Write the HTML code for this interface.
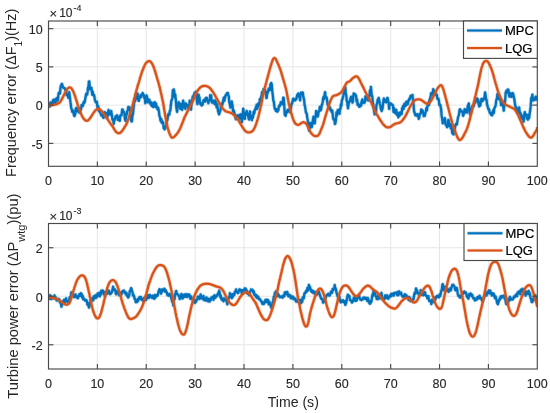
<!DOCTYPE html>
<html><head><meta charset="utf-8"><title>Frequency and turbine power error</title>
<style>html,body{margin:0;padding:0;background:#fff;width:550px;height:413px;overflow:hidden}svg{display:block}</style>
</head><body>
<svg width="550" height="413" viewBox="0 0 550 413" font-family="'Liberation Sans', Arial, Helvetica, sans-serif">
<defs><clipPath id="c1"><rect x="48.5" y="21.0" width="488.79999999999995" height="145.3"/></clipPath>
<clipPath id="c2"><rect x="48.5" y="223.5" width="488.79999999999995" height="145.5"/></clipPath></defs>
<rect width="550" height="413" fill="#fff"/>
<line x1="97.38" y1="21.0" x2="97.38" y2="166.3" stroke="#e6e6e6" stroke-width="1"/>
<line x1="146.26" y1="21.0" x2="146.26" y2="166.3" stroke="#e6e6e6" stroke-width="1"/>
<line x1="195.14" y1="21.0" x2="195.14" y2="166.3" stroke="#e6e6e6" stroke-width="1"/>
<line x1="244.02" y1="21.0" x2="244.02" y2="166.3" stroke="#e6e6e6" stroke-width="1"/>
<line x1="292.90" y1="21.0" x2="292.90" y2="166.3" stroke="#e6e6e6" stroke-width="1"/>
<line x1="341.78" y1="21.0" x2="341.78" y2="166.3" stroke="#e6e6e6" stroke-width="1"/>
<line x1="390.66" y1="21.0" x2="390.66" y2="166.3" stroke="#e6e6e6" stroke-width="1"/>
<line x1="439.54" y1="21.0" x2="439.54" y2="166.3" stroke="#e6e6e6" stroke-width="1"/>
<line x1="488.42" y1="21.0" x2="488.42" y2="166.3" stroke="#e6e6e6" stroke-width="1"/>
<line x1="48.5" y1="28.65" x2="537.3" y2="28.65" stroke="#e6e6e6" stroke-width="1"/>
<line x1="48.5" y1="66.88" x2="537.3" y2="66.88" stroke="#e6e6e6" stroke-width="1"/>
<line x1="48.5" y1="105.12" x2="537.3" y2="105.12" stroke="#e6e6e6" stroke-width="1"/>
<line x1="48.5" y1="143.36" x2="537.3" y2="143.36" stroke="#e6e6e6" stroke-width="1"/>
<line x1="97.38" y1="223.5" x2="97.38" y2="369.0" stroke="#e6e6e6" stroke-width="1"/>
<line x1="146.26" y1="223.5" x2="146.26" y2="369.0" stroke="#e6e6e6" stroke-width="1"/>
<line x1="195.14" y1="223.5" x2="195.14" y2="369.0" stroke="#e6e6e6" stroke-width="1"/>
<line x1="244.02" y1="223.5" x2="244.02" y2="369.0" stroke="#e6e6e6" stroke-width="1"/>
<line x1="292.90" y1="223.5" x2="292.90" y2="369.0" stroke="#e6e6e6" stroke-width="1"/>
<line x1="341.78" y1="223.5" x2="341.78" y2="369.0" stroke="#e6e6e6" stroke-width="1"/>
<line x1="390.66" y1="223.5" x2="390.66" y2="369.0" stroke="#e6e6e6" stroke-width="1"/>
<line x1="439.54" y1="223.5" x2="439.54" y2="369.0" stroke="#e6e6e6" stroke-width="1"/>
<line x1="488.42" y1="223.5" x2="488.42" y2="369.0" stroke="#e6e6e6" stroke-width="1"/>
<line x1="48.5" y1="247.75" x2="537.3" y2="247.75" stroke="#e6e6e6" stroke-width="1"/>
<line x1="48.5" y1="296.25" x2="537.3" y2="296.25" stroke="#e6e6e6" stroke-width="1"/>
<line x1="48.5" y1="344.75" x2="537.3" y2="344.75" stroke="#e6e6e6" stroke-width="1"/>
<g clip-path="url(#c1)"><polyline points="48.5,106.2 49.0,103.6 49.6,106.7 50.2,105.6 50.7,102.3 51.2,103.3 51.7,102.7 52.1,103.4 52.6,103.8 53.1,100.2 53.6,99.8 54.2,104.0 54.7,102.0 55.2,103.7 55.7,98.9 56.2,100.5 56.6,101.1 57.1,97.8 57.6,100.5 58.0,99.3 58.5,93.8 59.0,92.8 59.5,93.5 60.0,93.5 60.4,88.5 60.9,85.6 61.3,86.3 61.8,83.8 62.2,84.4 62.7,86.5 63.3,87.9 63.8,87.6 64.3,88.0 64.8,88.4 65.3,90.1 65.7,90.2 66.2,89.9 66.6,95.2 67.0,94.6 67.5,95.9 67.9,94.4 68.3,97.9 68.8,96.6 69.2,92.1 69.8,96.4 70.4,101.6 70.8,104.5 71.3,108.6 71.7,108.9 72.2,111.8 72.7,111.8 73.1,110.7 73.6,113.0 74.0,115.4 74.5,116.0 74.9,115.1 75.3,113.6 75.8,108.8 76.2,108.0 76.7,111.2 77.2,109.5 77.6,108.6 78.1,110.9 78.6,112.1 79.0,112.5 79.5,111.4 80.0,112.2 80.5,110.0 81.1,108.9 81.6,105.0 82.1,105.0 82.7,106.1 83.2,104.4 83.7,101.9 84.3,102.8 84.8,101.7 85.3,98.4 85.8,96.0 86.3,93.6 86.7,93.6 87.2,94.5 87.6,91.7 88.0,87.6 88.5,86.4 88.9,81.5 89.3,81.4 89.8,87.5 90.2,89.4 90.8,88.8 91.4,87.8 91.8,90.9 92.3,94.8 92.7,91.5 93.1,95.1 93.6,94.9 94.0,94.8 94.4,96.8 94.9,99.9 95.3,101.2 95.9,102.4 96.5,102.6 96.9,101.8 97.4,107.1 97.8,106.6 98.2,106.3 98.7,109.6 99.1,111.2 99.6,111.2 100.0,111.7 100.5,113.4 101.0,114.4 101.4,115.5 101.9,115.7 102.3,114.5 102.9,116.8 103.5,117.8 103.9,117.0 104.4,115.4 104.8,112.2 105.2,113.4 105.7,114.8 106.1,113.1 106.7,117.5 107.3,117.9 107.7,113.3 108.2,111.5 108.6,110.0 109.0,114.5 109.5,112.5 109.9,112.4 110.3,114.6 110.8,112.8 111.2,111.0 111.8,114.6 112.4,119.6 112.8,118.8 113.3,120.5 113.7,123.8 114.1,121.4 114.6,119.6 115.0,119.4 115.5,116.4 116.0,117.7 116.4,117.2 116.9,115.4 117.3,115.4 117.8,119.9 118.2,118.4 118.7,117.1 119.3,119.5 119.8,120.9 120.2,116.0 120.7,115.1 121.1,115.0 121.6,115.2 122.2,109.5 122.7,109.6 123.2,111.1 123.8,112.1 124.3,112.1 124.9,118.9 125.5,120.8 125.9,117.5 126.4,114.1 126.8,114.4 127.3,111.2 127.8,110.2 128.3,107.0 128.9,109.4 129.4,107.3 130.0,109.4 130.5,116.9 131.1,120.4 131.6,121.5 132.0,121.0 132.5,114.7 132.9,114.6 133.3,110.6 133.8,105.9 134.2,102.1 134.7,98.6 135.2,101.0 135.7,94.4 136.2,98.1 136.6,98.5 137.1,96.0 137.6,93.6 138.0,98.7 138.5,100.8 138.9,100.9 139.3,98.8 139.8,97.2 140.2,96.0 140.7,95.0 141.1,97.2 141.6,95.7 142.1,94.2 142.7,93.0 143.3,95.2 143.8,95.0 144.3,97.8 144.8,98.6 145.3,103.2 145.9,101.6 146.5,95.3 147.0,96.9 147.4,98.3 147.9,102.4 148.4,102.1 148.9,100.0 149.4,99.6 149.8,102.3 150.3,103.4 150.8,104.6 151.3,102.4 151.8,106.0 152.3,105.8 152.8,104.5 153.2,107.0 153.7,102.9 154.2,105.3 154.7,102.2 155.1,102.9 155.6,107.0 156.1,103.6 156.6,107.2 157.1,107.2 157.5,109.3 158.0,107.6 158.5,109.4 158.9,111.2 159.4,116.1 159.9,116.7 160.4,120.1 160.9,121.4 161.3,119.0 161.8,122.8 162.3,121.4 162.8,122.0 163.2,123.1 163.7,128.2 164.2,128.5 164.7,129.3 165.2,127.5 165.8,126.6 166.3,125.1 166.9,120.7 167.4,120.1 167.9,116.7 168.3,114.3 168.8,113.7 169.3,114.8 169.8,111.0 170.3,110.7 170.9,104.9 171.4,100.5 172.0,99.8 172.4,97.2 172.9,90.1 173.3,90.7 173.8,89.4 174.2,91.3 174.7,97.1 175.2,94.4 175.8,99.7 176.4,107.9 177.1,111.9 177.6,107.3 178.2,104.6 178.7,102.1 179.2,105.8 179.8,103.6 180.3,108.9 180.7,103.8 181.1,104.5 181.6,108.7 182.1,109.9 182.6,104.6 183.1,100.7 183.5,101.7 184.0,107.5 184.4,107.3 184.9,105.5 185.4,108.8 185.9,103.5 186.4,105.8 186.9,105.6 187.3,105.6 187.8,104.9 188.3,108.2 188.8,107.4 189.2,106.3 189.7,100.7 190.1,102.7 190.6,106.3 191.0,109.7 191.4,104.5 191.9,102.2 192.3,99.1 192.8,96.4 193.2,97.2 193.7,95.3 194.2,94.4 194.7,92.6 195.1,92.7 195.6,95.4 196.1,91.6 196.7,98.4 197.3,104.0 197.7,103.1 198.2,97.7 198.6,94.7 199.0,96.3 199.5,97.7 199.9,102.0 200.3,104.1 200.8,103.0 201.2,105.0 201.7,105.5 202.1,105.0 202.6,104.4 203.1,102.0 203.6,100.3 204.1,101.0 204.5,99.7 205.0,101.7 205.5,98.5 205.9,97.9 206.4,100.2 206.9,97.8 207.4,101.2 207.9,100.5 208.3,103.2 208.8,100.3 209.3,100.5 209.8,100.4 210.2,95.1 210.7,98.0 211.1,95.5 211.6,100.1 212.0,102.7 212.5,102.7 213.1,100.9 213.6,100.7 214.1,102.3 214.7,104.0 215.2,100.3 215.7,104.7 216.1,102.1 216.6,107.4 217.1,104.1 217.6,107.0 218.1,111.5 218.5,112.4 219.0,114.4 219.5,113.1 219.9,111.6 220.4,110.4 220.9,106.7 221.4,106.5 221.9,103.5 222.3,104.8 222.8,103.0 223.3,99.7 223.8,97.6 224.2,101.1 224.7,99.2 225.3,96.4 225.8,94.9 226.4,95.0 226.9,93.2 227.4,93.1 227.9,93.0 228.3,95.1 228.8,96.4 229.2,102.2 229.8,103.9 230.4,107.6 230.8,103.6 231.3,103.8 231.7,101.4 232.1,103.5 232.6,106.3 233.0,111.4 233.4,110.0 233.9,110.9 234.3,112.9 234.9,115.0 235.5,117.9 235.9,119.2 236.4,117.6 236.8,116.9 237.2,115.3 237.7,116.2 238.1,116.0 238.7,115.3 239.3,118.6 239.7,117.2 240.2,114.6 240.6,114.3 241.0,116.8 241.5,120.3 241.9,122.1 242.3,115.8 242.8,114.7 243.2,108.7 243.8,112.6 244.4,118.7 244.8,118.9 245.3,113.4 245.7,114.9 246.1,114.7 246.6,110.9 247.0,112.0 247.4,114.5 247.9,113.7 248.3,117.1 248.7,118.8 249.1,119.6 249.6,116.1 250.0,111.5 250.4,114.8 250.9,115.8 251.4,116.8 251.8,120.2 252.2,118.0 252.7,117.8 253.1,116.7 253.6,111.9 254.0,113.9 254.4,112.9 254.9,109.8 255.3,109.8 255.8,107.1 256.2,109.1 256.7,104.6 257.1,108.9 257.6,107.4 258.1,105.8 258.5,103.3 258.9,105.4 259.4,104.5 259.9,99.0 260.3,101.1 260.8,99.7 261.2,96.9 261.7,95.3 262.1,92.1 262.6,93.7 263.1,93.1 263.5,89.1 264.0,90.4 264.5,89.9 265.0,90.0 265.4,92.3 265.9,92.7 266.4,98.2 266.8,97.3 267.3,91.7 267.8,92.9 268.2,90.7 268.6,88.6 269.1,88.9 269.6,88.1 270.0,90.1 270.4,84.4 270.9,83.5 271.3,83.0 271.8,84.6 272.3,91.5 272.8,95.4 273.3,100.6 273.8,101.4 274.3,105.9 274.9,109.0 275.5,109.4 275.9,110.9 276.4,109.1 276.9,111.3 277.3,111.7 277.8,110.7 278.3,110.4 278.8,107.0 279.3,105.5 279.8,106.1 280.3,104.4 280.8,102.2 281.2,102.5 281.7,103.3 282.1,103.8 282.6,104.3 283.2,97.6 283.7,97.8 284.2,104.7 284.8,114.9 285.2,114.3 285.7,115.8 286.1,111.9 286.6,112.8 287.1,112.2 287.6,109.8 288.1,109.8 288.6,109.7 289.1,111.3 289.6,109.2 290.1,112.2 290.6,109.6 291.1,106.1 291.6,104.0 292.1,103.3 292.6,101.4 293.0,99.1 293.5,98.6 293.9,98.9 294.4,99.8 294.8,100.5 295.3,99.9 295.8,99.6 296.3,99.1 296.8,96.8 297.3,94.7 297.8,96.6 298.3,93.4 298.8,94.8 299.2,94.2 299.7,97.5 300.1,100.3 300.6,95.0 301.0,92.6 301.5,93.1 301.9,93.5 302.4,93.5 302.8,92.5 303.2,96.3 303.7,98.3 304.1,100.0 304.6,105.0 305.0,106.3 305.5,109.7 305.9,112.3 306.4,113.3 306.8,113.8 307.2,117.7 307.7,119.9 308.1,122.6 308.6,127.1 309.1,130.6 309.5,128.2 310.0,124.7 310.4,122.8 310.8,123.7 311.3,125.8 311.7,127.2 312.1,125.4 312.6,122.3 313.1,119.0 313.5,116.6 313.9,120.6 314.4,123.3 314.8,123.3 315.2,117.3 315.7,116.8 316.1,111.0 316.6,112.7 317.0,112.3 317.5,116.6 317.9,116.2 318.4,113.0 318.9,111.1 319.3,111.1 319.8,107.0 320.3,108.8 320.8,110.3 321.3,108.2 321.8,104.8 322.2,104.3 322.7,102.0 323.2,98.0 323.7,96.7 324.1,99.0 324.6,94.5 325.1,92.2 325.6,97.4 326.2,97.1 326.7,97.6 327.1,100.9 327.6,104.6 328.0,104.2 328.5,107.1 329.0,107.9 329.5,108.8 330.0,107.3 330.6,110.3 331.1,109.6 331.7,112.0 332.3,110.6 332.9,116.3 333.4,119.3 334.0,119.0 334.4,119.3 334.9,124.0 335.3,123.5 335.9,120.4 336.5,112.4 336.9,115.6 337.4,112.9 337.8,110.0 338.4,111.1 338.9,113.2 339.5,113.8 340.0,108.6 340.5,108.7 341.0,104.2 341.4,105.6 341.9,100.1 342.3,99.7 342.8,97.7 343.3,96.0 343.8,93.2 344.3,92.8 344.9,89.1 345.4,87.4 345.8,93.8 346.3,95.4 346.7,100.8 347.1,100.7 347.6,105.8 348.0,108.3 348.5,104.5 349.1,101.8 349.6,101.6 350.1,100.8 350.7,97.5 351.2,96.7 351.8,97.9 352.4,102.6 352.8,102.0 353.3,96.4 353.7,93.3 354.2,95.5 354.7,94.8 355.2,94.3 355.6,95.0 356.1,96.1 356.5,101.3 357.1,99.6 357.6,104.8 358.2,103.8 358.7,105.9 359.1,106.8 359.6,106.7 360.1,106.1 360.6,104.5 361.1,105.7 361.5,101.9 362.0,100.6 362.4,99.5 362.9,103.0 363.3,101.8 363.8,102.1 364.4,102.7 364.9,102.1 365.4,96.5 365.9,99.8 366.4,99.5 366.9,96.8 367.4,97.3 367.8,98.5 368.3,100.5 368.7,96.1 369.2,96.9 369.6,94.5 370.0,90.1 370.5,92.8 370.9,86.8 371.3,90.5 371.8,96.2 372.2,96.0 372.8,102.1 373.4,105.3 373.8,108.7 374.3,112.4 374.7,114.4 375.1,109.0 375.6,108.3 376.0,111.5 376.5,104.8 377.1,103.5 377.6,100.1 378.1,99.1 378.7,97.9 379.2,100.2 379.8,103.3 380.4,105.6 380.8,108.7 381.3,110.1 381.7,111.0 382.1,109.5 382.6,108.5 383.0,104.0 383.4,100.7 383.9,98.5 384.3,101.8 384.8,100.6 385.2,100.0 385.7,102.0 386.2,102.4 386.7,101.2 387.3,97.9 387.8,98.4 388.2,101.3 388.7,102.7 389.1,108.8 389.6,104.9 390.2,104.6 390.7,103.4 391.2,104.0 391.8,104.3 392.3,104.9 392.9,105.2 393.5,111.8 394.0,108.0 394.4,112.5 394.9,112.6 395.4,113.1 395.9,109.6 396.4,110.4 396.8,114.8 397.3,113.6 397.8,113.6 398.3,117.3 398.8,112.8 399.3,115.9 399.8,114.8 400.2,112.5 400.7,113.3 401.2,114.3 401.7,113.9 402.1,108.2 402.6,109.5 403.1,106.0 403.6,109.0 404.1,104.6 404.5,103.7 405.0,104.9 405.5,106.1 405.9,103.3 406.4,101.7 406.9,104.5 407.4,104.1 407.9,103.9 408.3,100.6 408.8,100.7 409.3,98.7 409.8,99.3 410.3,97.0 410.7,95.8 411.2,96.8 411.6,96.5 412.0,96.0 412.5,95.0 412.9,99.3 413.5,103.6 414.1,111.8 414.5,112.1 415.0,114.4 415.4,115.4 416.0,114.2 416.5,115.7 417.1,114.9 417.6,114.2 418.2,115.6 418.7,118.8 419.2,117.9 419.8,114.0 420.3,113.6 420.8,113.5 421.2,109.5 421.7,112.2 422.2,110.1 422.7,110.9 423.3,113.4 423.8,116.2 424.3,114.8 424.8,115.8 425.3,113.2 425.8,111.6 426.4,108.0 426.9,110.3 427.4,106.1 428.0,105.1 428.5,102.7 428.9,105.1 429.4,100.1 429.8,100.0 430.2,98.0 430.7,96.1 431.1,93.1 431.7,94.4 432.3,95.0 432.7,93.5 433.2,89.2 433.6,90.4 434.2,91.1 434.7,93.7 435.3,93.0 435.8,93.8 436.3,95.3 436.8,94.6 437.3,98.9 437.8,98.6 438.3,98.7 438.9,100.7 439.4,105.1 440.0,104.5 440.5,105.9 441.1,109.2 441.6,115.4 442.1,118.1 442.7,123.3 443.2,123.0 443.8,121.0 444.4,119.5 444.8,118.1 445.3,120.4 445.7,124.8 446.1,124.6 446.6,125.1 447.0,127.2 447.4,127.0 447.9,124.3 448.3,119.9 448.8,120.8 449.2,125.8 449.7,125.7 450.2,124.2 450.8,128.4 451.3,124.7 451.8,128.3 452.2,132.6 452.7,133.7 453.1,133.3 453.6,134.4 454.0,130.8 454.4,130.2 454.9,128.2 455.4,124.8 455.9,125.1 456.4,123.4 456.9,124.4 457.4,121.1 457.9,118.1 458.5,116.0 459.0,114.4 459.5,110.0 460.0,109.2 460.5,111.5 461.0,111.1 461.5,110.8 462.1,111.7 462.6,112.3 463.1,115.8 463.6,114.6 464.1,112.7 464.6,109.1 465.1,112.5 465.6,110.7 466.1,109.6 466.7,110.4 467.2,112.7 467.7,106.7 468.3,104.9 468.8,103.4 469.2,109.0 469.7,110.8 470.1,114.5 470.7,110.4 471.3,108.7 471.8,107.6 472.3,106.5 472.8,105.6 473.3,106.1 473.8,106.1 474.2,102.7 474.7,103.2 475.2,100.9 475.7,99.9 476.1,100.0 476.6,99.5 477.1,98.4 477.6,102.3 478.2,99.7 478.7,103.9 479.2,106.4 479.8,105.7 480.3,105.4 480.9,101.5 481.5,98.8 482.0,101.3 482.4,100.8 482.9,99.3 483.4,100.2 484.0,98.6 484.5,96.5 485.1,92.4 485.6,95.3 486.1,99.6 486.6,99.9 487.0,104.5 487.5,105.6 487.9,107.5 488.4,109.3 488.9,108.8 489.4,111.3 490.0,113.1 490.5,112.5 491.1,114.8 491.6,113.8 492.2,115.4 492.7,112.6 493.2,110.1 493.8,113.0 494.3,108.2 494.8,107.5 495.3,106.5 495.8,104.2 496.3,99.9 496.9,98.7 497.4,94.2 498.0,96.3 498.5,95.9 499.1,99.3 499.6,99.6 500.1,98.1 500.6,100.0 501.1,105.2 501.6,102.2 502.1,101.9 502.7,104.4 503.2,106.9 503.8,110.7 504.2,104.8 504.7,103.5 505.1,101.0 505.7,92.7 506.3,91.0 506.9,92.6 507.4,89.9 508.0,89.4 508.5,90.1 509.0,94.9 509.5,96.7 510.0,93.1 510.6,96.2 511.1,96.4 511.6,96.9 512.2,93.2 512.7,93.1 513.3,94.4 513.8,96.7 514.4,99.6 514.9,103.4 515.4,106.4 515.9,109.2 516.4,107.4 516.9,110.3 517.4,113.0 517.8,109.3 518.3,108.7 518.7,109.1 519.2,107.5 519.8,113.9 520.3,112.6 520.9,114.9 521.4,118.4 522.0,115.6 522.5,118.1 523.0,118.4 523.5,121.7 523.9,119.7 524.4,113.5 524.8,112.1 525.3,115.4 525.8,114.9 526.3,114.4 526.9,118.5 527.4,117.6 528.0,119.6 528.5,115.0 529.1,118.0 529.6,114.1 530.1,110.8 530.7,106.4 531.2,98.1 531.8,97.3 532.4,94.6 532.8,98.2 533.3,100.5 533.7,99.2 534.2,98.6 534.7,100.0 535.2,97.6 535.8,96.6 536.3,97.3 536.9,99.6 537.3,99.8" fill="none" stroke="#0072BD" stroke-opacity="0.3" stroke-width="3.6999999999999997" stroke-linejoin="round"/><polyline points="48.5,106.2 49.0,103.6 49.6,106.7 50.2,105.6 50.7,102.3 51.2,103.3 51.7,102.7 52.1,103.4 52.6,103.8 53.1,100.2 53.6,99.8 54.2,104.0 54.7,102.0 55.2,103.7 55.7,98.9 56.2,100.5 56.6,101.1 57.1,97.8 57.6,100.5 58.0,99.3 58.5,93.8 59.0,92.8 59.5,93.5 60.0,93.5 60.4,88.5 60.9,85.6 61.3,86.3 61.8,83.8 62.2,84.4 62.7,86.5 63.3,87.9 63.8,87.6 64.3,88.0 64.8,88.4 65.3,90.1 65.7,90.2 66.2,89.9 66.6,95.2 67.0,94.6 67.5,95.9 67.9,94.4 68.3,97.9 68.8,96.6 69.2,92.1 69.8,96.4 70.4,101.6 70.8,104.5 71.3,108.6 71.7,108.9 72.2,111.8 72.7,111.8 73.1,110.7 73.6,113.0 74.0,115.4 74.5,116.0 74.9,115.1 75.3,113.6 75.8,108.8 76.2,108.0 76.7,111.2 77.2,109.5 77.6,108.6 78.1,110.9 78.6,112.1 79.0,112.5 79.5,111.4 80.0,112.2 80.5,110.0 81.1,108.9 81.6,105.0 82.1,105.0 82.7,106.1 83.2,104.4 83.7,101.9 84.3,102.8 84.8,101.7 85.3,98.4 85.8,96.0 86.3,93.6 86.7,93.6 87.2,94.5 87.6,91.7 88.0,87.6 88.5,86.4 88.9,81.5 89.3,81.4 89.8,87.5 90.2,89.4 90.8,88.8 91.4,87.8 91.8,90.9 92.3,94.8 92.7,91.5 93.1,95.1 93.6,94.9 94.0,94.8 94.4,96.8 94.9,99.9 95.3,101.2 95.9,102.4 96.5,102.6 96.9,101.8 97.4,107.1 97.8,106.6 98.2,106.3 98.7,109.6 99.1,111.2 99.6,111.2 100.0,111.7 100.5,113.4 101.0,114.4 101.4,115.5 101.9,115.7 102.3,114.5 102.9,116.8 103.5,117.8 103.9,117.0 104.4,115.4 104.8,112.2 105.2,113.4 105.7,114.8 106.1,113.1 106.7,117.5 107.3,117.9 107.7,113.3 108.2,111.5 108.6,110.0 109.0,114.5 109.5,112.5 109.9,112.4 110.3,114.6 110.8,112.8 111.2,111.0 111.8,114.6 112.4,119.6 112.8,118.8 113.3,120.5 113.7,123.8 114.1,121.4 114.6,119.6 115.0,119.4 115.5,116.4 116.0,117.7 116.4,117.2 116.9,115.4 117.3,115.4 117.8,119.9 118.2,118.4 118.7,117.1 119.3,119.5 119.8,120.9 120.2,116.0 120.7,115.1 121.1,115.0 121.6,115.2 122.2,109.5 122.7,109.6 123.2,111.1 123.8,112.1 124.3,112.1 124.9,118.9 125.5,120.8 125.9,117.5 126.4,114.1 126.8,114.4 127.3,111.2 127.8,110.2 128.3,107.0 128.9,109.4 129.4,107.3 130.0,109.4 130.5,116.9 131.1,120.4 131.6,121.5 132.0,121.0 132.5,114.7 132.9,114.6 133.3,110.6 133.8,105.9 134.2,102.1 134.7,98.6 135.2,101.0 135.7,94.4 136.2,98.1 136.6,98.5 137.1,96.0 137.6,93.6 138.0,98.7 138.5,100.8 138.9,100.9 139.3,98.8 139.8,97.2 140.2,96.0 140.7,95.0 141.1,97.2 141.6,95.7 142.1,94.2 142.7,93.0 143.3,95.2 143.8,95.0 144.3,97.8 144.8,98.6 145.3,103.2 145.9,101.6 146.5,95.3 147.0,96.9 147.4,98.3 147.9,102.4 148.4,102.1 148.9,100.0 149.4,99.6 149.8,102.3 150.3,103.4 150.8,104.6 151.3,102.4 151.8,106.0 152.3,105.8 152.8,104.5 153.2,107.0 153.7,102.9 154.2,105.3 154.7,102.2 155.1,102.9 155.6,107.0 156.1,103.6 156.6,107.2 157.1,107.2 157.5,109.3 158.0,107.6 158.5,109.4 158.9,111.2 159.4,116.1 159.9,116.7 160.4,120.1 160.9,121.4 161.3,119.0 161.8,122.8 162.3,121.4 162.8,122.0 163.2,123.1 163.7,128.2 164.2,128.5 164.7,129.3 165.2,127.5 165.8,126.6 166.3,125.1 166.9,120.7 167.4,120.1 167.9,116.7 168.3,114.3 168.8,113.7 169.3,114.8 169.8,111.0 170.3,110.7 170.9,104.9 171.4,100.5 172.0,99.8 172.4,97.2 172.9,90.1 173.3,90.7 173.8,89.4 174.2,91.3 174.7,97.1 175.2,94.4 175.8,99.7 176.4,107.9 177.1,111.9 177.6,107.3 178.2,104.6 178.7,102.1 179.2,105.8 179.8,103.6 180.3,108.9 180.7,103.8 181.1,104.5 181.6,108.7 182.1,109.9 182.6,104.6 183.1,100.7 183.5,101.7 184.0,107.5 184.4,107.3 184.9,105.5 185.4,108.8 185.9,103.5 186.4,105.8 186.9,105.6 187.3,105.6 187.8,104.9 188.3,108.2 188.8,107.4 189.2,106.3 189.7,100.7 190.1,102.7 190.6,106.3 191.0,109.7 191.4,104.5 191.9,102.2 192.3,99.1 192.8,96.4 193.2,97.2 193.7,95.3 194.2,94.4 194.7,92.6 195.1,92.7 195.6,95.4 196.1,91.6 196.7,98.4 197.3,104.0 197.7,103.1 198.2,97.7 198.6,94.7 199.0,96.3 199.5,97.7 199.9,102.0 200.3,104.1 200.8,103.0 201.2,105.0 201.7,105.5 202.1,105.0 202.6,104.4 203.1,102.0 203.6,100.3 204.1,101.0 204.5,99.7 205.0,101.7 205.5,98.5 205.9,97.9 206.4,100.2 206.9,97.8 207.4,101.2 207.9,100.5 208.3,103.2 208.8,100.3 209.3,100.5 209.8,100.4 210.2,95.1 210.7,98.0 211.1,95.5 211.6,100.1 212.0,102.7 212.5,102.7 213.1,100.9 213.6,100.7 214.1,102.3 214.7,104.0 215.2,100.3 215.7,104.7 216.1,102.1 216.6,107.4 217.1,104.1 217.6,107.0 218.1,111.5 218.5,112.4 219.0,114.4 219.5,113.1 219.9,111.6 220.4,110.4 220.9,106.7 221.4,106.5 221.9,103.5 222.3,104.8 222.8,103.0 223.3,99.7 223.8,97.6 224.2,101.1 224.7,99.2 225.3,96.4 225.8,94.9 226.4,95.0 226.9,93.2 227.4,93.1 227.9,93.0 228.3,95.1 228.8,96.4 229.2,102.2 229.8,103.9 230.4,107.6 230.8,103.6 231.3,103.8 231.7,101.4 232.1,103.5 232.6,106.3 233.0,111.4 233.4,110.0 233.9,110.9 234.3,112.9 234.9,115.0 235.5,117.9 235.9,119.2 236.4,117.6 236.8,116.9 237.2,115.3 237.7,116.2 238.1,116.0 238.7,115.3 239.3,118.6 239.7,117.2 240.2,114.6 240.6,114.3 241.0,116.8 241.5,120.3 241.9,122.1 242.3,115.8 242.8,114.7 243.2,108.7 243.8,112.6 244.4,118.7 244.8,118.9 245.3,113.4 245.7,114.9 246.1,114.7 246.6,110.9 247.0,112.0 247.4,114.5 247.9,113.7 248.3,117.1 248.7,118.8 249.1,119.6 249.6,116.1 250.0,111.5 250.4,114.8 250.9,115.8 251.4,116.8 251.8,120.2 252.2,118.0 252.7,117.8 253.1,116.7 253.6,111.9 254.0,113.9 254.4,112.9 254.9,109.8 255.3,109.8 255.8,107.1 256.2,109.1 256.7,104.6 257.1,108.9 257.6,107.4 258.1,105.8 258.5,103.3 258.9,105.4 259.4,104.5 259.9,99.0 260.3,101.1 260.8,99.7 261.2,96.9 261.7,95.3 262.1,92.1 262.6,93.7 263.1,93.1 263.5,89.1 264.0,90.4 264.5,89.9 265.0,90.0 265.4,92.3 265.9,92.7 266.4,98.2 266.8,97.3 267.3,91.7 267.8,92.9 268.2,90.7 268.6,88.6 269.1,88.9 269.6,88.1 270.0,90.1 270.4,84.4 270.9,83.5 271.3,83.0 271.8,84.6 272.3,91.5 272.8,95.4 273.3,100.6 273.8,101.4 274.3,105.9 274.9,109.0 275.5,109.4 275.9,110.9 276.4,109.1 276.9,111.3 277.3,111.7 277.8,110.7 278.3,110.4 278.8,107.0 279.3,105.5 279.8,106.1 280.3,104.4 280.8,102.2 281.2,102.5 281.7,103.3 282.1,103.8 282.6,104.3 283.2,97.6 283.7,97.8 284.2,104.7 284.8,114.9 285.2,114.3 285.7,115.8 286.1,111.9 286.6,112.8 287.1,112.2 287.6,109.8 288.1,109.8 288.6,109.7 289.1,111.3 289.6,109.2 290.1,112.2 290.6,109.6 291.1,106.1 291.6,104.0 292.1,103.3 292.6,101.4 293.0,99.1 293.5,98.6 293.9,98.9 294.4,99.8 294.8,100.5 295.3,99.9 295.8,99.6 296.3,99.1 296.8,96.8 297.3,94.7 297.8,96.6 298.3,93.4 298.8,94.8 299.2,94.2 299.7,97.5 300.1,100.3 300.6,95.0 301.0,92.6 301.5,93.1 301.9,93.5 302.4,93.5 302.8,92.5 303.2,96.3 303.7,98.3 304.1,100.0 304.6,105.0 305.0,106.3 305.5,109.7 305.9,112.3 306.4,113.3 306.8,113.8 307.2,117.7 307.7,119.9 308.1,122.6 308.6,127.1 309.1,130.6 309.5,128.2 310.0,124.7 310.4,122.8 310.8,123.7 311.3,125.8 311.7,127.2 312.1,125.4 312.6,122.3 313.1,119.0 313.5,116.6 313.9,120.6 314.4,123.3 314.8,123.3 315.2,117.3 315.7,116.8 316.1,111.0 316.6,112.7 317.0,112.3 317.5,116.6 317.9,116.2 318.4,113.0 318.9,111.1 319.3,111.1 319.8,107.0 320.3,108.8 320.8,110.3 321.3,108.2 321.8,104.8 322.2,104.3 322.7,102.0 323.2,98.0 323.7,96.7 324.1,99.0 324.6,94.5 325.1,92.2 325.6,97.4 326.2,97.1 326.7,97.6 327.1,100.9 327.6,104.6 328.0,104.2 328.5,107.1 329.0,107.9 329.5,108.8 330.0,107.3 330.6,110.3 331.1,109.6 331.7,112.0 332.3,110.6 332.9,116.3 333.4,119.3 334.0,119.0 334.4,119.3 334.9,124.0 335.3,123.5 335.9,120.4 336.5,112.4 336.9,115.6 337.4,112.9 337.8,110.0 338.4,111.1 338.9,113.2 339.5,113.8 340.0,108.6 340.5,108.7 341.0,104.2 341.4,105.6 341.9,100.1 342.3,99.7 342.8,97.7 343.3,96.0 343.8,93.2 344.3,92.8 344.9,89.1 345.4,87.4 345.8,93.8 346.3,95.4 346.7,100.8 347.1,100.7 347.6,105.8 348.0,108.3 348.5,104.5 349.1,101.8 349.6,101.6 350.1,100.8 350.7,97.5 351.2,96.7 351.8,97.9 352.4,102.6 352.8,102.0 353.3,96.4 353.7,93.3 354.2,95.5 354.7,94.8 355.2,94.3 355.6,95.0 356.1,96.1 356.5,101.3 357.1,99.6 357.6,104.8 358.2,103.8 358.7,105.9 359.1,106.8 359.6,106.7 360.1,106.1 360.6,104.5 361.1,105.7 361.5,101.9 362.0,100.6 362.4,99.5 362.9,103.0 363.3,101.8 363.8,102.1 364.4,102.7 364.9,102.1 365.4,96.5 365.9,99.8 366.4,99.5 366.9,96.8 367.4,97.3 367.8,98.5 368.3,100.5 368.7,96.1 369.2,96.9 369.6,94.5 370.0,90.1 370.5,92.8 370.9,86.8 371.3,90.5 371.8,96.2 372.2,96.0 372.8,102.1 373.4,105.3 373.8,108.7 374.3,112.4 374.7,114.4 375.1,109.0 375.6,108.3 376.0,111.5 376.5,104.8 377.1,103.5 377.6,100.1 378.1,99.1 378.7,97.9 379.2,100.2 379.8,103.3 380.4,105.6 380.8,108.7 381.3,110.1 381.7,111.0 382.1,109.5 382.6,108.5 383.0,104.0 383.4,100.7 383.9,98.5 384.3,101.8 384.8,100.6 385.2,100.0 385.7,102.0 386.2,102.4 386.7,101.2 387.3,97.9 387.8,98.4 388.2,101.3 388.7,102.7 389.1,108.8 389.6,104.9 390.2,104.6 390.7,103.4 391.2,104.0 391.8,104.3 392.3,104.9 392.9,105.2 393.5,111.8 394.0,108.0 394.4,112.5 394.9,112.6 395.4,113.1 395.9,109.6 396.4,110.4 396.8,114.8 397.3,113.6 397.8,113.6 398.3,117.3 398.8,112.8 399.3,115.9 399.8,114.8 400.2,112.5 400.7,113.3 401.2,114.3 401.7,113.9 402.1,108.2 402.6,109.5 403.1,106.0 403.6,109.0 404.1,104.6 404.5,103.7 405.0,104.9 405.5,106.1 405.9,103.3 406.4,101.7 406.9,104.5 407.4,104.1 407.9,103.9 408.3,100.6 408.8,100.7 409.3,98.7 409.8,99.3 410.3,97.0 410.7,95.8 411.2,96.8 411.6,96.5 412.0,96.0 412.5,95.0 412.9,99.3 413.5,103.6 414.1,111.8 414.5,112.1 415.0,114.4 415.4,115.4 416.0,114.2 416.5,115.7 417.1,114.9 417.6,114.2 418.2,115.6 418.7,118.8 419.2,117.9 419.8,114.0 420.3,113.6 420.8,113.5 421.2,109.5 421.7,112.2 422.2,110.1 422.7,110.9 423.3,113.4 423.8,116.2 424.3,114.8 424.8,115.8 425.3,113.2 425.8,111.6 426.4,108.0 426.9,110.3 427.4,106.1 428.0,105.1 428.5,102.7 428.9,105.1 429.4,100.1 429.8,100.0 430.2,98.0 430.7,96.1 431.1,93.1 431.7,94.4 432.3,95.0 432.7,93.5 433.2,89.2 433.6,90.4 434.2,91.1 434.7,93.7 435.3,93.0 435.8,93.8 436.3,95.3 436.8,94.6 437.3,98.9 437.8,98.6 438.3,98.7 438.9,100.7 439.4,105.1 440.0,104.5 440.5,105.9 441.1,109.2 441.6,115.4 442.1,118.1 442.7,123.3 443.2,123.0 443.8,121.0 444.4,119.5 444.8,118.1 445.3,120.4 445.7,124.8 446.1,124.6 446.6,125.1 447.0,127.2 447.4,127.0 447.9,124.3 448.3,119.9 448.8,120.8 449.2,125.8 449.7,125.7 450.2,124.2 450.8,128.4 451.3,124.7 451.8,128.3 452.2,132.6 452.7,133.7 453.1,133.3 453.6,134.4 454.0,130.8 454.4,130.2 454.9,128.2 455.4,124.8 455.9,125.1 456.4,123.4 456.9,124.4 457.4,121.1 457.9,118.1 458.5,116.0 459.0,114.4 459.5,110.0 460.0,109.2 460.5,111.5 461.0,111.1 461.5,110.8 462.1,111.7 462.6,112.3 463.1,115.8 463.6,114.6 464.1,112.7 464.6,109.1 465.1,112.5 465.6,110.7 466.1,109.6 466.7,110.4 467.2,112.7 467.7,106.7 468.3,104.9 468.8,103.4 469.2,109.0 469.7,110.8 470.1,114.5 470.7,110.4 471.3,108.7 471.8,107.6 472.3,106.5 472.8,105.6 473.3,106.1 473.8,106.1 474.2,102.7 474.7,103.2 475.2,100.9 475.7,99.9 476.1,100.0 476.6,99.5 477.1,98.4 477.6,102.3 478.2,99.7 478.7,103.9 479.2,106.4 479.8,105.7 480.3,105.4 480.9,101.5 481.5,98.8 482.0,101.3 482.4,100.8 482.9,99.3 483.4,100.2 484.0,98.6 484.5,96.5 485.1,92.4 485.6,95.3 486.1,99.6 486.6,99.9 487.0,104.5 487.5,105.6 487.9,107.5 488.4,109.3 488.9,108.8 489.4,111.3 490.0,113.1 490.5,112.5 491.1,114.8 491.6,113.8 492.2,115.4 492.7,112.6 493.2,110.1 493.8,113.0 494.3,108.2 494.8,107.5 495.3,106.5 495.8,104.2 496.3,99.9 496.9,98.7 497.4,94.2 498.0,96.3 498.5,95.9 499.1,99.3 499.6,99.6 500.1,98.1 500.6,100.0 501.1,105.2 501.6,102.2 502.1,101.9 502.7,104.4 503.2,106.9 503.8,110.7 504.2,104.8 504.7,103.5 505.1,101.0 505.7,92.7 506.3,91.0 506.9,92.6 507.4,89.9 508.0,89.4 508.5,90.1 509.0,94.9 509.5,96.7 510.0,93.1 510.6,96.2 511.1,96.4 511.6,96.9 512.2,93.2 512.7,93.1 513.3,94.4 513.8,96.7 514.4,99.6 514.9,103.4 515.4,106.4 515.9,109.2 516.4,107.4 516.9,110.3 517.4,113.0 517.8,109.3 518.3,108.7 518.7,109.1 519.2,107.5 519.8,113.9 520.3,112.6 520.9,114.9 521.4,118.4 522.0,115.6 522.5,118.1 523.0,118.4 523.5,121.7 523.9,119.7 524.4,113.5 524.8,112.1 525.3,115.4 525.8,114.9 526.3,114.4 526.9,118.5 527.4,117.6 528.0,119.6 528.5,115.0 529.1,118.0 529.6,114.1 530.1,110.8 530.7,106.4 531.2,98.1 531.8,97.3 532.4,94.6 532.8,98.2 533.3,100.5 533.7,99.2 534.2,98.6 534.7,100.0 535.2,97.6 535.8,96.6 536.3,97.3 536.9,99.6 537.3,99.8" fill="none" stroke="#0072BD" stroke-width="2.3" stroke-linejoin="round"/><polyline points="48.5,105.5 49.1,105.4 50.0,105.4 51.0,105.3 52.0,105.2 53.0,105.0 53.9,104.9 54.6,104.7 55.3,104.5 56.0,104.3 56.6,104.1 57.2,103.9 57.7,103.6 58.2,103.3 58.7,103.1 59.1,102.8 59.5,102.5 59.9,102.2 60.3,101.7 60.7,101.1 61.1,100.4 61.6,99.7 62.0,98.9 62.4,98.1 62.8,97.3 63.2,96.5 63.6,95.6 64.0,94.7 64.5,93.8 64.9,93.0 65.3,92.2 65.7,91.4 66.2,90.7 66.6,90.0 67.1,89.3 67.5,88.8 67.9,88.3 68.3,88.0 68.7,87.7 69.1,87.5 69.5,87.4 69.8,87.4 70.2,87.5 70.6,87.7 70.9,87.9 71.3,88.2 71.6,88.6 72.0,89.1 72.3,89.6 72.6,90.2 73.0,90.8 73.3,91.5 73.6,92.3 73.9,93.1 74.3,94.1 74.7,95.2 75.1,96.4 75.5,97.7 75.9,99.1 76.4,100.4 76.8,101.7 77.2,103.0 77.6,104.3 78.0,105.6 78.5,106.9 78.9,108.1 79.3,109.3 79.7,110.5 80.2,111.6 80.6,112.7 81.0,113.8 81.5,114.8 81.9,115.7 82.3,116.5 82.7,117.3 83.2,117.9 83.6,118.5 84.0,119.0 84.4,119.5 84.8,119.9 85.3,120.2 85.7,120.5 86.1,120.7 86.6,120.8 87.0,120.8 87.4,120.7 87.8,120.5 88.3,120.2 88.7,119.8 89.1,119.4 89.5,118.9 89.9,118.4 90.4,117.8 90.8,117.1 91.2,116.4 91.7,115.8 92.1,115.1 92.5,114.4 92.9,113.8 93.3,113.1 93.8,112.4 94.2,111.8 94.6,111.3 95.0,110.8 95.5,110.4 95.9,110.0 96.4,109.6 96.8,109.3 97.2,109.1 97.6,108.9 97.9,108.8 98.2,108.8 98.5,108.8 98.8,108.8 99.1,108.9 99.4,109.0 99.7,109.2 100.0,109.5 100.3,109.7 100.6,110.1 101.0,110.4 101.4,110.8 101.8,111.2 102.2,111.7 102.6,112.1 103.1,112.7 103.5,113.2 103.9,113.8 104.4,114.4 104.8,115.0 105.2,115.7 105.7,116.4 106.1,117.0 106.5,117.6 106.9,118.3 107.3,118.9 107.8,119.5 108.2,120.2 108.6,120.8 109.0,121.5 109.5,122.1 110.0,122.8 110.4,123.5 110.8,124.1 111.2,124.6 111.5,125.0 111.8,125.3 112.0,125.6 112.3,125.9 112.5,126.2 112.8,126.6 113.1,127.1 113.4,127.7 113.7,128.3 114.1,128.9 114.4,129.5 114.7,130.0 115.0,130.5 115.3,130.9 115.6,131.3 115.9,131.7 116.2,132.0 116.6,132.3 117.0,132.6 117.4,132.8 117.9,133.0 118.3,133.2 118.8,133.2 119.2,133.2 119.6,133.1 120.0,132.9 120.5,132.6 120.9,132.2 121.3,131.8 121.7,131.4 122.1,130.9 122.6,130.3 123.0,129.7 123.4,129.0 123.9,128.3 124.3,127.6 124.7,126.9 125.1,126.3 125.6,125.6 126.0,124.9 126.4,124.1 126.8,123.2 127.2,122.2 127.6,121.1 128.0,119.9 128.5,118.7 128.9,117.5 129.3,116.2 129.7,114.9 130.2,113.5 130.6,112.1 131.1,110.6 131.5,109.2 131.9,107.9 132.3,106.7 132.6,105.5 132.9,104.3 133.2,103.2 133.5,102.0 133.8,100.8 134.1,99.6 134.4,98.3 134.8,97.0 135.1,95.8 135.4,94.5 135.7,93.3 136.0,92.1 136.3,90.9 136.6,89.7 137.0,88.6 137.3,87.4 137.6,86.3 137.9,85.2 138.2,84.2 138.6,83.1 138.9,82.1 139.2,81.0 139.5,80.0 139.8,78.9 140.1,77.8 140.4,76.7 140.8,75.6 141.1,74.6 141.4,73.6 141.7,72.7 142.0,71.8 142.3,70.9 142.7,70.1 143.0,69.3 143.3,68.5 143.6,67.7 144.0,66.9 144.3,66.1 144.6,65.4 145.0,64.7 145.3,64.1 145.6,63.6 145.9,63.2 146.3,62.8 146.6,62.4 146.9,62.2 147.2,61.9 147.5,61.7 147.8,61.5 148.1,61.3 148.5,61.2 148.8,61.1 149.1,61.1 149.4,61.2 149.7,61.3 150.1,61.4 150.4,61.6 150.7,61.9 151.0,62.2 151.3,62.6 151.6,63.0 151.9,63.5 152.3,64.0 152.6,64.6 152.9,65.3 153.2,66.0 153.5,66.8 153.9,67.6 154.2,68.5 154.5,69.5 154.8,70.4 155.1,71.4 155.4,72.4 155.8,73.5 156.1,74.6 156.4,75.7 156.7,76.8 157.0,77.9 157.3,78.9 157.6,79.9 158.0,81.0 158.3,82.1 158.6,83.2 158.9,84.4 159.2,85.6 159.6,86.9 159.9,88.1 160.2,89.5 160.5,90.8 160.8,92.2 161.2,93.7 161.5,95.1 161.8,96.6 162.1,98.1 162.4,99.4 162.7,100.6 162.9,101.8 163.1,102.9 163.3,104.0 163.5,105.1 163.7,106.3 163.9,107.6 164.1,108.9 164.3,110.3 164.6,111.7 164.8,113.0 165.0,114.3 165.2,115.5 165.4,116.8 165.7,117.9 165.9,119.1 166.1,120.2 166.3,121.3 166.5,122.3 166.7,123.3 166.9,124.3 167.1,125.2 167.3,126.1 167.5,127.1 167.8,128.1 168.1,129.2 168.4,130.2 168.7,131.2 169.1,132.2 169.4,133.1 169.7,133.9 170.1,134.7 170.4,135.4 170.7,136.0 171.0,136.6 171.3,137.0 171.5,137.3 171.8,137.5 172.0,137.7 172.1,137.7 172.4,137.7 172.6,137.7 172.9,137.6 173.2,137.5 173.5,137.3 173.8,137.0 174.2,136.8 174.5,136.5 174.8,136.2 175.1,135.9 175.4,135.5 175.8,135.2 176.1,134.8 176.4,134.4 176.7,134.0 177.0,133.6 177.3,133.2 177.7,132.8 178.0,132.3 178.3,131.8 178.6,131.3 179.0,130.7 179.3,130.1 179.6,129.5 180.0,128.8 180.3,128.1 180.6,127.4 180.9,126.6 181.2,125.8 181.5,125.0 181.9,124.2 182.2,123.3 182.6,122.4 183.0,121.4 183.4,120.3 183.8,119.3 184.2,118.3 184.6,117.3 185.0,116.4 185.5,115.5 185.9,114.6 186.3,113.8 186.8,112.9 187.2,112.1 187.6,111.3 188.0,110.5 188.4,109.6 188.9,108.8 189.3,108.0 189.7,107.2 190.1,106.4 190.6,105.5 191.0,104.7 191.4,103.9 191.9,103.0 192.3,102.1 192.7,101.2 193.1,100.2 193.6,99.2 194.0,98.2 194.4,97.2 194.8,96.3 195.2,95.4 195.6,94.5 196.0,93.7 196.5,92.8 196.9,92.0 197.3,91.3 197.7,90.6 198.2,90.0 198.6,89.3 199.0,88.8 199.5,88.3 199.9,87.8 200.3,87.4 200.7,87.1 201.2,86.8 201.6,86.6 202.0,86.4 202.4,86.2 202.8,86.1 203.3,86.0 203.7,85.9 204.1,85.9 204.6,85.9 205.0,85.9 205.4,85.9 205.8,86.0 206.2,86.1 206.7,86.2 207.1,86.3 207.5,86.5 207.9,86.7 208.4,87.0 208.8,87.2 209.2,87.5 209.7,87.9 210.1,88.3 210.5,88.8 210.9,89.3 211.3,89.8 211.8,90.4 212.2,91.0 212.6,91.6 213.0,92.2 213.5,92.9 213.9,93.6 214.3,94.3 214.8,95.0 215.2,95.7 215.6,96.4 216.0,97.2 216.4,97.9 216.9,98.7 217.3,99.5 217.7,100.2 218.1,100.9 218.6,101.7 219.0,102.4 219.4,103.2 219.9,103.9 220.3,104.6 220.7,105.3 221.1,106.0 221.6,106.6 222.0,107.2 222.4,107.8 222.8,108.4 223.2,108.9 223.6,109.4 224.0,109.9 224.5,110.3 224.9,110.7 225.3,111.0 225.7,111.3 226.2,111.5 226.6,111.6 227.0,111.7 227.5,111.9 227.9,112.0 228.3,112.1 228.7,112.2 229.2,112.3 229.6,112.4 230.0,112.5 230.4,112.7 230.8,112.9 231.3,113.1 231.7,113.3 232.1,113.6 232.6,113.9 233.0,114.2 233.4,114.6 233.8,114.9 234.2,115.3 234.7,115.8 235.1,116.2 235.5,116.7 235.9,117.2 236.4,117.7 236.8,118.2 237.3,118.8 237.7,119.3 238.1,119.9 238.5,120.4 238.8,121.0 239.2,121.6 239.5,122.1 239.8,122.7 240.2,123.3 240.6,123.9 241.0,124.6 241.3,125.3 241.8,126.0 242.2,126.6 242.6,127.3 243.1,128.0 243.5,128.7 244.0,129.4 244.5,130.0 245.0,130.6 245.5,131.1 246.0,131.5 246.5,131.8 246.9,132.0 247.4,132.2 247.9,132.3 248.3,132.4 248.7,132.4 249.2,132.4 249.6,132.4 250.0,132.3 250.4,132.2 250.8,132.0 251.2,131.8 251.6,131.6 252.0,131.4 252.3,131.2 252.7,130.8 253.0,130.5 253.3,130.1 253.6,129.7 253.9,129.2 254.2,128.6 254.4,128.1 254.7,127.5 255.0,126.9 255.2,126.3 255.5,125.6 255.8,124.9 256.0,124.2 256.3,123.4 256.6,122.6 256.8,121.8 257.1,121.0 257.4,120.1 257.6,119.2 257.9,118.3 258.2,117.3 258.4,116.3 258.7,115.3 259.0,114.2 259.2,113.1 259.5,112.0 259.8,110.8 260.1,109.6 260.3,108.4 260.6,107.1 260.9,105.8 261.2,104.5 261.5,103.1 261.8,101.7 262.1,100.2 262.3,98.7 262.6,97.3 262.9,96.0 263.1,94.8 263.4,93.8 263.6,92.8 263.8,91.9 264.1,90.8 264.4,89.5 264.8,88.0 265.2,86.4 265.6,84.7 266.1,83.0 266.5,81.2 267.0,79.5 267.5,77.8 267.9,76.0 268.4,74.2 268.9,72.5 269.3,70.9 269.7,69.5 270.0,68.3 270.4,67.2 270.6,66.2 270.9,65.3 271.2,64.5 271.4,63.7 271.6,62.9 271.9,62.2 272.1,61.6 272.3,61.0 272.5,60.5 272.7,60.0 272.9,59.5 273.1,59.1 273.3,58.8 273.6,58.5 273.8,58.2 274.0,58.1 274.2,58.0 274.5,58.0 274.7,58.1 275.0,58.3 275.2,58.5 275.5,58.8 275.8,59.1 276.0,59.5 276.2,60.0 276.5,60.5 276.8,61.2 277.2,62.0 277.6,63.0 278.1,64.1 278.7,65.3 279.2,66.7 279.8,68.1 280.3,69.5 280.8,71.0 281.3,72.6 281.8,74.3 282.3,76.1 282.8,77.8 283.3,79.5 283.8,81.2 284.3,82.8 284.8,84.5 285.2,86.2 285.7,87.8 286.1,89.5 286.5,91.2 286.8,92.8 287.1,94.5 287.4,96.2 287.7,97.8 288.0,99.3 288.3,100.8 288.6,102.1 288.8,103.5 289.1,104.8 289.4,106.1 289.7,107.4 290.0,108.7 290.4,110.0 290.7,111.3 291.1,112.6 291.5,113.8 291.8,114.9 292.1,115.9 292.4,116.9 292.7,117.8 293.0,118.7 293.3,119.5 293.6,120.2 293.9,120.9 294.2,121.6 294.5,122.2 294.8,122.7 295.1,123.2 295.5,123.6 295.9,124.0 296.3,124.3 296.7,124.5 297.1,124.7 297.6,124.9 298.0,124.9 298.4,124.8 298.9,124.7 299.3,124.4 299.7,124.1 300.2,123.9 300.6,123.6 301.0,123.3 301.5,123.0 301.9,122.7 302.4,122.5 302.8,122.3 303.3,122.2 303.8,122.2 304.2,122.4 304.7,122.6 305.2,122.9 305.6,123.2 306.0,123.6 306.4,124.0 306.7,124.5 307.0,125.0 307.3,125.6 307.6,126.2 308.0,126.9 308.4,127.7 308.8,128.6 309.3,129.6 309.7,130.5 310.2,131.4 310.6,132.2 311.0,132.9 311.5,133.5 311.9,134.0 312.4,134.5 312.8,134.9 313.3,135.3 313.8,135.6 314.2,135.8 314.7,136.0 315.1,136.1 315.6,136.2 316.0,136.2 316.4,136.1 316.9,136.0 317.3,135.9 317.8,135.7 318.2,135.3 318.6,134.9 319.0,134.4 319.4,133.7 319.7,133.0 320.1,132.2 320.4,131.3 320.8,130.4 321.2,129.4 321.6,128.4 322.1,127.3 322.5,126.2 322.9,125.1 323.3,123.9 323.7,122.7 324.0,121.5 324.4,120.2 324.7,118.9 325.0,117.7 325.4,116.4 325.8,115.2 326.2,113.9 326.5,112.7 326.9,111.5 327.3,110.3 327.7,109.1 328.1,107.9 328.4,106.7 328.8,105.5 329.2,104.4 329.5,103.3 329.9,102.3 330.3,101.3 330.6,100.4 331.0,99.5 331.4,98.7 331.8,98.0 332.1,97.4 332.4,96.9 332.7,96.6 333.0,96.3 333.3,96.1 333.7,95.9 334.0,95.7 334.4,95.5 334.8,95.4 335.2,95.4 335.6,95.3 336.1,95.2 336.5,95.1 336.9,94.9 337.4,94.7 337.8,94.5 338.2,94.3 338.7,94.1 339.1,93.8 339.5,93.5 340.0,93.3 340.4,93.0 340.8,92.7 341.2,92.3 341.6,91.9 342.0,91.4 342.3,91.0 342.6,90.4 342.9,89.9 343.2,89.3 343.5,88.7 343.8,88.1 344.1,87.4 344.4,86.8 344.8,86.1 345.1,85.5 345.4,84.9 345.7,84.4 346.0,83.9 346.3,83.4 346.6,83.0 346.9,82.6 347.3,82.3 347.7,82.0 348.1,81.8 348.6,81.7 349.0,81.6 349.5,81.4 349.9,81.1 350.3,80.7 350.7,80.3 351.1,79.8 351.6,79.4 352.0,78.9 352.4,78.5 352.8,78.1 353.3,77.8 353.7,77.5 354.2,77.2 354.6,76.9 355.0,76.7 355.4,76.5 355.7,76.4 356.0,76.3 356.3,76.3 356.6,76.3 356.9,76.4 357.2,76.6 357.5,76.9 357.8,77.2 358.2,77.6 358.5,78.0 358.8,78.5 359.1,79.0 359.4,79.6 359.8,80.3 360.1,81.0 360.4,81.6 360.7,82.3 361.0,82.9 361.3,83.6 361.6,84.2 362.0,84.9 362.3,85.6 362.6,86.2 362.9,86.8 363.2,87.5 363.6,88.1 363.9,88.7 364.2,89.4 364.5,90.0 364.8,90.6 365.1,91.3 365.4,91.9 365.8,92.5 366.1,93.2 366.4,93.8 366.7,94.4 367.0,95.1 367.3,95.7 367.7,96.4 368.0,97.0 368.3,97.6 368.6,98.2 369.0,98.7 369.3,99.2 369.6,99.7 370.0,100.2 370.3,100.8 370.6,101.4 370.9,102.0 371.3,102.6 371.6,103.3 371.9,103.9 372.2,104.6 372.5,105.3 372.8,106.1 373.1,106.8 373.5,107.6 373.8,108.4 374.1,109.1 374.4,109.8 374.7,110.4 375.1,111.1 375.4,111.7 375.7,112.3 376.0,112.9 376.3,113.5 376.6,114.0 376.9,114.5 377.3,115.1 377.6,115.6 377.9,116.1 378.2,116.6 378.5,117.2 378.8,117.7 379.2,118.3 379.5,118.8 379.8,119.3 380.1,119.8 380.4,120.3 380.7,120.8 381.1,121.3 381.4,121.7 381.7,122.2 382.0,122.7 382.4,123.1 382.7,123.6 383.0,124.0 383.4,124.4 383.7,124.8 384.0,125.2 384.4,125.5 384.8,125.9 385.1,126.2 385.5,126.5 385.8,126.7 386.1,126.9 386.5,127.1 386.8,127.2 387.1,127.3 387.4,127.4 387.8,127.4 388.2,127.4 388.6,127.4 389.0,127.3 389.4,127.2 389.9,127.1 390.3,126.9 390.7,126.7 391.2,126.4 391.6,126.1 392.0,125.7 392.5,125.4 392.9,125.1 393.3,124.8 393.7,124.6 394.1,124.3 394.6,124.1 395.0,123.9 395.4,123.7 395.8,123.6 396.3,123.5 396.7,123.4 397.1,123.3 397.6,123.2 398.0,123.1 398.4,123.0 398.8,122.9 399.2,122.7 399.7,122.6 400.1,122.4 400.5,122.1 400.9,121.8 401.4,121.4 401.8,121.0 402.2,120.5 402.7,120.0 403.1,119.5 403.5,119.0 403.9,118.4 404.4,117.8 404.8,117.1 405.2,116.4 405.6,115.7 406.0,114.9 406.5,114.1 406.9,113.2 407.3,112.3 407.8,111.5 408.2,110.6 408.6,109.7 409.0,108.9 409.4,108.0 409.9,107.1 410.3,106.3 410.7,105.5 411.1,104.8 411.6,104.1 412.0,103.4 412.4,102.8 412.9,102.2 413.3,101.7 413.7,101.3 414.1,100.9 414.6,100.5 415.0,100.3 415.4,100.0 415.8,99.8 416.2,99.6 416.6,99.5 417.0,99.5 417.5,99.4 417.9,99.4 418.3,99.4 418.7,99.4 419.2,99.4 419.6,99.5 420.0,99.5 420.5,99.6 420.9,99.8 421.3,100.0 421.7,100.3 422.1,100.6 422.6,100.9 423.0,101.2 423.4,101.5 423.8,101.8 424.3,102.2 424.7,102.5 425.2,102.8 425.6,103.1 426.0,103.3 426.4,103.4 426.8,103.6 427.2,103.6 427.6,103.6 427.9,103.6 428.3,103.5 428.7,103.3 429.0,103.1 429.4,102.8 429.7,102.5 430.1,102.1 430.4,101.7 430.7,101.3 431.0,100.8 431.4,100.2 431.7,99.7 432.0,99.1 432.3,98.5 432.6,97.9 433.0,97.3 433.3,96.6 433.6,96.0 434.0,95.3 434.3,94.7 434.6,94.1 434.9,93.4 435.3,92.8 435.6,92.1 435.9,91.5 436.2,90.9 436.5,90.3 436.8,89.7 437.1,89.1 437.5,88.5 437.8,88.0 438.1,87.5 438.4,87.1 438.8,86.7 439.1,86.3 439.4,86.1 439.7,85.8 440.0,85.6 440.3,85.4 440.5,85.3 440.7,85.2 440.9,85.1 441.1,85.2 441.4,85.4 441.7,85.7 442.0,86.1 442.3,86.7 442.6,87.3 442.9,88.0 443.2,88.8 443.5,89.7 443.8,90.8 444.1,92.0 444.5,93.2 444.8,94.4 445.1,95.6 445.4,96.8 445.7,98.0 446.1,99.2 446.4,100.4 446.7,101.6 447.0,102.8 447.3,104.0 447.6,105.3 447.9,106.5 448.3,107.8 448.6,109.0 448.9,110.3 449.2,111.6 449.5,112.8 449.8,114.1 450.2,115.3 450.5,116.6 450.8,117.8 451.1,119.0 451.4,120.2 451.8,121.3 452.1,122.5 452.4,123.6 452.8,124.8 453.2,126.0 453.6,127.2 454.0,128.4 454.5,129.6 454.9,130.7 455.3,131.8 455.7,132.9 456.1,133.9 456.5,135.0 456.9,136.0 457.2,136.8 457.6,137.6 457.9,138.2 458.3,138.8 458.6,139.2 458.9,139.6 459.3,139.9 459.6,140.0 460.0,140.0 460.3,139.9 460.7,139.7 461.1,139.3 461.4,139.0 461.8,138.6 462.1,138.2 462.5,137.6 462.8,137.1 463.2,136.5 463.5,135.9 463.8,135.3 464.1,134.7 464.4,134.2 464.7,133.6 465.0,133.0 465.3,132.4 465.6,131.8 465.9,131.2 466.2,130.6 466.5,129.9 466.7,129.3 467.0,128.6 467.3,127.8 467.6,127.0 467.9,126.1 468.1,125.2 468.4,124.3 468.7,123.3 469.0,122.3 469.3,121.2 469.6,120.1 469.9,118.9 470.2,117.7 470.5,116.5 470.8,115.3 471.1,114.2 471.4,113.0 471.7,111.9 472.0,110.7 472.3,109.6 472.6,108.3 472.9,107.0 473.2,105.6 473.5,104.1 473.9,102.7 474.2,101.2 474.5,99.8 474.8,98.4 475.1,97.1 475.5,95.7 475.8,94.4 476.1,93.1 476.4,91.8 476.7,90.5 477.0,89.3 477.3,88.0 477.6,86.8 477.9,85.5 478.2,84.2 478.5,82.8 478.7,81.5 479.0,80.0 479.3,78.6 479.5,77.2 479.8,75.9 480.1,74.6 480.3,73.3 480.6,72.0 480.9,70.7 481.1,69.6 481.4,68.5 481.7,67.5 482.0,66.6 482.3,65.8 482.5,65.0 482.8,64.3 483.1,63.7 483.4,63.2 483.6,62.7 483.9,62.3 484.1,61.9 484.3,61.7 484.6,61.4 484.9,61.2 485.1,61.1 485.4,61.0 485.7,60.9 485.9,60.9 486.2,60.9 486.4,60.9 486.7,61.0 486.9,61.1 487.1,61.3 487.4,61.5 487.6,61.7 487.8,61.9 488.0,62.1 488.3,62.3 488.5,62.6 488.8,63.1 489.1,63.7 489.5,64.6 490.0,65.6 490.5,66.8 491.1,68.1 491.6,69.5 492.1,70.9 492.6,72.4 493.1,74.1 493.6,75.9 494.0,77.6 494.5,79.3 494.9,80.8 495.3,82.1 495.6,83.3 496.0,84.5 496.3,85.5 496.6,86.6 496.9,87.6 497.2,88.6 497.5,89.6 497.8,90.6 498.1,91.6 498.5,92.5 498.8,93.4 499.1,94.3 499.5,95.2 499.9,96.1 500.3,96.9 500.6,97.7 501.0,98.5 501.4,99.2 501.7,99.9 502.1,100.6 502.5,101.2 502.8,101.8 503.2,102.3 503.6,102.8 503.9,103.1 504.3,103.5 504.6,103.8 505.0,104.1 505.4,104.4 505.8,104.7 506.3,105.0 506.8,105.3 507.3,105.5 507.8,105.8 508.3,106.0 508.7,106.2 509.2,106.4 509.6,106.6 510.0,106.8 510.4,107.0 510.8,107.2 511.2,107.4 511.7,107.6 512.1,107.8 512.5,108.0 512.9,108.3 513.3,108.5 513.7,108.7 514.0,109.0 514.3,109.2 514.7,109.5 515.0,109.8 515.3,110.2 515.6,110.6 515.9,111.1 516.3,111.6 516.6,112.2 516.9,112.7 517.2,113.3 517.5,113.9 517.8,114.5 518.2,115.2 518.5,115.8 518.8,116.5 519.1,117.2 519.4,117.9 519.7,118.6 520.0,119.4 520.4,120.1 520.7,120.9 521.0,121.6 521.3,122.3 521.6,123.1 522.0,123.9 522.3,124.6 522.6,125.4 522.9,126.1 523.2,126.8 523.5,127.5 523.8,128.2 524.2,128.8 524.5,129.5 524.8,130.1 525.1,130.7 525.4,131.3 525.7,131.8 526.1,132.4 526.4,132.9 526.7,133.4 527.0,133.9 527.4,134.5 527.7,135.0 528.1,135.5 528.5,135.9 528.8,136.3 529.1,136.7 529.5,137.0 529.8,137.3 530.1,137.5 530.5,137.6 530.8,137.7 531.1,137.7 531.5,137.5 531.8,137.3 532.1,137.0 532.5,136.7 532.8,136.3 533.2,135.8 533.5,135.2 533.9,134.6 534.3,133.9 534.6,133.2 535.0,132.6 535.4,132.0 535.7,131.4 536.1,130.9 536.4,130.3 536.7,129.8 536.9,129.3 537.1,128.8 537.2,128.4 537.2,128.0 537.3,127.6 537.3,127.3 537.3,127.1" fill="none" stroke="#D95319" stroke-opacity="0.3" stroke-width="3.6999999999999997" stroke-linejoin="round"/><polyline points="48.5,105.5 49.1,105.4 50.0,105.4 51.0,105.3 52.0,105.2 53.0,105.0 53.9,104.9 54.6,104.7 55.3,104.5 56.0,104.3 56.6,104.1 57.2,103.9 57.7,103.6 58.2,103.3 58.7,103.1 59.1,102.8 59.5,102.5 59.9,102.2 60.3,101.7 60.7,101.1 61.1,100.4 61.6,99.7 62.0,98.9 62.4,98.1 62.8,97.3 63.2,96.5 63.6,95.6 64.0,94.7 64.5,93.8 64.9,93.0 65.3,92.2 65.7,91.4 66.2,90.7 66.6,90.0 67.1,89.3 67.5,88.8 67.9,88.3 68.3,88.0 68.7,87.7 69.1,87.5 69.5,87.4 69.8,87.4 70.2,87.5 70.6,87.7 70.9,87.9 71.3,88.2 71.6,88.6 72.0,89.1 72.3,89.6 72.6,90.2 73.0,90.8 73.3,91.5 73.6,92.3 73.9,93.1 74.3,94.1 74.7,95.2 75.1,96.4 75.5,97.7 75.9,99.1 76.4,100.4 76.8,101.7 77.2,103.0 77.6,104.3 78.0,105.6 78.5,106.9 78.9,108.1 79.3,109.3 79.7,110.5 80.2,111.6 80.6,112.7 81.0,113.8 81.5,114.8 81.9,115.7 82.3,116.5 82.7,117.3 83.2,117.9 83.6,118.5 84.0,119.0 84.4,119.5 84.8,119.9 85.3,120.2 85.7,120.5 86.1,120.7 86.6,120.8 87.0,120.8 87.4,120.7 87.8,120.5 88.3,120.2 88.7,119.8 89.1,119.4 89.5,118.9 89.9,118.4 90.4,117.8 90.8,117.1 91.2,116.4 91.7,115.8 92.1,115.1 92.5,114.4 92.9,113.8 93.3,113.1 93.8,112.4 94.2,111.8 94.6,111.3 95.0,110.8 95.5,110.4 95.9,110.0 96.4,109.6 96.8,109.3 97.2,109.1 97.6,108.9 97.9,108.8 98.2,108.8 98.5,108.8 98.8,108.8 99.1,108.9 99.4,109.0 99.7,109.2 100.0,109.5 100.3,109.7 100.6,110.1 101.0,110.4 101.4,110.8 101.8,111.2 102.2,111.7 102.6,112.1 103.1,112.7 103.5,113.2 103.9,113.8 104.4,114.4 104.8,115.0 105.2,115.7 105.7,116.4 106.1,117.0 106.5,117.6 106.9,118.3 107.3,118.9 107.8,119.5 108.2,120.2 108.6,120.8 109.0,121.5 109.5,122.1 110.0,122.8 110.4,123.5 110.8,124.1 111.2,124.6 111.5,125.0 111.8,125.3 112.0,125.6 112.3,125.9 112.5,126.2 112.8,126.6 113.1,127.1 113.4,127.7 113.7,128.3 114.1,128.9 114.4,129.5 114.7,130.0 115.0,130.5 115.3,130.9 115.6,131.3 115.9,131.7 116.2,132.0 116.6,132.3 117.0,132.6 117.4,132.8 117.9,133.0 118.3,133.2 118.8,133.2 119.2,133.2 119.6,133.1 120.0,132.9 120.5,132.6 120.9,132.2 121.3,131.8 121.7,131.4 122.1,130.9 122.6,130.3 123.0,129.7 123.4,129.0 123.9,128.3 124.3,127.6 124.7,126.9 125.1,126.3 125.6,125.6 126.0,124.9 126.4,124.1 126.8,123.2 127.2,122.2 127.6,121.1 128.0,119.9 128.5,118.7 128.9,117.5 129.3,116.2 129.7,114.9 130.2,113.5 130.6,112.1 131.1,110.6 131.5,109.2 131.9,107.9 132.3,106.7 132.6,105.5 132.9,104.3 133.2,103.2 133.5,102.0 133.8,100.8 134.1,99.6 134.4,98.3 134.8,97.0 135.1,95.8 135.4,94.5 135.7,93.3 136.0,92.1 136.3,90.9 136.6,89.7 137.0,88.6 137.3,87.4 137.6,86.3 137.9,85.2 138.2,84.2 138.6,83.1 138.9,82.1 139.2,81.0 139.5,80.0 139.8,78.9 140.1,77.8 140.4,76.7 140.8,75.6 141.1,74.6 141.4,73.6 141.7,72.7 142.0,71.8 142.3,70.9 142.7,70.1 143.0,69.3 143.3,68.5 143.6,67.7 144.0,66.9 144.3,66.1 144.6,65.4 145.0,64.7 145.3,64.1 145.6,63.6 145.9,63.2 146.3,62.8 146.6,62.4 146.9,62.2 147.2,61.9 147.5,61.7 147.8,61.5 148.1,61.3 148.5,61.2 148.8,61.1 149.1,61.1 149.4,61.2 149.7,61.3 150.1,61.4 150.4,61.6 150.7,61.9 151.0,62.2 151.3,62.6 151.6,63.0 151.9,63.5 152.3,64.0 152.6,64.6 152.9,65.3 153.2,66.0 153.5,66.8 153.9,67.6 154.2,68.5 154.5,69.5 154.8,70.4 155.1,71.4 155.4,72.4 155.8,73.5 156.1,74.6 156.4,75.7 156.7,76.8 157.0,77.9 157.3,78.9 157.6,79.9 158.0,81.0 158.3,82.1 158.6,83.2 158.9,84.4 159.2,85.6 159.6,86.9 159.9,88.1 160.2,89.5 160.5,90.8 160.8,92.2 161.2,93.7 161.5,95.1 161.8,96.6 162.1,98.1 162.4,99.4 162.7,100.6 162.9,101.8 163.1,102.9 163.3,104.0 163.5,105.1 163.7,106.3 163.9,107.6 164.1,108.9 164.3,110.3 164.6,111.7 164.8,113.0 165.0,114.3 165.2,115.5 165.4,116.8 165.7,117.9 165.9,119.1 166.1,120.2 166.3,121.3 166.5,122.3 166.7,123.3 166.9,124.3 167.1,125.2 167.3,126.1 167.5,127.1 167.8,128.1 168.1,129.2 168.4,130.2 168.7,131.2 169.1,132.2 169.4,133.1 169.7,133.9 170.1,134.7 170.4,135.4 170.7,136.0 171.0,136.6 171.3,137.0 171.5,137.3 171.8,137.5 172.0,137.7 172.1,137.7 172.4,137.7 172.6,137.7 172.9,137.6 173.2,137.5 173.5,137.3 173.8,137.0 174.2,136.8 174.5,136.5 174.8,136.2 175.1,135.9 175.4,135.5 175.8,135.2 176.1,134.8 176.4,134.4 176.7,134.0 177.0,133.6 177.3,133.2 177.7,132.8 178.0,132.3 178.3,131.8 178.6,131.3 179.0,130.7 179.3,130.1 179.6,129.5 180.0,128.8 180.3,128.1 180.6,127.4 180.9,126.6 181.2,125.8 181.5,125.0 181.9,124.2 182.2,123.3 182.6,122.4 183.0,121.4 183.4,120.3 183.8,119.3 184.2,118.3 184.6,117.3 185.0,116.4 185.5,115.5 185.9,114.6 186.3,113.8 186.8,112.9 187.2,112.1 187.6,111.3 188.0,110.5 188.4,109.6 188.9,108.8 189.3,108.0 189.7,107.2 190.1,106.4 190.6,105.5 191.0,104.7 191.4,103.9 191.9,103.0 192.3,102.1 192.7,101.2 193.1,100.2 193.6,99.2 194.0,98.2 194.4,97.2 194.8,96.3 195.2,95.4 195.6,94.5 196.0,93.7 196.5,92.8 196.9,92.0 197.3,91.3 197.7,90.6 198.2,90.0 198.6,89.3 199.0,88.8 199.5,88.3 199.9,87.8 200.3,87.4 200.7,87.1 201.2,86.8 201.6,86.6 202.0,86.4 202.4,86.2 202.8,86.1 203.3,86.0 203.7,85.9 204.1,85.9 204.6,85.9 205.0,85.9 205.4,85.9 205.8,86.0 206.2,86.1 206.7,86.2 207.1,86.3 207.5,86.5 207.9,86.7 208.4,87.0 208.8,87.2 209.2,87.5 209.7,87.9 210.1,88.3 210.5,88.8 210.9,89.3 211.3,89.8 211.8,90.4 212.2,91.0 212.6,91.6 213.0,92.2 213.5,92.9 213.9,93.6 214.3,94.3 214.8,95.0 215.2,95.7 215.6,96.4 216.0,97.2 216.4,97.9 216.9,98.7 217.3,99.5 217.7,100.2 218.1,100.9 218.6,101.7 219.0,102.4 219.4,103.2 219.9,103.9 220.3,104.6 220.7,105.3 221.1,106.0 221.6,106.6 222.0,107.2 222.4,107.8 222.8,108.4 223.2,108.9 223.6,109.4 224.0,109.9 224.5,110.3 224.9,110.7 225.3,111.0 225.7,111.3 226.2,111.5 226.6,111.6 227.0,111.7 227.5,111.9 227.9,112.0 228.3,112.1 228.7,112.2 229.2,112.3 229.6,112.4 230.0,112.5 230.4,112.7 230.8,112.9 231.3,113.1 231.7,113.3 232.1,113.6 232.6,113.9 233.0,114.2 233.4,114.6 233.8,114.9 234.2,115.3 234.7,115.8 235.1,116.2 235.5,116.7 235.9,117.2 236.4,117.7 236.8,118.2 237.3,118.8 237.7,119.3 238.1,119.9 238.5,120.4 238.8,121.0 239.2,121.6 239.5,122.1 239.8,122.7 240.2,123.3 240.6,123.9 241.0,124.6 241.3,125.3 241.8,126.0 242.2,126.6 242.6,127.3 243.1,128.0 243.5,128.7 244.0,129.4 244.5,130.0 245.0,130.6 245.5,131.1 246.0,131.5 246.5,131.8 246.9,132.0 247.4,132.2 247.9,132.3 248.3,132.4 248.7,132.4 249.2,132.4 249.6,132.4 250.0,132.3 250.4,132.2 250.8,132.0 251.2,131.8 251.6,131.6 252.0,131.4 252.3,131.2 252.7,130.8 253.0,130.5 253.3,130.1 253.6,129.7 253.9,129.2 254.2,128.6 254.4,128.1 254.7,127.5 255.0,126.9 255.2,126.3 255.5,125.6 255.8,124.9 256.0,124.2 256.3,123.4 256.6,122.6 256.8,121.8 257.1,121.0 257.4,120.1 257.6,119.2 257.9,118.3 258.2,117.3 258.4,116.3 258.7,115.3 259.0,114.2 259.2,113.1 259.5,112.0 259.8,110.8 260.1,109.6 260.3,108.4 260.6,107.1 260.9,105.8 261.2,104.5 261.5,103.1 261.8,101.7 262.1,100.2 262.3,98.7 262.6,97.3 262.9,96.0 263.1,94.8 263.4,93.8 263.6,92.8 263.8,91.9 264.1,90.8 264.4,89.5 264.8,88.0 265.2,86.4 265.6,84.7 266.1,83.0 266.5,81.2 267.0,79.5 267.5,77.8 267.9,76.0 268.4,74.2 268.9,72.5 269.3,70.9 269.7,69.5 270.0,68.3 270.4,67.2 270.6,66.2 270.9,65.3 271.2,64.5 271.4,63.7 271.6,62.9 271.9,62.2 272.1,61.6 272.3,61.0 272.5,60.5 272.7,60.0 272.9,59.5 273.1,59.1 273.3,58.8 273.6,58.5 273.8,58.2 274.0,58.1 274.2,58.0 274.5,58.0 274.7,58.1 275.0,58.3 275.2,58.5 275.5,58.8 275.8,59.1 276.0,59.5 276.2,60.0 276.5,60.5 276.8,61.2 277.2,62.0 277.6,63.0 278.1,64.1 278.7,65.3 279.2,66.7 279.8,68.1 280.3,69.5 280.8,71.0 281.3,72.6 281.8,74.3 282.3,76.1 282.8,77.8 283.3,79.5 283.8,81.2 284.3,82.8 284.8,84.5 285.2,86.2 285.7,87.8 286.1,89.5 286.5,91.2 286.8,92.8 287.1,94.5 287.4,96.2 287.7,97.8 288.0,99.3 288.3,100.8 288.6,102.1 288.8,103.5 289.1,104.8 289.4,106.1 289.7,107.4 290.0,108.7 290.4,110.0 290.7,111.3 291.1,112.6 291.5,113.8 291.8,114.9 292.1,115.9 292.4,116.9 292.7,117.8 293.0,118.7 293.3,119.5 293.6,120.2 293.9,120.9 294.2,121.6 294.5,122.2 294.8,122.7 295.1,123.2 295.5,123.6 295.9,124.0 296.3,124.3 296.7,124.5 297.1,124.7 297.6,124.9 298.0,124.9 298.4,124.8 298.9,124.7 299.3,124.4 299.7,124.1 300.2,123.9 300.6,123.6 301.0,123.3 301.5,123.0 301.9,122.7 302.4,122.5 302.8,122.3 303.3,122.2 303.8,122.2 304.2,122.4 304.7,122.6 305.2,122.9 305.6,123.2 306.0,123.6 306.4,124.0 306.7,124.5 307.0,125.0 307.3,125.6 307.6,126.2 308.0,126.9 308.4,127.7 308.8,128.6 309.3,129.6 309.7,130.5 310.2,131.4 310.6,132.2 311.0,132.9 311.5,133.5 311.9,134.0 312.4,134.5 312.8,134.9 313.3,135.3 313.8,135.6 314.2,135.8 314.7,136.0 315.1,136.1 315.6,136.2 316.0,136.2 316.4,136.1 316.9,136.0 317.3,135.9 317.8,135.7 318.2,135.3 318.6,134.9 319.0,134.4 319.4,133.7 319.7,133.0 320.1,132.2 320.4,131.3 320.8,130.4 321.2,129.4 321.6,128.4 322.1,127.3 322.5,126.2 322.9,125.1 323.3,123.9 323.7,122.7 324.0,121.5 324.4,120.2 324.7,118.9 325.0,117.7 325.4,116.4 325.8,115.2 326.2,113.9 326.5,112.7 326.9,111.5 327.3,110.3 327.7,109.1 328.1,107.9 328.4,106.7 328.8,105.5 329.2,104.4 329.5,103.3 329.9,102.3 330.3,101.3 330.6,100.4 331.0,99.5 331.4,98.7 331.8,98.0 332.1,97.4 332.4,96.9 332.7,96.6 333.0,96.3 333.3,96.1 333.7,95.9 334.0,95.7 334.4,95.5 334.8,95.4 335.2,95.4 335.6,95.3 336.1,95.2 336.5,95.1 336.9,94.9 337.4,94.7 337.8,94.5 338.2,94.3 338.7,94.1 339.1,93.8 339.5,93.5 340.0,93.3 340.4,93.0 340.8,92.7 341.2,92.3 341.6,91.9 342.0,91.4 342.3,91.0 342.6,90.4 342.9,89.9 343.2,89.3 343.5,88.7 343.8,88.1 344.1,87.4 344.4,86.8 344.8,86.1 345.1,85.5 345.4,84.9 345.7,84.4 346.0,83.9 346.3,83.4 346.6,83.0 346.9,82.6 347.3,82.3 347.7,82.0 348.1,81.8 348.6,81.7 349.0,81.6 349.5,81.4 349.9,81.1 350.3,80.7 350.7,80.3 351.1,79.8 351.6,79.4 352.0,78.9 352.4,78.5 352.8,78.1 353.3,77.8 353.7,77.5 354.2,77.2 354.6,76.9 355.0,76.7 355.4,76.5 355.7,76.4 356.0,76.3 356.3,76.3 356.6,76.3 356.9,76.4 357.2,76.6 357.5,76.9 357.8,77.2 358.2,77.6 358.5,78.0 358.8,78.5 359.1,79.0 359.4,79.6 359.8,80.3 360.1,81.0 360.4,81.6 360.7,82.3 361.0,82.9 361.3,83.6 361.6,84.2 362.0,84.9 362.3,85.6 362.6,86.2 362.9,86.8 363.2,87.5 363.6,88.1 363.9,88.7 364.2,89.4 364.5,90.0 364.8,90.6 365.1,91.3 365.4,91.9 365.8,92.5 366.1,93.2 366.4,93.8 366.7,94.4 367.0,95.1 367.3,95.7 367.7,96.4 368.0,97.0 368.3,97.6 368.6,98.2 369.0,98.7 369.3,99.2 369.6,99.7 370.0,100.2 370.3,100.8 370.6,101.4 370.9,102.0 371.3,102.6 371.6,103.3 371.9,103.9 372.2,104.6 372.5,105.3 372.8,106.1 373.1,106.8 373.5,107.6 373.8,108.4 374.1,109.1 374.4,109.8 374.7,110.4 375.1,111.1 375.4,111.7 375.7,112.3 376.0,112.9 376.3,113.5 376.6,114.0 376.9,114.5 377.3,115.1 377.6,115.6 377.9,116.1 378.2,116.6 378.5,117.2 378.8,117.7 379.2,118.3 379.5,118.8 379.8,119.3 380.1,119.8 380.4,120.3 380.7,120.8 381.1,121.3 381.4,121.7 381.7,122.2 382.0,122.7 382.4,123.1 382.7,123.6 383.0,124.0 383.4,124.4 383.7,124.8 384.0,125.2 384.4,125.5 384.8,125.9 385.1,126.2 385.5,126.5 385.8,126.7 386.1,126.9 386.5,127.1 386.8,127.2 387.1,127.3 387.4,127.4 387.8,127.4 388.2,127.4 388.6,127.4 389.0,127.3 389.4,127.2 389.9,127.1 390.3,126.9 390.7,126.7 391.2,126.4 391.6,126.1 392.0,125.7 392.5,125.4 392.9,125.1 393.3,124.8 393.7,124.6 394.1,124.3 394.6,124.1 395.0,123.9 395.4,123.7 395.8,123.6 396.3,123.5 396.7,123.4 397.1,123.3 397.6,123.2 398.0,123.1 398.4,123.0 398.8,122.9 399.2,122.7 399.7,122.6 400.1,122.4 400.5,122.1 400.9,121.8 401.4,121.4 401.8,121.0 402.2,120.5 402.7,120.0 403.1,119.5 403.5,119.0 403.9,118.4 404.4,117.8 404.8,117.1 405.2,116.4 405.6,115.7 406.0,114.9 406.5,114.1 406.9,113.2 407.3,112.3 407.8,111.5 408.2,110.6 408.6,109.7 409.0,108.9 409.4,108.0 409.9,107.1 410.3,106.3 410.7,105.5 411.1,104.8 411.6,104.1 412.0,103.4 412.4,102.8 412.9,102.2 413.3,101.7 413.7,101.3 414.1,100.9 414.6,100.5 415.0,100.3 415.4,100.0 415.8,99.8 416.2,99.6 416.6,99.5 417.0,99.5 417.5,99.4 417.9,99.4 418.3,99.4 418.7,99.4 419.2,99.4 419.6,99.5 420.0,99.5 420.5,99.6 420.9,99.8 421.3,100.0 421.7,100.3 422.1,100.6 422.6,100.9 423.0,101.2 423.4,101.5 423.8,101.8 424.3,102.2 424.7,102.5 425.2,102.8 425.6,103.1 426.0,103.3 426.4,103.4 426.8,103.6 427.2,103.6 427.6,103.6 427.9,103.6 428.3,103.5 428.7,103.3 429.0,103.1 429.4,102.8 429.7,102.5 430.1,102.1 430.4,101.7 430.7,101.3 431.0,100.8 431.4,100.2 431.7,99.7 432.0,99.1 432.3,98.5 432.6,97.9 433.0,97.3 433.3,96.6 433.6,96.0 434.0,95.3 434.3,94.7 434.6,94.1 434.9,93.4 435.3,92.8 435.6,92.1 435.9,91.5 436.2,90.9 436.5,90.3 436.8,89.7 437.1,89.1 437.5,88.5 437.8,88.0 438.1,87.5 438.4,87.1 438.8,86.7 439.1,86.3 439.4,86.1 439.7,85.8 440.0,85.6 440.3,85.4 440.5,85.3 440.7,85.2 440.9,85.1 441.1,85.2 441.4,85.4 441.7,85.7 442.0,86.1 442.3,86.7 442.6,87.3 442.9,88.0 443.2,88.8 443.5,89.7 443.8,90.8 444.1,92.0 444.5,93.2 444.8,94.4 445.1,95.6 445.4,96.8 445.7,98.0 446.1,99.2 446.4,100.4 446.7,101.6 447.0,102.8 447.3,104.0 447.6,105.3 447.9,106.5 448.3,107.8 448.6,109.0 448.9,110.3 449.2,111.6 449.5,112.8 449.8,114.1 450.2,115.3 450.5,116.6 450.8,117.8 451.1,119.0 451.4,120.2 451.8,121.3 452.1,122.5 452.4,123.6 452.8,124.8 453.2,126.0 453.6,127.2 454.0,128.4 454.5,129.6 454.9,130.7 455.3,131.8 455.7,132.9 456.1,133.9 456.5,135.0 456.9,136.0 457.2,136.8 457.6,137.6 457.9,138.2 458.3,138.8 458.6,139.2 458.9,139.6 459.3,139.9 459.6,140.0 460.0,140.0 460.3,139.9 460.7,139.7 461.1,139.3 461.4,139.0 461.8,138.6 462.1,138.2 462.5,137.6 462.8,137.1 463.2,136.5 463.5,135.9 463.8,135.3 464.1,134.7 464.4,134.2 464.7,133.6 465.0,133.0 465.3,132.4 465.6,131.8 465.9,131.2 466.2,130.6 466.5,129.9 466.7,129.3 467.0,128.6 467.3,127.8 467.6,127.0 467.9,126.1 468.1,125.2 468.4,124.3 468.7,123.3 469.0,122.3 469.3,121.2 469.6,120.1 469.9,118.9 470.2,117.7 470.5,116.5 470.8,115.3 471.1,114.2 471.4,113.0 471.7,111.9 472.0,110.7 472.3,109.6 472.6,108.3 472.9,107.0 473.2,105.6 473.5,104.1 473.9,102.7 474.2,101.2 474.5,99.8 474.8,98.4 475.1,97.1 475.5,95.7 475.8,94.4 476.1,93.1 476.4,91.8 476.7,90.5 477.0,89.3 477.3,88.0 477.6,86.8 477.9,85.5 478.2,84.2 478.5,82.8 478.7,81.5 479.0,80.0 479.3,78.6 479.5,77.2 479.8,75.9 480.1,74.6 480.3,73.3 480.6,72.0 480.9,70.7 481.1,69.6 481.4,68.5 481.7,67.5 482.0,66.6 482.3,65.8 482.5,65.0 482.8,64.3 483.1,63.7 483.4,63.2 483.6,62.7 483.9,62.3 484.1,61.9 484.3,61.7 484.6,61.4 484.9,61.2 485.1,61.1 485.4,61.0 485.7,60.9 485.9,60.9 486.2,60.9 486.4,60.9 486.7,61.0 486.9,61.1 487.1,61.3 487.4,61.5 487.6,61.7 487.8,61.9 488.0,62.1 488.3,62.3 488.5,62.6 488.8,63.1 489.1,63.7 489.5,64.6 490.0,65.6 490.5,66.8 491.1,68.1 491.6,69.5 492.1,70.9 492.6,72.4 493.1,74.1 493.6,75.9 494.0,77.6 494.5,79.3 494.9,80.8 495.3,82.1 495.6,83.3 496.0,84.5 496.3,85.5 496.6,86.6 496.9,87.6 497.2,88.6 497.5,89.6 497.8,90.6 498.1,91.6 498.5,92.5 498.8,93.4 499.1,94.3 499.5,95.2 499.9,96.1 500.3,96.9 500.6,97.7 501.0,98.5 501.4,99.2 501.7,99.9 502.1,100.6 502.5,101.2 502.8,101.8 503.2,102.3 503.6,102.8 503.9,103.1 504.3,103.5 504.6,103.8 505.0,104.1 505.4,104.4 505.8,104.7 506.3,105.0 506.8,105.3 507.3,105.5 507.8,105.8 508.3,106.0 508.7,106.2 509.2,106.4 509.6,106.6 510.0,106.8 510.4,107.0 510.8,107.2 511.2,107.4 511.7,107.6 512.1,107.8 512.5,108.0 512.9,108.3 513.3,108.5 513.7,108.7 514.0,109.0 514.3,109.2 514.7,109.5 515.0,109.8 515.3,110.2 515.6,110.6 515.9,111.1 516.3,111.6 516.6,112.2 516.9,112.7 517.2,113.3 517.5,113.9 517.8,114.5 518.2,115.2 518.5,115.8 518.8,116.5 519.1,117.2 519.4,117.9 519.7,118.6 520.0,119.4 520.4,120.1 520.7,120.9 521.0,121.6 521.3,122.3 521.6,123.1 522.0,123.9 522.3,124.6 522.6,125.4 522.9,126.1 523.2,126.8 523.5,127.5 523.8,128.2 524.2,128.8 524.5,129.5 524.8,130.1 525.1,130.7 525.4,131.3 525.7,131.8 526.1,132.4 526.4,132.9 526.7,133.4 527.0,133.9 527.4,134.5 527.7,135.0 528.1,135.5 528.5,135.9 528.8,136.3 529.1,136.7 529.5,137.0 529.8,137.3 530.1,137.5 530.5,137.6 530.8,137.7 531.1,137.7 531.5,137.5 531.8,137.3 532.1,137.0 532.5,136.7 532.8,136.3 533.2,135.8 533.5,135.2 533.9,134.6 534.3,133.9 534.6,133.2 535.0,132.6 535.4,132.0 535.7,131.4 536.1,130.9 536.4,130.3 536.7,129.8 536.9,129.3 537.1,128.8 537.2,128.4 537.2,128.0 537.3,127.6 537.3,127.3 537.3,127.1" fill="none" stroke="#D95319" stroke-width="2.3" stroke-linejoin="round"/></g>
<g clip-path="url(#c2)"><polyline points="48.5,296.2 49.0,298.4 49.6,298.7 50.2,295.2 50.7,295.7 51.2,299.0 51.7,298.7 52.1,298.6 52.6,297.3 53.1,298.2 53.5,297.9 54.0,297.5 54.5,295.4 55.0,296.8 55.5,297.0 55.9,298.7 56.4,300.2 56.9,300.5 57.3,299.2 57.8,299.3 58.3,299.0 58.8,298.9 59.3,299.6 59.8,302.3 60.3,302.4 60.9,303.6 61.5,306.7 61.9,304.6 62.4,304.1 62.8,302.1 63.3,300.6 63.8,301.2 64.2,299.7 64.7,300.6 65.2,302.4 65.7,300.7 66.1,298.3 66.6,301.0 67.1,300.9 67.5,300.9 68.0,302.0 68.5,301.7 69.1,300.6 69.6,297.5 70.2,298.8 70.7,297.2 71.2,292.4 71.7,293.4 72.2,294.0 72.7,293.7 73.1,294.8 73.6,295.5 74.1,297.1 74.5,295.2 75.0,296.4 75.5,294.3 76.0,297.0 76.5,297.5 76.9,296.2 77.4,297.1 77.9,298.2 78.3,297.1 78.8,295.8 79.3,294.3 79.8,294.5 80.3,295.7 80.8,293.2 81.3,296.0 81.8,294.1 82.2,297.6 82.7,295.8 83.2,299.3 83.7,298.9 84.2,298.7 84.6,299.4 85.1,300.6 85.6,300.8 86.0,300.2 86.5,300.2 87.0,301.9 87.5,304.8 88.0,304.6 88.4,303.4 88.9,307.6 89.4,306.0 89.8,305.5 90.3,301.3 90.8,302.3 91.3,298.9 91.8,300.9 92.2,298.8 92.7,298.2 93.2,300.3 93.7,296.4 94.1,297.5 94.6,298.3 95.1,295.6 95.5,295.3 96.0,297.9 96.5,295.9 97.0,296.8 97.5,293.6 97.9,294.6 98.4,293.5 98.9,295.5 99.3,292.8 99.8,296.4 100.3,292.3 100.8,294.5 101.3,290.7 101.8,290.9 102.3,292.4 102.8,290.5 103.2,291.4 103.7,294.3 104.2,293.8 104.7,292.2 105.2,296.0 105.6,292.3 106.1,291.7 106.6,292.6 107.0,293.4 107.5,293.6 108.0,290.7 108.5,291.8 109.0,290.7 109.4,292.6 109.9,294.1 110.4,293.5 110.8,293.7 111.3,292.6 111.8,292.6 112.2,290.9 112.7,288.9 113.1,286.7 113.7,289.8 114.3,289.6 114.9,289.5 115.4,291.6 116.0,294.2 116.5,291.1 116.9,293.1 117.3,292.3 117.8,292.9 118.3,291.5 118.8,295.1 119.3,292.3 119.9,294.6 120.5,294.8 121.0,292.6 121.5,294.4 121.9,292.2 122.4,291.3 122.9,290.9 123.3,291.1 123.8,290.5 124.3,292.5 124.7,291.5 125.2,293.1 125.6,292.4 126.0,294.4 126.5,292.9 126.9,295.5 127.3,295.1 127.8,296.9 128.2,297.5 128.8,296.4 129.4,294.1 129.8,290.9 130.3,290.3 130.7,289.4 131.1,288.1 131.6,289.1 132.0,291.5 132.4,291.5 132.9,295.4 133.3,294.6 133.9,295.9 134.5,298.2 134.9,299.2 135.4,300.0 135.8,302.2 136.2,301.7 136.7,300.8 137.1,302.0 137.6,299.1 138.1,300.9 138.5,300.0 139.0,298.0 139.5,297.2 139.9,298.0 140.4,298.8 140.9,297.0 141.4,299.0 141.9,300.0 142.3,299.0 142.8,299.1 143.3,301.1 143.8,298.3 144.2,298.0 144.7,298.8 145.2,297.8 145.6,296.8 146.1,300.0 146.6,297.8 147.1,295.8 147.6,298.1 148.0,295.1 148.5,295.5 149.0,297.9 149.4,297.4 149.9,294.8 150.4,296.8 150.9,296.8 151.4,297.2 151.8,296.2 152.3,298.0 152.8,295.7 153.3,296.4 153.8,296.6 154.3,298.8 154.8,295.0 155.2,297.7 155.7,295.2 156.2,296.6 156.7,295.2 157.1,294.9 157.6,295.5 158.1,293.4 158.6,291.3 159.1,290.3 159.5,289.2 160.0,291.5 160.4,291.4 160.9,293.6 161.3,293.3 161.9,289.3 162.5,290.7 163.0,291.0 163.4,290.6 163.9,289.5 164.4,288.7 164.9,289.8 165.4,291.9 165.8,290.3 166.3,292.0 166.8,292.3 167.3,294.8 167.8,294.6 168.3,295.6 168.8,295.7 169.2,293.9 169.7,294.1 170.2,295.7 170.7,295.6 171.1,297.3 171.6,299.3 172.1,301.3 172.7,302.1 173.3,305.3 173.7,300.0 174.2,298.7 174.6,299.1 175.0,294.2 175.5,294.1 175.9,291.4 176.3,291.0 176.8,294.0 177.2,294.0 177.8,294.7 178.4,294.7 178.8,296.1 179.3,296.5 179.7,299.0 180.1,298.0 180.6,295.9 181.0,295.2 181.5,294.0 181.9,296.3 182.4,298.5 182.9,298.2 183.3,295.0 183.8,296.3 184.2,296.7 184.7,294.3 185.2,296.8 185.6,294.8 186.1,295.6 186.6,294.2 187.1,297.0 187.6,296.4 188.0,295.9 188.5,294.4 189.0,296.0 189.4,294.6 189.9,297.3 190.4,298.8 190.9,296.3 191.4,298.2 191.8,298.6 192.3,298.7 192.8,300.1 193.3,301.2 193.8,300.4 194.3,299.6 194.9,302.9 195.5,301.6 195.9,302.0 196.4,300.4 196.8,299.5 197.3,299.6 197.8,296.6 198.2,298.0 198.7,296.8 199.2,297.7 199.6,298.9 200.1,297.2 200.6,294.4 201.1,296.5 201.6,297.7 202.0,298.6 202.5,297.8 203.0,298.8 203.4,295.8 203.9,300.0 204.4,299.4 204.9,299.0 205.4,300.5 205.8,300.5 206.3,297.4 206.8,300.7 207.3,300.8 207.8,298.7 208.3,301.3 208.8,300.7 209.2,299.0 209.7,301.6 210.2,298.8 210.7,300.1 211.1,298.8 211.6,297.4 212.1,298.1 212.6,297.7 213.1,296.6 213.5,299.8 214.0,296.0 214.5,295.2 214.9,296.8 215.4,297.8 215.9,296.6 216.4,296.6 216.9,295.2 217.3,295.7 217.8,293.9 218.2,293.0 218.7,293.3 219.1,290.7 219.7,292.5 220.3,297.0 220.7,295.4 221.2,298.6 221.6,299.6 222.1,298.3 222.6,299.8 223.0,300.6 223.5,301.2 224.0,298.3 224.4,298.6 224.9,299.7 225.4,300.2 225.9,299.9 226.4,299.2 226.8,302.0 227.3,304.3 227.7,300.7 228.2,300.3 228.6,298.6 229.0,297.2 229.5,297.3 229.9,293.2 230.4,295.3 230.9,295.2 231.3,296.0 231.8,298.2 232.3,294.2 232.8,296.9 233.2,294.3 233.7,295.2 234.2,294.9 234.6,293.3 235.1,291.3 235.6,292.2 236.1,289.4 236.6,292.0 237.0,291.3 237.5,292.2 238.0,293.1 238.4,292.4 238.9,291.2 239.4,289.4 239.9,289.4 240.4,290.6 240.8,290.0 241.3,290.5 241.8,293.5 242.3,290.1 242.8,293.3 243.3,291.6 243.8,290.9 244.2,290.0 244.7,288.4 245.2,289.3 245.7,288.6 246.1,290.2 246.6,290.1 247.1,293.1 247.7,293.8 248.2,292.4 248.8,293.9 249.2,295.1 249.7,292.6 250.1,291.6 250.6,290.9 251.1,289.5 251.6,290.2 252.2,289.6 252.7,290.2 253.3,292.6 253.8,291.3 254.4,294.8 254.9,295.2 255.4,294.6 255.9,296.8 256.4,295.2 256.9,297.7 257.5,298.1 258.0,296.5 258.5,297.7 259.1,299.3 259.6,298.8 260.2,299.5 260.7,300.6 261.3,301.5 261.8,301.8 262.3,303.8 262.8,302.0 263.3,303.6 263.8,304.0 264.3,302.9 264.9,302.0 265.4,300.0 266.0,302.2 266.5,299.7 267.1,300.2 267.6,302.0 268.1,300.0 268.7,304.4 269.2,301.9 269.7,302.4 270.2,304.6 270.7,305.5 271.1,307.6 271.6,307.2 272.0,306.5 272.6,302.6 273.2,300.5 273.8,296.9 274.3,297.0 274.9,292.8 275.3,292.2 275.8,293.5 276.2,291.2 276.7,292.8 277.3,296.2 277.8,293.6 278.3,294.4 278.8,295.3 279.3,296.2 279.8,297.1 280.4,296.6 280.9,297.1 281.4,296.5 282.0,296.3 282.5,297.7 283.1,295.9 283.6,295.4 284.2,296.4 284.7,292.6 285.2,292.1 285.7,294.2 286.2,292.6 286.7,294.3 287.2,291.8 287.8,294.1 288.3,296.1 288.9,294.6 289.4,296.6 290.0,296.2 290.5,295.5 291.0,298.4 291.6,296.3 292.1,297.1 292.6,297.9 293.1,296.8 293.6,299.2 294.2,298.4 294.7,298.6 295.3,298.6 295.8,301.1 296.4,301.7 296.9,301.7 297.4,300.5 297.9,300.8 298.4,301.7 298.9,299.7 299.5,300.0 300.0,303.7 300.5,299.8 301.1,303.0 301.6,301.8 302.2,301.9 302.7,297.5 303.3,297.6 303.8,298.4 304.3,293.8 304.8,292.9 305.3,293.1 305.8,291.6 306.3,290.6 306.9,291.5 307.4,287.9 308.0,290.3 308.4,288.2 308.9,284.9 309.3,287.7 309.8,286.5 310.4,289.1 310.9,291.0 311.4,289.9 311.9,292.1 312.4,290.9 312.9,290.8 313.5,293.2 314.0,292.2 314.5,291.7 315.1,293.2 315.6,294.9 316.1,292.4 316.6,294.6 317.0,293.7 317.5,294.3 317.9,293.4 318.4,293.0 318.8,291.4 319.3,293.0 319.8,294.5 320.3,296.4 320.9,298.0 321.4,298.9 322.0,298.7 322.5,299.3 323.1,302.6 323.6,300.9 324.1,299.8 324.7,301.9 325.2,300.2 325.7,297.2 326.2,296.7 326.7,295.0 327.2,295.0 327.8,294.3 328.3,293.6 328.9,295.5 329.4,295.7 330.0,294.9 330.5,293.4 331.0,291.6 331.5,292.5 332.0,292.8 332.6,289.0 333.1,290.4 333.6,289.5 334.2,288.5 334.7,285.0 335.1,288.5 335.6,288.3 336.0,289.5 336.4,292.4 336.9,293.9 337.3,295.1 337.8,296.7 338.4,297.6 338.9,297.7 339.4,296.7 339.9,300.6 340.4,301.7 340.9,302.4 341.5,302.0 342.0,300.4 342.5,300.8 343.1,300.2 343.6,302.2 344.2,302.2 344.7,301.1 345.3,304.8 345.8,303.8 346.3,302.4 346.8,299.5 347.3,296.9 347.8,294.7 348.3,295.4 348.9,296.3 349.4,296.0 350.0,300.1 350.5,300.0 351.1,300.6 351.6,301.9 352.1,302.6 352.7,300.8 353.2,301.0 353.7,297.9 354.2,299.5 354.7,296.8 355.2,300.8 355.8,299.1 356.3,300.9 356.9,299.9 357.4,297.3 358.0,296.0 358.5,297.9 359.0,295.0 359.5,297.6 360.0,298.3 360.4,299.6 360.9,299.1 361.4,300.1 361.9,299.4 362.4,299.6 362.8,298.4 363.3,297.8 363.8,298.8 364.3,297.5 364.8,298.4 365.3,298.7 365.8,298.0 366.4,297.9 366.9,300.1 367.4,301.0 367.9,298.1 368.4,299.6 368.9,301.0 369.4,303.3 369.8,303.7 370.3,303.4 370.9,301.0 371.4,301.7 372.0,297.6 372.5,294.3 373.0,295.8 373.5,290.8 374.0,291.7 374.6,292.1 375.1,292.3 375.6,296.2 376.2,296.5 376.7,298.9 377.3,298.1 377.8,299.2 378.4,295.2 378.9,298.4 379.4,297.3 379.9,298.2 380.4,298.4 380.9,295.8 381.4,292.8 382.0,296.5 382.5,299.3 383.1,299.7 383.6,298.4 384.2,299.1 384.7,298.9 385.2,295.3 385.8,295.5 386.3,297.9 386.8,298.0 387.2,295.3 387.7,297.7 388.2,298.8 388.7,297.4 389.1,297.8 389.6,296.9 390.0,295.5 390.5,295.3 391.0,294.2 391.4,296.2 391.9,293.6 392.4,295.1 392.9,293.8 393.4,293.7 393.8,295.6 394.3,292.8 394.8,293.4 395.3,293.1 395.8,292.6 396.3,292.8 396.8,294.0 397.2,295.0 397.7,291.8 398.2,295.2 398.7,294.0 399.1,291.4 399.6,294.2 400.1,292.9 400.6,293.9 401.1,292.6 401.5,294.8 402.0,295.4 402.5,296.6 402.9,295.9 403.4,296.6 403.9,296.9 404.4,294.9 404.9,294.2 405.3,296.3 405.8,294.9 406.3,295.2 406.8,296.1 407.2,297.2 407.7,297.7 408.2,298.3 408.6,300.0 409.1,297.0 409.6,299.3 410.1,298.0 410.6,301.1 411.0,300.7 411.5,300.1 412.0,300.0 412.6,300.6 413.1,299.0 413.6,299.0 414.2,294.6 414.7,292.6 415.1,294.0 415.6,291.7 416.0,288.5 416.5,291.8 417.1,290.4 417.6,293.3 418.1,292.6 418.7,293.9 419.2,295.0 419.7,292.9 420.2,294.5 420.7,290.1 421.2,292.1 421.8,294.8 422.3,291.9 422.9,294.3 423.4,295.2 424.0,293.6 424.5,294.9 425.0,292.2 425.5,294.8 426.0,295.7 426.4,295.6 426.9,296.2 427.4,298.4 427.9,296.3 428.4,296.2 428.8,299.0 429.3,301.1 429.8,301.3 430.3,301.4 430.8,300.6 431.3,304.0 431.8,299.9 432.4,300.4 432.9,302.2 433.4,302.2 433.9,299.7 434.4,301.4 434.9,297.7 435.4,299.5 435.8,296.9 436.3,297.3 436.8,296.8 437.3,295.7 437.8,297.1 438.3,297.2 438.8,296.0 439.2,297.2 439.7,294.3 440.2,296.0 440.8,293.5 441.4,290.4 441.8,290.4 442.3,285.0 442.7,284.1 443.1,285.5 443.6,286.5 444.0,290.3 444.5,288.2 445.1,287.5 445.6,286.7 446.1,287.6 446.7,290.6 447.2,290.8 447.7,290.8 448.1,289.4 448.6,291.8 449.1,290.5 449.6,290.6 450.0,288.3 450.4,290.2 450.9,290.3 451.3,287.9 451.8,287.0 452.3,285.0 452.8,285.2 453.3,284.7 453.7,285.5 454.2,286.0 454.6,286.8 455.0,289.3 455.5,290.3 455.9,289.9 456.3,289.7 456.8,287.9 457.2,289.7 457.7,293.4 458.2,295.5 458.7,295.2 459.1,296.1 459.6,297.4 460.0,296.4 460.5,297.6 461.1,295.3 461.6,296.5 462.2,294.0 462.7,294.0 463.3,292.6 463.8,292.1 464.3,291.4 464.8,293.1 465.3,293.1 465.8,292.5 466.3,293.7 466.9,296.6 467.4,297.3 468.0,298.1 468.5,298.6 469.1,294.2 469.6,295.4 470.1,294.9 470.7,293.5 471.2,295.0 471.7,296.1 472.2,294.8 472.7,296.8 473.2,298.2 473.8,298.8 474.3,298.2 474.9,300.5 475.4,299.0 476.0,298.6 476.5,299.9 477.0,299.0 477.5,297.1 478.0,296.9 478.6,298.3 479.1,296.9 479.6,295.8 480.2,298.6 480.7,297.8 481.3,298.0 481.8,299.9 482.4,301.3 482.9,300.9 483.4,299.1 483.9,298.2 484.4,296.3 484.9,293.9 485.4,294.8 486.0,292.7 486.5,295.6 487.1,292.5 487.6,293.1 488.2,293.2 488.7,290.5 489.2,293.4 489.8,291.5 490.3,290.6 490.8,293.3 491.3,292.9 491.8,295.5 492.3,294.1 492.9,293.3 493.4,293.6 494.0,294.3 494.5,296.8 495.1,298.4 495.6,296.5 496.1,298.5 496.6,300.0 497.0,302.6 497.5,303.7 497.9,304.2 498.4,302.3 498.9,301.2 499.4,298.9 500.0,299.5 500.5,296.6 501.1,296.1 501.6,297.8 502.2,296.2 502.7,296.4 503.2,295.9 503.8,295.7 504.3,297.3 504.8,298.8 505.3,298.5 505.8,302.3 506.2,304.1 506.7,301.9 507.1,303.4 507.7,304.0 508.3,301.7 508.8,298.7 509.4,299.3 509.9,296.9 510.3,300.0 510.8,299.3 511.2,299.5 511.7,298.5 512.1,299.4 512.6,299.5 513.0,298.9 513.5,298.0 514.1,296.5 514.7,297.0 515.3,296.5 515.9,294.6 516.5,294.6 517.1,296.2 517.5,292.7 518.0,292.2 518.4,293.5 519.0,291.4 519.6,292.7 520.2,294.1 520.8,290.1 521.3,289.5 521.8,289.8 522.3,291.0 522.8,288.9 523.3,294.0 523.8,293.0 524.2,294.1 524.7,293.7 525.1,292.2 525.6,295.7 526.1,291.6 526.7,293.5 527.2,293.0 527.7,291.6 528.1,294.1 528.6,290.8 529.0,291.9 529.5,294.1 529.9,293.2 530.5,298.1 531.1,298.7 531.7,302.0 532.3,302.0 532.9,298.8 533.5,300.2 534.1,296.2 534.7,295.9 535.2,295.2 535.7,297.8 536.2,297.8 536.8,297.7 537.4,298.0 537.3,300.3" fill="none" stroke="#0072BD" stroke-opacity="0.3" stroke-width="3.6999999999999997" stroke-linejoin="round"/><polyline points="48.5,296.2 49.0,298.4 49.6,298.7 50.2,295.2 50.7,295.7 51.2,299.0 51.7,298.7 52.1,298.6 52.6,297.3 53.1,298.2 53.5,297.9 54.0,297.5 54.5,295.4 55.0,296.8 55.5,297.0 55.9,298.7 56.4,300.2 56.9,300.5 57.3,299.2 57.8,299.3 58.3,299.0 58.8,298.9 59.3,299.6 59.8,302.3 60.3,302.4 60.9,303.6 61.5,306.7 61.9,304.6 62.4,304.1 62.8,302.1 63.3,300.6 63.8,301.2 64.2,299.7 64.7,300.6 65.2,302.4 65.7,300.7 66.1,298.3 66.6,301.0 67.1,300.9 67.5,300.9 68.0,302.0 68.5,301.7 69.1,300.6 69.6,297.5 70.2,298.8 70.7,297.2 71.2,292.4 71.7,293.4 72.2,294.0 72.7,293.7 73.1,294.8 73.6,295.5 74.1,297.1 74.5,295.2 75.0,296.4 75.5,294.3 76.0,297.0 76.5,297.5 76.9,296.2 77.4,297.1 77.9,298.2 78.3,297.1 78.8,295.8 79.3,294.3 79.8,294.5 80.3,295.7 80.8,293.2 81.3,296.0 81.8,294.1 82.2,297.6 82.7,295.8 83.2,299.3 83.7,298.9 84.2,298.7 84.6,299.4 85.1,300.6 85.6,300.8 86.0,300.2 86.5,300.2 87.0,301.9 87.5,304.8 88.0,304.6 88.4,303.4 88.9,307.6 89.4,306.0 89.8,305.5 90.3,301.3 90.8,302.3 91.3,298.9 91.8,300.9 92.2,298.8 92.7,298.2 93.2,300.3 93.7,296.4 94.1,297.5 94.6,298.3 95.1,295.6 95.5,295.3 96.0,297.9 96.5,295.9 97.0,296.8 97.5,293.6 97.9,294.6 98.4,293.5 98.9,295.5 99.3,292.8 99.8,296.4 100.3,292.3 100.8,294.5 101.3,290.7 101.8,290.9 102.3,292.4 102.8,290.5 103.2,291.4 103.7,294.3 104.2,293.8 104.7,292.2 105.2,296.0 105.6,292.3 106.1,291.7 106.6,292.6 107.0,293.4 107.5,293.6 108.0,290.7 108.5,291.8 109.0,290.7 109.4,292.6 109.9,294.1 110.4,293.5 110.8,293.7 111.3,292.6 111.8,292.6 112.2,290.9 112.7,288.9 113.1,286.7 113.7,289.8 114.3,289.6 114.9,289.5 115.4,291.6 116.0,294.2 116.5,291.1 116.9,293.1 117.3,292.3 117.8,292.9 118.3,291.5 118.8,295.1 119.3,292.3 119.9,294.6 120.5,294.8 121.0,292.6 121.5,294.4 121.9,292.2 122.4,291.3 122.9,290.9 123.3,291.1 123.8,290.5 124.3,292.5 124.7,291.5 125.2,293.1 125.6,292.4 126.0,294.4 126.5,292.9 126.9,295.5 127.3,295.1 127.8,296.9 128.2,297.5 128.8,296.4 129.4,294.1 129.8,290.9 130.3,290.3 130.7,289.4 131.1,288.1 131.6,289.1 132.0,291.5 132.4,291.5 132.9,295.4 133.3,294.6 133.9,295.9 134.5,298.2 134.9,299.2 135.4,300.0 135.8,302.2 136.2,301.7 136.7,300.8 137.1,302.0 137.6,299.1 138.1,300.9 138.5,300.0 139.0,298.0 139.5,297.2 139.9,298.0 140.4,298.8 140.9,297.0 141.4,299.0 141.9,300.0 142.3,299.0 142.8,299.1 143.3,301.1 143.8,298.3 144.2,298.0 144.7,298.8 145.2,297.8 145.6,296.8 146.1,300.0 146.6,297.8 147.1,295.8 147.6,298.1 148.0,295.1 148.5,295.5 149.0,297.9 149.4,297.4 149.9,294.8 150.4,296.8 150.9,296.8 151.4,297.2 151.8,296.2 152.3,298.0 152.8,295.7 153.3,296.4 153.8,296.6 154.3,298.8 154.8,295.0 155.2,297.7 155.7,295.2 156.2,296.6 156.7,295.2 157.1,294.9 157.6,295.5 158.1,293.4 158.6,291.3 159.1,290.3 159.5,289.2 160.0,291.5 160.4,291.4 160.9,293.6 161.3,293.3 161.9,289.3 162.5,290.7 163.0,291.0 163.4,290.6 163.9,289.5 164.4,288.7 164.9,289.8 165.4,291.9 165.8,290.3 166.3,292.0 166.8,292.3 167.3,294.8 167.8,294.6 168.3,295.6 168.8,295.7 169.2,293.9 169.7,294.1 170.2,295.7 170.7,295.6 171.1,297.3 171.6,299.3 172.1,301.3 172.7,302.1 173.3,305.3 173.7,300.0 174.2,298.7 174.6,299.1 175.0,294.2 175.5,294.1 175.9,291.4 176.3,291.0 176.8,294.0 177.2,294.0 177.8,294.7 178.4,294.7 178.8,296.1 179.3,296.5 179.7,299.0 180.1,298.0 180.6,295.9 181.0,295.2 181.5,294.0 181.9,296.3 182.4,298.5 182.9,298.2 183.3,295.0 183.8,296.3 184.2,296.7 184.7,294.3 185.2,296.8 185.6,294.8 186.1,295.6 186.6,294.2 187.1,297.0 187.6,296.4 188.0,295.9 188.5,294.4 189.0,296.0 189.4,294.6 189.9,297.3 190.4,298.8 190.9,296.3 191.4,298.2 191.8,298.6 192.3,298.7 192.8,300.1 193.3,301.2 193.8,300.4 194.3,299.6 194.9,302.9 195.5,301.6 195.9,302.0 196.4,300.4 196.8,299.5 197.3,299.6 197.8,296.6 198.2,298.0 198.7,296.8 199.2,297.7 199.6,298.9 200.1,297.2 200.6,294.4 201.1,296.5 201.6,297.7 202.0,298.6 202.5,297.8 203.0,298.8 203.4,295.8 203.9,300.0 204.4,299.4 204.9,299.0 205.4,300.5 205.8,300.5 206.3,297.4 206.8,300.7 207.3,300.8 207.8,298.7 208.3,301.3 208.8,300.7 209.2,299.0 209.7,301.6 210.2,298.8 210.7,300.1 211.1,298.8 211.6,297.4 212.1,298.1 212.6,297.7 213.1,296.6 213.5,299.8 214.0,296.0 214.5,295.2 214.9,296.8 215.4,297.8 215.9,296.6 216.4,296.6 216.9,295.2 217.3,295.7 217.8,293.9 218.2,293.0 218.7,293.3 219.1,290.7 219.7,292.5 220.3,297.0 220.7,295.4 221.2,298.6 221.6,299.6 222.1,298.3 222.6,299.8 223.0,300.6 223.5,301.2 224.0,298.3 224.4,298.6 224.9,299.7 225.4,300.2 225.9,299.9 226.4,299.2 226.8,302.0 227.3,304.3 227.7,300.7 228.2,300.3 228.6,298.6 229.0,297.2 229.5,297.3 229.9,293.2 230.4,295.3 230.9,295.2 231.3,296.0 231.8,298.2 232.3,294.2 232.8,296.9 233.2,294.3 233.7,295.2 234.2,294.9 234.6,293.3 235.1,291.3 235.6,292.2 236.1,289.4 236.6,292.0 237.0,291.3 237.5,292.2 238.0,293.1 238.4,292.4 238.9,291.2 239.4,289.4 239.9,289.4 240.4,290.6 240.8,290.0 241.3,290.5 241.8,293.5 242.3,290.1 242.8,293.3 243.3,291.6 243.8,290.9 244.2,290.0 244.7,288.4 245.2,289.3 245.7,288.6 246.1,290.2 246.6,290.1 247.1,293.1 247.7,293.8 248.2,292.4 248.8,293.9 249.2,295.1 249.7,292.6 250.1,291.6 250.6,290.9 251.1,289.5 251.6,290.2 252.2,289.6 252.7,290.2 253.3,292.6 253.8,291.3 254.4,294.8 254.9,295.2 255.4,294.6 255.9,296.8 256.4,295.2 256.9,297.7 257.5,298.1 258.0,296.5 258.5,297.7 259.1,299.3 259.6,298.8 260.2,299.5 260.7,300.6 261.3,301.5 261.8,301.8 262.3,303.8 262.8,302.0 263.3,303.6 263.8,304.0 264.3,302.9 264.9,302.0 265.4,300.0 266.0,302.2 266.5,299.7 267.1,300.2 267.6,302.0 268.1,300.0 268.7,304.4 269.2,301.9 269.7,302.4 270.2,304.6 270.7,305.5 271.1,307.6 271.6,307.2 272.0,306.5 272.6,302.6 273.2,300.5 273.8,296.9 274.3,297.0 274.9,292.8 275.3,292.2 275.8,293.5 276.2,291.2 276.7,292.8 277.3,296.2 277.8,293.6 278.3,294.4 278.8,295.3 279.3,296.2 279.8,297.1 280.4,296.6 280.9,297.1 281.4,296.5 282.0,296.3 282.5,297.7 283.1,295.9 283.6,295.4 284.2,296.4 284.7,292.6 285.2,292.1 285.7,294.2 286.2,292.6 286.7,294.3 287.2,291.8 287.8,294.1 288.3,296.1 288.9,294.6 289.4,296.6 290.0,296.2 290.5,295.5 291.0,298.4 291.6,296.3 292.1,297.1 292.6,297.9 293.1,296.8 293.6,299.2 294.2,298.4 294.7,298.6 295.3,298.6 295.8,301.1 296.4,301.7 296.9,301.7 297.4,300.5 297.9,300.8 298.4,301.7 298.9,299.7 299.5,300.0 300.0,303.7 300.5,299.8 301.1,303.0 301.6,301.8 302.2,301.9 302.7,297.5 303.3,297.6 303.8,298.4 304.3,293.8 304.8,292.9 305.3,293.1 305.8,291.6 306.3,290.6 306.9,291.5 307.4,287.9 308.0,290.3 308.4,288.2 308.9,284.9 309.3,287.7 309.8,286.5 310.4,289.1 310.9,291.0 311.4,289.9 311.9,292.1 312.4,290.9 312.9,290.8 313.5,293.2 314.0,292.2 314.5,291.7 315.1,293.2 315.6,294.9 316.1,292.4 316.6,294.6 317.0,293.7 317.5,294.3 317.9,293.4 318.4,293.0 318.8,291.4 319.3,293.0 319.8,294.5 320.3,296.4 320.9,298.0 321.4,298.9 322.0,298.7 322.5,299.3 323.1,302.6 323.6,300.9 324.1,299.8 324.7,301.9 325.2,300.2 325.7,297.2 326.2,296.7 326.7,295.0 327.2,295.0 327.8,294.3 328.3,293.6 328.9,295.5 329.4,295.7 330.0,294.9 330.5,293.4 331.0,291.6 331.5,292.5 332.0,292.8 332.6,289.0 333.1,290.4 333.6,289.5 334.2,288.5 334.7,285.0 335.1,288.5 335.6,288.3 336.0,289.5 336.4,292.4 336.9,293.9 337.3,295.1 337.8,296.7 338.4,297.6 338.9,297.7 339.4,296.7 339.9,300.6 340.4,301.7 340.9,302.4 341.5,302.0 342.0,300.4 342.5,300.8 343.1,300.2 343.6,302.2 344.2,302.2 344.7,301.1 345.3,304.8 345.8,303.8 346.3,302.4 346.8,299.5 347.3,296.9 347.8,294.7 348.3,295.4 348.9,296.3 349.4,296.0 350.0,300.1 350.5,300.0 351.1,300.6 351.6,301.9 352.1,302.6 352.7,300.8 353.2,301.0 353.7,297.9 354.2,299.5 354.7,296.8 355.2,300.8 355.8,299.1 356.3,300.9 356.9,299.9 357.4,297.3 358.0,296.0 358.5,297.9 359.0,295.0 359.5,297.6 360.0,298.3 360.4,299.6 360.9,299.1 361.4,300.1 361.9,299.4 362.4,299.6 362.8,298.4 363.3,297.8 363.8,298.8 364.3,297.5 364.8,298.4 365.3,298.7 365.8,298.0 366.4,297.9 366.9,300.1 367.4,301.0 367.9,298.1 368.4,299.6 368.9,301.0 369.4,303.3 369.8,303.7 370.3,303.4 370.9,301.0 371.4,301.7 372.0,297.6 372.5,294.3 373.0,295.8 373.5,290.8 374.0,291.7 374.6,292.1 375.1,292.3 375.6,296.2 376.2,296.5 376.7,298.9 377.3,298.1 377.8,299.2 378.4,295.2 378.9,298.4 379.4,297.3 379.9,298.2 380.4,298.4 380.9,295.8 381.4,292.8 382.0,296.5 382.5,299.3 383.1,299.7 383.6,298.4 384.2,299.1 384.7,298.9 385.2,295.3 385.8,295.5 386.3,297.9 386.8,298.0 387.2,295.3 387.7,297.7 388.2,298.8 388.7,297.4 389.1,297.8 389.6,296.9 390.0,295.5 390.5,295.3 391.0,294.2 391.4,296.2 391.9,293.6 392.4,295.1 392.9,293.8 393.4,293.7 393.8,295.6 394.3,292.8 394.8,293.4 395.3,293.1 395.8,292.6 396.3,292.8 396.8,294.0 397.2,295.0 397.7,291.8 398.2,295.2 398.7,294.0 399.1,291.4 399.6,294.2 400.1,292.9 400.6,293.9 401.1,292.6 401.5,294.8 402.0,295.4 402.5,296.6 402.9,295.9 403.4,296.6 403.9,296.9 404.4,294.9 404.9,294.2 405.3,296.3 405.8,294.9 406.3,295.2 406.8,296.1 407.2,297.2 407.7,297.7 408.2,298.3 408.6,300.0 409.1,297.0 409.6,299.3 410.1,298.0 410.6,301.1 411.0,300.7 411.5,300.1 412.0,300.0 412.6,300.6 413.1,299.0 413.6,299.0 414.2,294.6 414.7,292.6 415.1,294.0 415.6,291.7 416.0,288.5 416.5,291.8 417.1,290.4 417.6,293.3 418.1,292.6 418.7,293.9 419.2,295.0 419.7,292.9 420.2,294.5 420.7,290.1 421.2,292.1 421.8,294.8 422.3,291.9 422.9,294.3 423.4,295.2 424.0,293.6 424.5,294.9 425.0,292.2 425.5,294.8 426.0,295.7 426.4,295.6 426.9,296.2 427.4,298.4 427.9,296.3 428.4,296.2 428.8,299.0 429.3,301.1 429.8,301.3 430.3,301.4 430.8,300.6 431.3,304.0 431.8,299.9 432.4,300.4 432.9,302.2 433.4,302.2 433.9,299.7 434.4,301.4 434.9,297.7 435.4,299.5 435.8,296.9 436.3,297.3 436.8,296.8 437.3,295.7 437.8,297.1 438.3,297.2 438.8,296.0 439.2,297.2 439.7,294.3 440.2,296.0 440.8,293.5 441.4,290.4 441.8,290.4 442.3,285.0 442.7,284.1 443.1,285.5 443.6,286.5 444.0,290.3 444.5,288.2 445.1,287.5 445.6,286.7 446.1,287.6 446.7,290.6 447.2,290.8 447.7,290.8 448.1,289.4 448.6,291.8 449.1,290.5 449.6,290.6 450.0,288.3 450.4,290.2 450.9,290.3 451.3,287.9 451.8,287.0 452.3,285.0 452.8,285.2 453.3,284.7 453.7,285.5 454.2,286.0 454.6,286.8 455.0,289.3 455.5,290.3 455.9,289.9 456.3,289.7 456.8,287.9 457.2,289.7 457.7,293.4 458.2,295.5 458.7,295.2 459.1,296.1 459.6,297.4 460.0,296.4 460.5,297.6 461.1,295.3 461.6,296.5 462.2,294.0 462.7,294.0 463.3,292.6 463.8,292.1 464.3,291.4 464.8,293.1 465.3,293.1 465.8,292.5 466.3,293.7 466.9,296.6 467.4,297.3 468.0,298.1 468.5,298.6 469.1,294.2 469.6,295.4 470.1,294.9 470.7,293.5 471.2,295.0 471.7,296.1 472.2,294.8 472.7,296.8 473.2,298.2 473.8,298.8 474.3,298.2 474.9,300.5 475.4,299.0 476.0,298.6 476.5,299.9 477.0,299.0 477.5,297.1 478.0,296.9 478.6,298.3 479.1,296.9 479.6,295.8 480.2,298.6 480.7,297.8 481.3,298.0 481.8,299.9 482.4,301.3 482.9,300.9 483.4,299.1 483.9,298.2 484.4,296.3 484.9,293.9 485.4,294.8 486.0,292.7 486.5,295.6 487.1,292.5 487.6,293.1 488.2,293.2 488.7,290.5 489.2,293.4 489.8,291.5 490.3,290.6 490.8,293.3 491.3,292.9 491.8,295.5 492.3,294.1 492.9,293.3 493.4,293.6 494.0,294.3 494.5,296.8 495.1,298.4 495.6,296.5 496.1,298.5 496.6,300.0 497.0,302.6 497.5,303.7 497.9,304.2 498.4,302.3 498.9,301.2 499.4,298.9 500.0,299.5 500.5,296.6 501.1,296.1 501.6,297.8 502.2,296.2 502.7,296.4 503.2,295.9 503.8,295.7 504.3,297.3 504.8,298.8 505.3,298.5 505.8,302.3 506.2,304.1 506.7,301.9 507.1,303.4 507.7,304.0 508.3,301.7 508.8,298.7 509.4,299.3 509.9,296.9 510.3,300.0 510.8,299.3 511.2,299.5 511.7,298.5 512.1,299.4 512.6,299.5 513.0,298.9 513.5,298.0 514.1,296.5 514.7,297.0 515.3,296.5 515.9,294.6 516.5,294.6 517.1,296.2 517.5,292.7 518.0,292.2 518.4,293.5 519.0,291.4 519.6,292.7 520.2,294.1 520.8,290.1 521.3,289.5 521.8,289.8 522.3,291.0 522.8,288.9 523.3,294.0 523.8,293.0 524.2,294.1 524.7,293.7 525.1,292.2 525.6,295.7 526.1,291.6 526.7,293.5 527.2,293.0 527.7,291.6 528.1,294.1 528.6,290.8 529.0,291.9 529.5,294.1 529.9,293.2 530.5,298.1 531.1,298.7 531.7,302.0 532.3,302.0 532.9,298.8 533.5,300.2 534.1,296.2 534.7,295.9 535.2,295.2 535.7,297.8 536.2,297.8 536.8,297.7 537.4,298.0 537.3,300.3" fill="none" stroke="#0072BD" stroke-width="2.3" stroke-linejoin="round"/><polyline points="48.5,297.1 48.8,297.1 49.2,297.2 49.7,297.2 50.3,297.3 50.8,297.3 51.3,297.4 51.7,297.5 52.2,297.6 52.6,297.7 53.0,297.9 53.5,298.0 53.9,298.1 54.3,298.2 54.7,298.3 55.1,298.4 55.6,298.5 56.0,298.6 56.4,298.7 56.8,298.9 57.3,299.1 57.7,299.3 58.1,299.5 58.6,299.7 59.0,300.0 59.4,300.3 59.8,300.6 60.2,300.9 60.7,301.2 61.1,301.6 61.5,301.9 61.9,302.2 62.4,302.6 62.8,302.9 63.2,303.2 63.7,303.5 64.1,303.8 64.5,304.0 64.9,304.3 65.3,304.5 65.8,304.6 66.2,304.7 66.6,304.7 67.0,304.6 67.5,304.5 67.9,304.3 68.4,304.0 68.8,303.7 69.2,303.2 69.6,302.6 69.9,302.0 70.2,301.3 70.5,300.5 70.8,299.6 71.1,298.7 71.4,297.7 71.7,296.7 72.0,295.6 72.4,294.5 72.7,293.4 73.0,292.3 73.3,291.2 73.6,290.1 74.0,289.1 74.3,288.0 74.6,287.0 74.9,286.0 75.2,285.1 75.5,284.1 75.9,283.3 76.2,282.4 76.5,281.6 76.8,280.9 77.1,280.2 77.4,279.6 77.8,279.1 78.1,278.6 78.4,278.1 78.7,277.7 79.0,277.3 79.3,276.9 79.7,276.6 80.0,276.3 80.3,276.0 80.6,275.8 80.9,275.6 81.2,275.5 81.5,275.4 81.9,275.4 82.2,275.4 82.5,275.4 82.8,275.5 83.1,275.6 83.5,275.8 83.8,276.0 84.1,276.3 84.4,276.7 84.7,277.2 85.0,277.7 85.3,278.4 85.7,279.1 86.0,279.9 86.3,280.9 86.6,282.0 87.0,283.3 87.3,284.8 87.6,286.2 88.0,287.7 88.3,289.2 88.6,290.6 88.9,292.1 89.3,293.6 89.6,295.1 89.9,296.6 90.2,298.1 90.5,299.6 90.8,301.2 91.2,302.7 91.5,304.2 91.8,305.7 92.1,307.0 92.4,308.2 92.7,309.4 93.0,310.5 93.4,311.5 93.7,312.4 94.0,313.3 94.3,314.1 94.6,314.9 95.0,315.6 95.3,316.2 95.6,316.7 95.9,317.2 96.2,317.6 96.5,317.9 96.9,318.2 97.2,318.3 97.5,318.4 97.8,318.4 98.1,318.3 98.4,318.1 98.8,317.9 99.1,317.5 99.4,317.1 99.7,316.5 100.0,315.8 100.3,314.9 100.7,314.0 101.0,313.0 101.3,311.9 101.6,310.8 101.9,309.7 102.2,308.5 102.5,307.3 102.9,306.0 103.2,304.7 103.5,303.4 103.8,302.0 104.1,300.6 104.5,299.2 104.8,297.7 105.1,296.3 105.4,295.0 105.7,293.7 106.0,292.4 106.3,291.2 106.7,290.0 107.0,288.9 107.3,287.8 107.6,286.8 108.0,285.9 108.3,285.0 108.6,284.2 109.0,283.4 109.3,282.8 109.6,282.3 110.0,281.8 110.3,281.4 110.6,281.1 111.0,280.8 111.3,280.6 111.6,280.4 112.0,280.3 112.4,280.2 112.7,280.1 113.1,280.1 113.4,280.2 113.7,280.3 114.1,280.5 114.4,280.8 114.8,281.1 115.1,281.4 115.4,281.8 115.7,282.3 116.0,282.8 116.3,283.3 116.5,283.9 116.8,284.6 117.1,285.3 117.4,286.1 117.7,286.9 118.0,287.9 118.4,288.8 118.7,289.8 119.0,290.8 119.3,291.8 119.6,292.9 120.0,294.0 120.3,295.1 120.6,296.2 120.9,297.3 121.2,298.4 121.5,299.4 121.9,300.5 122.2,301.6 122.5,302.6 122.8,303.6 123.1,304.6 123.5,305.6 123.8,306.5 124.1,307.4 124.4,308.3 124.7,309.1 125.0,309.8 125.2,310.4 125.4,311.0 125.7,311.5 125.9,312.1 126.1,312.6 126.3,313.1 126.5,313.7 126.7,314.2 127.0,314.7 127.2,315.1 127.4,315.6 127.6,316.1 127.8,316.5 128.1,316.9 128.3,317.3 128.5,317.7 128.8,318.0 129.1,318.3 129.4,318.5 129.7,318.7 130.0,318.9 130.3,319.0 130.7,319.0 131.1,319.0 131.5,318.9 132.0,318.7 132.4,318.6 132.9,318.4 133.3,318.2 133.7,318.0 134.1,317.9 134.5,317.7 134.9,317.4 135.3,317.2 135.7,316.9 136.1,316.6 136.4,316.2 136.7,315.8 137.1,315.4 137.4,314.9 137.8,314.3 138.2,313.7 138.7,313.0 139.2,312.2 139.7,311.4 140.1,310.6 140.6,309.8 141.0,309.0 141.4,308.1 141.9,307.2 142.3,306.3 142.6,305.4 143.0,304.4 143.3,303.4 143.7,302.4 144.0,301.4 144.3,300.4 144.6,299.3 144.9,298.3 145.2,297.3 145.5,296.3 145.9,295.3 146.2,294.3 146.5,293.2 146.8,292.1 147.1,290.9 147.4,289.7 147.8,288.4 148.1,287.1 148.4,285.9 148.7,284.8 149.0,283.8 149.3,282.8 149.6,282.0 150.0,281.1 150.3,280.3 150.6,279.4 150.9,278.5 151.2,277.6 151.5,276.8 151.9,275.9 152.2,275.1 152.5,274.3 152.8,273.6 153.2,272.9 153.5,272.3 153.8,271.7 154.2,271.1 154.5,270.5 154.8,269.9 155.1,269.3 155.5,268.8 155.8,268.2 156.1,267.7 156.4,267.3 156.7,266.9 157.0,266.6 157.4,266.3 157.7,266.0 158.0,265.8 158.3,265.6 158.6,265.4 158.9,265.3 159.2,265.2 159.6,265.2 159.9,265.1 160.2,265.1 160.5,265.1 160.8,265.1 161.1,265.1 161.5,265.2 161.8,265.3 162.1,265.4 162.4,265.5 162.7,265.7 163.1,265.8 163.4,266.0 163.7,266.3 164.0,266.6 164.3,267.0 164.6,267.4 164.9,267.9 165.3,268.5 165.6,269.1 165.9,269.8 166.2,270.6 166.5,271.5 166.9,272.4 167.2,273.4 167.5,274.4 167.8,275.5 168.1,276.6 168.4,277.7 168.8,278.8 169.1,280.0 169.4,281.2 169.7,282.5 170.0,283.9 170.3,285.3 170.6,286.8 171.0,288.4 171.3,289.9 171.6,291.5 171.9,293.1 172.2,294.7 172.6,296.3 172.9,298.0 173.2,299.7 173.5,301.3 173.8,302.9 174.1,304.6 174.4,306.2 174.7,307.8 175.0,309.5 175.3,311.1 175.6,312.8 176.0,314.5 176.3,316.3 176.7,318.0 177.1,319.6 177.4,321.1 177.7,322.5 178.0,323.8 178.4,325.0 178.7,326.2 179.0,327.3 179.3,328.3 179.6,329.2 179.9,330.1 180.2,330.9 180.6,331.6 180.9,332.2 181.2,332.8 181.5,333.3 181.8,333.7 182.2,334.0 182.5,334.2 182.8,334.4 183.1,334.5 183.4,334.6 183.7,334.6 183.9,334.5 184.2,334.4 184.5,334.1 184.8,333.6 185.1,332.9 185.4,332.1 185.8,331.2 186.1,330.1 186.5,328.9 186.8,327.7 187.1,326.4 187.4,325.0 187.8,323.4 188.1,321.9 188.4,320.3 188.7,318.8 189.0,317.3 189.3,315.8 189.6,314.3 190.0,312.8 190.3,311.3 190.6,309.9 190.9,308.5 191.2,307.2 191.5,305.9 191.9,304.7 192.2,303.5 192.5,302.3 192.8,301.1 193.2,300.0 193.5,298.9 193.8,297.8 194.2,296.8 194.5,295.9 194.8,295.0 195.2,294.2 195.5,293.4 195.8,292.7 196.2,292.0 196.5,291.4 196.8,290.8 197.1,290.2 197.4,289.7 197.7,289.2 198.0,288.8 198.3,288.3 198.6,287.8 199.0,287.4 199.3,286.9 199.6,286.5 200.0,286.1 200.4,285.7 200.8,285.4 201.3,285.1 201.8,284.8 202.3,284.6 202.7,284.4 203.2,284.2 203.6,284.1 204.1,284.0 204.5,283.9 204.9,283.9 205.3,283.8 205.7,283.8 206.1,283.8 206.6,283.7 207.0,283.7 207.4,283.7 207.9,283.8 208.3,283.8 208.7,283.9 209.1,283.9 209.6,284.0 210.0,284.2 210.4,284.3 210.8,284.4 211.2,284.5 211.6,284.7 212.0,284.8 212.5,285.0 212.9,285.1 213.3,285.3 213.7,285.5 214.2,285.6 214.6,285.8 215.0,286.0 215.5,286.1 215.9,286.3 216.3,286.4 216.8,286.6 217.2,286.7 217.6,286.8 218.0,286.9 218.4,287.0 218.8,287.1 219.1,287.2 219.4,287.3 219.7,287.4 220.0,287.5 220.3,287.7 220.6,287.9 221.0,288.2 221.3,288.4 221.6,288.8 222.0,289.1 222.3,289.5 222.6,289.9 222.9,290.4 223.3,291.0 223.6,291.5 223.9,292.1 224.2,292.7 224.5,293.3 224.8,293.9 225.1,294.6 225.5,295.2 225.8,295.9 226.1,296.5 226.4,297.1 226.7,297.8 227.1,298.5 227.4,299.1 227.7,299.7 228.0,300.3 228.3,300.8 228.6,301.3 228.9,301.7 229.3,302.2 229.6,302.5 229.9,302.9 230.2,303.2 230.5,303.5 230.9,303.8 231.2,304.1 231.5,304.3 231.8,304.5 232.1,304.7 232.4,304.8 232.8,305.0 233.1,305.0 233.4,305.1 233.7,305.1 234.0,305.1 234.3,305.0 234.6,304.9 235.0,304.7 235.3,304.5 235.6,304.2 235.9,303.9 236.2,303.5 236.6,303.0 236.9,302.6 237.2,302.1 237.5,301.6 237.8,301.1 238.1,300.6 238.4,300.0 238.8,299.5 239.1,298.9 239.4,298.4 239.7,297.9 240.0,297.4 240.3,296.9 240.7,296.5 241.0,296.0 241.3,295.6 241.6,295.2 242.0,294.8 242.3,294.5 242.6,294.2 243.0,293.9 243.3,293.6 243.6,293.4 243.9,293.1 244.3,292.9 244.6,292.8 244.9,292.6 245.2,292.5 245.5,292.4 245.8,292.3 246.2,292.3 246.5,292.3 246.8,292.3 247.1,292.3 247.4,292.4 247.7,292.5 248.0,292.6 248.3,292.7 248.6,292.9 248.9,293.2 249.2,293.5 249.5,293.9 249.9,294.4 250.2,294.8 250.5,295.3 250.8,295.7 251.1,296.1 251.3,296.5 251.6,296.9 251.8,297.2 252.0,297.6 252.3,298.0 252.6,298.4 252.8,298.8 253.1,299.2 253.4,299.6 253.6,300.0 253.9,300.4 254.2,300.8 254.4,301.1 254.7,301.5 255.0,301.8 255.3,302.3 255.6,302.8 255.9,303.4 256.2,304.1 256.6,304.9 256.9,305.7 257.3,306.5 257.6,307.3 257.9,308.1 258.3,308.8 258.6,309.6 258.9,310.4 259.3,311.2 259.6,311.9 259.9,312.6 260.3,313.3 260.6,314.0 260.9,314.7 261.3,315.3 261.6,315.9 261.9,316.5 262.3,317.0 262.6,317.6 262.9,318.1 263.2,318.5 263.6,318.9 264.0,319.2 264.4,319.5 264.8,319.8 265.2,320.0 265.6,320.1 266.0,320.2 266.4,320.2 266.7,320.1 267.1,320.0 267.4,319.8 267.8,319.5 268.1,319.1 268.4,318.6 268.8,318.0 269.1,317.4 269.5,316.7 269.8,315.9 270.1,315.2 270.4,314.4 270.7,313.6 271.0,312.8 271.3,311.9 271.6,311.0 271.9,310.2 272.2,309.4 272.4,308.5 272.7,307.7 272.9,306.8 273.2,306.0 273.4,305.2 273.6,304.4 273.8,303.7 274.1,303.0 274.3,302.3 274.5,301.6 274.7,300.9 274.9,300.2 275.1,299.5 275.3,298.8 275.5,298.1 275.8,297.3 276.0,296.4 276.2,295.4 276.5,294.3 276.8,293.2 277.1,292.0 277.3,290.8 277.6,289.6 277.9,288.4 278.1,287.1 278.4,285.8 278.6,284.5 278.9,283.2 279.2,281.8 279.5,280.4 279.9,278.9 280.3,277.3 280.6,275.8 281.0,274.3 281.3,273.0 281.6,271.8 281.8,270.6 282.1,269.5 282.3,268.5 282.6,267.5 282.8,266.5 283.0,265.6 283.3,264.7 283.5,263.8 283.7,263.0 284.0,262.3 284.2,261.5 284.5,260.8 284.7,260.0 285.0,259.3 285.2,258.7 285.5,258.1 285.8,257.6 286.1,257.2 286.4,256.8 286.7,256.5 287.0,256.2 287.3,256.1 287.6,256.0 287.9,256.1 288.2,256.2 288.5,256.5 288.8,256.8 289.1,257.2 289.4,257.6 289.7,258.1 290.0,258.7 290.3,259.3 290.6,260.0 290.9,260.7 291.2,261.5 291.5,262.3 291.7,263.1 292.0,264.0 292.2,264.9 292.5,265.8 292.7,266.8 292.9,267.8 293.2,268.7 293.4,269.7 293.7,270.7 293.9,271.9 294.2,273.3 294.5,274.9 294.8,276.7 295.1,278.6 295.4,280.6 295.7,282.6 296.0,284.6 296.3,286.6 296.6,288.7 296.9,290.8 297.2,292.9 297.5,294.8 297.8,296.6 298.1,298.2 298.4,299.6 298.6,300.9 298.9,302.1 299.1,303.3 299.4,304.6 299.7,305.9 299.9,307.2 300.1,308.4 300.4,309.7 300.6,310.9 300.9,312.1 301.2,313.3 301.5,314.4 301.7,315.6 302.0,316.7 302.3,317.8 302.6,318.8 302.9,319.8 303.1,320.7 303.4,321.7 303.7,322.5 303.9,323.3 304.2,324.0 304.5,324.6 304.7,325.2 305.0,325.7 305.3,326.0 305.5,326.3 305.8,326.5 306.1,326.6 306.3,326.5 306.6,326.4 306.9,326.1 307.1,325.8 307.4,325.3 307.6,324.7 307.9,323.9 308.1,323.1 308.3,322.1 308.6,321.1 308.8,320.1 309.0,319.1 309.2,318.0 309.4,316.9 309.6,315.7 309.8,314.5 310.1,313.3 310.4,312.1 310.7,310.8 311.1,309.5 311.4,308.2 311.8,306.9 312.2,305.6 312.6,304.2 313.0,302.8 313.5,301.4 313.9,300.0 314.4,298.6 314.8,297.4 315.2,296.2 315.6,295.1 316.0,294.1 316.4,293.1 316.8,292.2 317.1,291.5 317.4,290.9 317.7,290.4 317.9,290.1 318.1,289.8 318.4,289.5 318.6,289.3 318.9,289.1 319.1,288.9 319.4,288.8 319.6,288.7 319.9,288.6 320.1,288.6 320.3,288.6 320.6,288.7 320.8,288.8 321.0,289.0 321.3,289.2 321.5,289.5 321.7,289.8 322.0,290.2 322.2,290.6 322.5,291.0 322.7,291.6 323.0,292.2 323.3,293.0 323.6,293.8 323.9,294.8 324.2,295.8 324.5,296.8 324.8,297.8 325.1,298.8 325.3,299.9 325.6,301.0 325.9,302.0 326.1,303.1 326.4,304.2 326.7,305.3 327.0,306.4 327.3,307.4 327.6,308.5 328.0,309.5 328.3,310.5 328.6,311.4 329.0,312.4 329.3,313.2 329.6,314.0 330.0,314.8 330.3,315.4 330.6,315.9 330.9,316.4 331.3,316.7 331.6,317.0 331.9,317.2 332.2,317.2 332.5,317.1 332.8,316.9 333.1,316.7 333.5,316.2 333.8,315.7 334.1,315.0 334.4,314.1 334.7,313.1 335.1,311.9 335.4,310.6 335.7,309.3 336.0,308.0 336.3,306.7 336.6,305.3 336.9,303.9 337.3,302.4 337.6,301.0 337.9,299.7 338.2,298.4 338.5,297.2 338.8,296.0 339.2,294.8 339.5,293.7 339.8,292.7 340.1,291.8 340.4,291.0 340.8,290.2 341.1,289.5 341.4,288.9 341.7,288.3 342.0,287.8 342.3,287.3 342.6,286.9 343.0,286.6 343.3,286.3 343.6,286.0 343.9,285.8 344.2,285.7 344.6,285.6 344.9,285.5 345.2,285.5 345.5,285.5 345.8,285.5 346.1,285.5 346.4,285.6 346.8,285.7 347.1,285.8 347.4,286.0 347.7,286.2 348.0,286.5 348.3,286.9 348.7,287.3 349.0,287.7 349.3,288.1 349.6,288.6 350.0,289.0 350.3,289.6 350.6,290.1 351.0,290.6 351.3,291.1 351.6,291.6 351.9,292.1 352.3,292.6 352.6,293.0 352.9,293.5 353.2,293.9 353.5,294.3 353.8,294.6 354.1,294.9 354.5,295.2 354.8,295.5 355.1,295.7 355.4,295.9 355.7,296.0 356.1,296.1 356.4,296.2 356.7,296.2 357.0,296.1 357.3,296.0 357.6,295.8 357.9,295.5 358.3,295.2 358.6,294.9 358.9,294.6 359.2,294.2 359.5,293.8 359.8,293.4 360.2,293.0 360.5,292.5 360.8,292.1 361.1,291.7 361.4,291.2 361.8,290.8 362.1,290.3 362.4,289.9 362.7,289.5 363.0,289.1 363.3,288.8 363.6,288.4 364.0,288.1 364.3,287.8 364.6,287.5 364.9,287.2 365.2,286.9 365.6,286.7 365.9,286.4 366.2,286.2 366.5,286.0 366.8,285.9 367.1,285.7 367.4,285.6 367.8,285.6 368.1,285.6 368.4,285.6 368.7,285.7 369.0,285.9 369.3,286.1 369.7,286.3 370.0,286.5 370.3,286.8 370.6,287.1 371.0,287.4 371.3,287.7 371.6,288.1 372.0,288.4 372.3,288.7 372.6,289.0 372.9,289.2 373.3,289.5 373.6,289.7 373.9,290.0 374.2,290.2 374.5,290.4 374.8,290.6 375.1,290.8 375.5,291.0 375.8,291.3 376.1,291.5 376.4,291.8 376.7,292.0 377.1,292.3 377.4,292.6 377.7,292.9 378.0,293.3 378.3,293.7 378.6,294.1 378.9,294.6 379.3,295.0 379.6,295.5 379.9,295.9 380.2,296.3 380.5,296.7 380.8,297.1 381.2,297.6 381.5,298.0 381.8,298.4 382.1,298.8 382.4,299.3 382.8,299.7 383.1,300.2 383.4,300.6 383.7,301.0 384.0,301.4 384.3,301.8 384.6,302.2 385.0,302.6 385.3,302.9 385.6,303.3 385.9,303.6 386.2,303.9 386.6,304.3 386.9,304.5 387.2,304.8 387.5,305.1 387.8,305.4 388.1,305.6 388.4,305.9 388.7,306.1 389.0,306.4 389.3,306.6 389.6,306.8 389.9,307.0 390.2,307.1 390.5,307.3 390.8,307.4 391.2,307.6 391.6,307.8 392.0,307.9 392.4,308.1 392.9,308.3 393.3,308.4 393.7,308.5 394.1,308.5 394.4,308.6 394.7,308.6 395.0,308.5 395.3,308.4 395.6,308.3 395.9,308.1 396.2,307.9 396.6,307.6 396.9,307.4 397.2,307.0 397.5,306.7 397.8,306.3 398.1,305.9 398.4,305.5 398.8,305.1 399.1,304.6 399.4,304.2 399.7,303.8 400.0,303.3 400.3,302.9 400.7,302.4 401.0,302.0 401.3,301.6 401.6,301.2 402.0,300.9 402.3,300.6 402.6,300.3 403.0,300.0 403.3,299.7 403.6,299.4 403.9,299.2 404.3,299.0 404.6,298.8 404.9,298.6 405.2,298.4 405.5,298.3 405.8,298.1 406.1,298.0 406.5,298.0 406.8,297.9 407.1,297.9 407.4,297.9 407.7,298.0 408.1,298.1 408.4,298.2 408.7,298.3 409.0,298.5 409.3,298.7 409.6,299.0 409.9,299.3 410.3,299.6 410.6,299.9 410.9,300.2 411.2,300.5 411.5,300.8 411.8,301.2 412.2,301.5 412.5,301.8 412.8,302.0 413.1,302.2 413.4,302.3 413.8,302.4 414.1,302.5 414.4,302.5 414.7,302.4 415.0,302.3 415.3,302.1 415.6,301.9 416.0,301.7 416.3,301.4 416.6,301.0 416.9,300.6 417.2,300.1 417.6,299.6 417.9,299.0 418.2,298.4 418.5,297.9 418.8,297.4 419.1,296.8 419.4,296.3 419.8,295.7 420.1,295.1 420.4,294.6 420.7,294.1 421.0,293.5 421.3,293.0 421.7,292.5 422.0,291.9 422.3,291.4 422.6,290.9 423.0,290.3 423.3,289.8 423.6,289.2 424.0,288.8 424.3,288.3 424.6,287.9 424.9,287.5 425.3,287.1 425.6,286.8 425.9,286.5 426.2,286.3 426.5,286.1 426.8,285.9 427.1,285.8 427.5,285.7 427.8,285.6 428.1,285.7 428.4,285.8 428.7,286.0 429.1,286.3 429.4,286.6 429.7,287.1 430.0,287.6 430.3,288.3 430.6,289.0 430.9,289.9 431.3,290.8 431.6,291.7 431.9,292.7 432.2,293.7 432.5,294.8 432.8,295.8 433.2,296.9 433.5,298.0 433.8,299.0 434.1,299.9 434.4,300.9 434.8,301.7 435.1,302.6 435.4,303.4 435.7,304.1 436.0,304.8 436.3,305.4 436.6,305.9 437.0,306.4 437.3,306.9 437.6,307.3 437.9,307.7 438.3,308.0 438.6,308.3 438.9,308.5 439.2,308.7 439.5,308.8 439.8,308.9 440.0,308.9 440.2,308.9 440.4,308.8 440.6,308.7 440.8,308.5 441.0,308.3 441.2,307.9 441.5,307.6 441.7,307.2 441.9,306.7 442.1,306.1 442.3,305.4 442.5,304.7 442.7,303.9 442.9,303.0 443.1,302.1 443.3,301.2 443.5,300.3 443.7,299.3 443.9,298.3 444.2,297.3 444.4,296.3 444.6,295.3 444.8,294.3 445.0,293.3 445.2,292.4 445.5,291.4 445.7,290.4 445.9,289.5 446.1,288.6 446.3,287.6 446.6,286.7 446.8,285.8 447.0,284.9 447.2,284.0 447.4,283.1 447.6,282.3 447.8,281.4 448.0,280.6 448.2,279.8 448.4,279.0 448.6,278.3 448.8,277.6 449.0,276.9 449.3,276.3 449.5,275.7 449.7,275.1 449.9,274.5 450.1,274.0 450.4,273.4 450.6,272.9 450.8,272.4 451.0,272.0 451.2,271.6 451.4,271.2 451.7,270.9 451.9,270.6 452.1,270.4 452.3,270.1 452.5,269.9 452.7,269.7 452.9,269.5 453.1,269.3 453.3,269.2 453.5,269.1 453.7,269.0 453.9,268.9 454.2,268.8 454.4,268.7 454.7,268.7 454.9,268.8 455.2,268.9 455.4,269.0 455.7,269.2 456.0,269.4 456.2,269.8 456.5,270.2 456.8,270.7 457.1,271.3 457.4,272.0 457.6,272.8 457.9,273.7 458.2,274.6 458.5,275.7 458.7,276.8 459.0,278.1 459.2,279.4 459.5,280.7 459.7,282.1 459.9,283.5 460.2,284.9 460.4,286.4 460.7,287.9 460.9,289.3 461.2,290.8 461.5,292.2 461.8,293.7 462.1,295.2 462.4,296.6 462.6,298.0 462.9,299.3 463.1,300.6 463.4,301.8 463.6,302.9 463.8,304.1 464.0,305.2 464.2,306.4 464.4,307.6 464.6,308.7 464.8,309.9 465.0,311.0 465.2,312.2 465.4,313.4 465.6,314.6 465.8,315.8 466.0,317.1 466.2,318.3 466.5,319.6 466.7,320.8 467.0,322.1 467.2,323.4 467.5,324.7 467.8,325.9 468.1,327.2 468.4,328.3 468.7,329.4 468.9,330.4 469.2,331.3 469.5,332.2 469.8,333.1 470.1,333.8 470.5,334.5 470.9,335.1 471.3,335.7 471.7,336.2 472.1,336.5 472.5,336.7 472.9,336.7 473.2,336.6 473.5,336.4 473.9,336.0 474.2,335.6 474.5,335.1 474.8,334.5 475.1,333.9 475.4,333.1 475.7,332.3 476.0,331.3 476.3,330.3 476.6,329.2 476.9,327.9 477.2,326.6 477.6,325.2 477.9,323.7 478.2,322.3 478.5,320.8 478.8,319.3 479.1,317.8 479.5,316.3 479.8,314.8 480.1,313.3 480.4,311.9 480.7,310.5 481.1,309.2 481.4,307.9 481.7,306.6 482.0,305.3 482.3,304.1 482.6,302.9 482.8,301.8 483.1,300.7 483.3,299.5 483.6,298.3 483.9,297.0 484.1,295.6 484.4,294.2 484.7,292.8 484.9,291.3 485.2,289.9 485.5,288.5 485.7,287.0 486.0,285.5 486.3,284.0 486.5,282.6 486.8,281.2 487.1,279.8 487.3,278.5 487.5,277.2 487.8,276.0 488.0,274.8 488.3,273.6 488.6,272.5 488.9,271.4 489.2,270.4 489.4,269.4 489.7,268.5 490.0,267.7 490.3,266.9 490.5,266.2 490.7,265.6 491.0,265.0 491.2,264.5 491.5,264.0 491.8,263.6 492.1,263.2 492.4,262.9 492.8,262.6 493.1,262.4 493.4,262.2 493.7,262.0 494.0,261.9 494.3,261.8 494.7,261.7 495.0,261.7 495.3,261.7 495.6,261.7 496.0,261.8 496.3,261.9 496.6,262.0 497.0,262.3 497.3,262.6 497.6,263.0 497.9,263.5 498.2,264.1 498.6,264.8 498.9,265.6 499.2,266.4 499.5,267.4 499.9,268.5 500.2,269.7 500.6,270.9 500.9,272.1 501.2,273.2 501.5,274.2 501.7,275.1 501.9,276.0 502.2,276.9 502.4,277.8 502.6,278.8 502.8,279.8 503.0,280.9 503.2,282.0 503.4,283.1 503.6,284.2 503.8,285.3 504.0,286.4 504.2,287.5 504.4,288.6 504.6,289.7 504.8,290.7 505.0,291.8 505.2,292.8 505.4,293.9 505.6,294.9 505.8,295.9 506.0,296.8 506.2,297.8 506.4,298.7 506.6,299.7 506.8,300.6 507.0,301.4 507.3,302.4 507.5,303.3 507.8,304.3 508.1,305.3 508.4,306.4 508.7,307.4 509.0,308.4 509.3,309.3 509.6,310.1 509.9,310.9 510.2,311.7 510.5,312.3 510.8,312.9 511.1,313.5 511.4,314.0 511.7,314.4 512.0,314.8 512.3,315.1 512.6,315.3 512.9,315.5 513.2,315.7 513.5,315.8 513.8,315.8 514.1,315.8 514.4,315.8 514.7,315.6 515.0,315.4 515.3,315.1 515.6,314.8 515.9,314.3 516.2,313.8 516.5,313.2 516.8,312.5 517.1,311.6 517.5,310.7 517.8,309.7 518.1,308.7 518.4,307.7 518.7,306.7 519.0,305.7 519.3,304.7 519.6,303.7 519.9,302.7 520.2,301.7 520.5,300.7 520.8,299.8 521.1,298.9 521.4,298.0 521.7,297.1 522.0,296.2 522.3,295.3 522.6,294.5 522.9,293.7 523.2,292.9 523.5,292.1 523.8,291.4 524.1,290.7 524.4,290.0 524.7,289.4 525.0,288.8 525.3,288.3 525.6,287.8 525.9,287.4 526.2,287.0 526.5,286.7 526.8,286.4 527.1,286.1 527.4,285.9 527.7,285.7 528.0,285.5 528.3,285.3 528.7,285.2 529.0,285.1 529.3,285.1 529.6,285.2 529.9,285.3 530.2,285.5 530.5,285.7 530.8,286.1 531.1,286.5 531.4,287.1 531.7,287.8 532.0,288.5 532.3,289.4 532.6,290.3 532.9,291.2 533.2,292.2 533.5,293.3 533.8,294.4 534.1,295.6 534.4,296.7 534.7,297.8 535.0,298.8 535.3,299.8 535.7,300.8 536.0,301.7 536.3,302.6 536.5,303.4 536.7,304.1 536.9,304.8 537.0,305.4 537.1,306.0 537.2,306.5 537.3,306.8" fill="none" stroke="#D95319" stroke-opacity="0.3" stroke-width="3.6999999999999997" stroke-linejoin="round"/><polyline points="48.5,297.1 48.8,297.1 49.2,297.2 49.7,297.2 50.3,297.3 50.8,297.3 51.3,297.4 51.7,297.5 52.2,297.6 52.6,297.7 53.0,297.9 53.5,298.0 53.9,298.1 54.3,298.2 54.7,298.3 55.1,298.4 55.6,298.5 56.0,298.6 56.4,298.7 56.8,298.9 57.3,299.1 57.7,299.3 58.1,299.5 58.6,299.7 59.0,300.0 59.4,300.3 59.8,300.6 60.2,300.9 60.7,301.2 61.1,301.6 61.5,301.9 61.9,302.2 62.4,302.6 62.8,302.9 63.2,303.2 63.7,303.5 64.1,303.8 64.5,304.0 64.9,304.3 65.3,304.5 65.8,304.6 66.2,304.7 66.6,304.7 67.0,304.6 67.5,304.5 67.9,304.3 68.4,304.0 68.8,303.7 69.2,303.2 69.6,302.6 69.9,302.0 70.2,301.3 70.5,300.5 70.8,299.6 71.1,298.7 71.4,297.7 71.7,296.7 72.0,295.6 72.4,294.5 72.7,293.4 73.0,292.3 73.3,291.2 73.6,290.1 74.0,289.1 74.3,288.0 74.6,287.0 74.9,286.0 75.2,285.1 75.5,284.1 75.9,283.3 76.2,282.4 76.5,281.6 76.8,280.9 77.1,280.2 77.4,279.6 77.8,279.1 78.1,278.6 78.4,278.1 78.7,277.7 79.0,277.3 79.3,276.9 79.7,276.6 80.0,276.3 80.3,276.0 80.6,275.8 80.9,275.6 81.2,275.5 81.5,275.4 81.9,275.4 82.2,275.4 82.5,275.4 82.8,275.5 83.1,275.6 83.5,275.8 83.8,276.0 84.1,276.3 84.4,276.7 84.7,277.2 85.0,277.7 85.3,278.4 85.7,279.1 86.0,279.9 86.3,280.9 86.6,282.0 87.0,283.3 87.3,284.8 87.6,286.2 88.0,287.7 88.3,289.2 88.6,290.6 88.9,292.1 89.3,293.6 89.6,295.1 89.9,296.6 90.2,298.1 90.5,299.6 90.8,301.2 91.2,302.7 91.5,304.2 91.8,305.7 92.1,307.0 92.4,308.2 92.7,309.4 93.0,310.5 93.4,311.5 93.7,312.4 94.0,313.3 94.3,314.1 94.6,314.9 95.0,315.6 95.3,316.2 95.6,316.7 95.9,317.2 96.2,317.6 96.5,317.9 96.9,318.2 97.2,318.3 97.5,318.4 97.8,318.4 98.1,318.3 98.4,318.1 98.8,317.9 99.1,317.5 99.4,317.1 99.7,316.5 100.0,315.8 100.3,314.9 100.7,314.0 101.0,313.0 101.3,311.9 101.6,310.8 101.9,309.7 102.2,308.5 102.5,307.3 102.9,306.0 103.2,304.7 103.5,303.4 103.8,302.0 104.1,300.6 104.5,299.2 104.8,297.7 105.1,296.3 105.4,295.0 105.7,293.7 106.0,292.4 106.3,291.2 106.7,290.0 107.0,288.9 107.3,287.8 107.6,286.8 108.0,285.9 108.3,285.0 108.6,284.2 109.0,283.4 109.3,282.8 109.6,282.3 110.0,281.8 110.3,281.4 110.6,281.1 111.0,280.8 111.3,280.6 111.6,280.4 112.0,280.3 112.4,280.2 112.7,280.1 113.1,280.1 113.4,280.2 113.7,280.3 114.1,280.5 114.4,280.8 114.8,281.1 115.1,281.4 115.4,281.8 115.7,282.3 116.0,282.8 116.3,283.3 116.5,283.9 116.8,284.6 117.1,285.3 117.4,286.1 117.7,286.9 118.0,287.9 118.4,288.8 118.7,289.8 119.0,290.8 119.3,291.8 119.6,292.9 120.0,294.0 120.3,295.1 120.6,296.2 120.9,297.3 121.2,298.4 121.5,299.4 121.9,300.5 122.2,301.6 122.5,302.6 122.8,303.6 123.1,304.6 123.5,305.6 123.8,306.5 124.1,307.4 124.4,308.3 124.7,309.1 125.0,309.8 125.2,310.4 125.4,311.0 125.7,311.5 125.9,312.1 126.1,312.6 126.3,313.1 126.5,313.7 126.7,314.2 127.0,314.7 127.2,315.1 127.4,315.6 127.6,316.1 127.8,316.5 128.1,316.9 128.3,317.3 128.5,317.7 128.8,318.0 129.1,318.3 129.4,318.5 129.7,318.7 130.0,318.9 130.3,319.0 130.7,319.0 131.1,319.0 131.5,318.9 132.0,318.7 132.4,318.6 132.9,318.4 133.3,318.2 133.7,318.0 134.1,317.9 134.5,317.7 134.9,317.4 135.3,317.2 135.7,316.9 136.1,316.6 136.4,316.2 136.7,315.8 137.1,315.4 137.4,314.9 137.8,314.3 138.2,313.7 138.7,313.0 139.2,312.2 139.7,311.4 140.1,310.6 140.6,309.8 141.0,309.0 141.4,308.1 141.9,307.2 142.3,306.3 142.6,305.4 143.0,304.4 143.3,303.4 143.7,302.4 144.0,301.4 144.3,300.4 144.6,299.3 144.9,298.3 145.2,297.3 145.5,296.3 145.9,295.3 146.2,294.3 146.5,293.2 146.8,292.1 147.1,290.9 147.4,289.7 147.8,288.4 148.1,287.1 148.4,285.9 148.7,284.8 149.0,283.8 149.3,282.8 149.6,282.0 150.0,281.1 150.3,280.3 150.6,279.4 150.9,278.5 151.2,277.6 151.5,276.8 151.9,275.9 152.2,275.1 152.5,274.3 152.8,273.6 153.2,272.9 153.5,272.3 153.8,271.7 154.2,271.1 154.5,270.5 154.8,269.9 155.1,269.3 155.5,268.8 155.8,268.2 156.1,267.7 156.4,267.3 156.7,266.9 157.0,266.6 157.4,266.3 157.7,266.0 158.0,265.8 158.3,265.6 158.6,265.4 158.9,265.3 159.2,265.2 159.6,265.2 159.9,265.1 160.2,265.1 160.5,265.1 160.8,265.1 161.1,265.1 161.5,265.2 161.8,265.3 162.1,265.4 162.4,265.5 162.7,265.7 163.1,265.8 163.4,266.0 163.7,266.3 164.0,266.6 164.3,267.0 164.6,267.4 164.9,267.9 165.3,268.5 165.6,269.1 165.9,269.8 166.2,270.6 166.5,271.5 166.9,272.4 167.2,273.4 167.5,274.4 167.8,275.5 168.1,276.6 168.4,277.7 168.8,278.8 169.1,280.0 169.4,281.2 169.7,282.5 170.0,283.9 170.3,285.3 170.6,286.8 171.0,288.4 171.3,289.9 171.6,291.5 171.9,293.1 172.2,294.7 172.6,296.3 172.9,298.0 173.2,299.7 173.5,301.3 173.8,302.9 174.1,304.6 174.4,306.2 174.7,307.8 175.0,309.5 175.3,311.1 175.6,312.8 176.0,314.5 176.3,316.3 176.7,318.0 177.1,319.6 177.4,321.1 177.7,322.5 178.0,323.8 178.4,325.0 178.7,326.2 179.0,327.3 179.3,328.3 179.6,329.2 179.9,330.1 180.2,330.9 180.6,331.6 180.9,332.2 181.2,332.8 181.5,333.3 181.8,333.7 182.2,334.0 182.5,334.2 182.8,334.4 183.1,334.5 183.4,334.6 183.7,334.6 183.9,334.5 184.2,334.4 184.5,334.1 184.8,333.6 185.1,332.9 185.4,332.1 185.8,331.2 186.1,330.1 186.5,328.9 186.8,327.7 187.1,326.4 187.4,325.0 187.8,323.4 188.1,321.9 188.4,320.3 188.7,318.8 189.0,317.3 189.3,315.8 189.6,314.3 190.0,312.8 190.3,311.3 190.6,309.9 190.9,308.5 191.2,307.2 191.5,305.9 191.9,304.7 192.2,303.5 192.5,302.3 192.8,301.1 193.2,300.0 193.5,298.9 193.8,297.8 194.2,296.8 194.5,295.9 194.8,295.0 195.2,294.2 195.5,293.4 195.8,292.7 196.2,292.0 196.5,291.4 196.8,290.8 197.1,290.2 197.4,289.7 197.7,289.2 198.0,288.8 198.3,288.3 198.6,287.8 199.0,287.4 199.3,286.9 199.6,286.5 200.0,286.1 200.4,285.7 200.8,285.4 201.3,285.1 201.8,284.8 202.3,284.6 202.7,284.4 203.2,284.2 203.6,284.1 204.1,284.0 204.5,283.9 204.9,283.9 205.3,283.8 205.7,283.8 206.1,283.8 206.6,283.7 207.0,283.7 207.4,283.7 207.9,283.8 208.3,283.8 208.7,283.9 209.1,283.9 209.6,284.0 210.0,284.2 210.4,284.3 210.8,284.4 211.2,284.5 211.6,284.7 212.0,284.8 212.5,285.0 212.9,285.1 213.3,285.3 213.7,285.5 214.2,285.6 214.6,285.8 215.0,286.0 215.5,286.1 215.9,286.3 216.3,286.4 216.8,286.6 217.2,286.7 217.6,286.8 218.0,286.9 218.4,287.0 218.8,287.1 219.1,287.2 219.4,287.3 219.7,287.4 220.0,287.5 220.3,287.7 220.6,287.9 221.0,288.2 221.3,288.4 221.6,288.8 222.0,289.1 222.3,289.5 222.6,289.9 222.9,290.4 223.3,291.0 223.6,291.5 223.9,292.1 224.2,292.7 224.5,293.3 224.8,293.9 225.1,294.6 225.5,295.2 225.8,295.9 226.1,296.5 226.4,297.1 226.7,297.8 227.1,298.5 227.4,299.1 227.7,299.7 228.0,300.3 228.3,300.8 228.6,301.3 228.9,301.7 229.3,302.2 229.6,302.5 229.9,302.9 230.2,303.2 230.5,303.5 230.9,303.8 231.2,304.1 231.5,304.3 231.8,304.5 232.1,304.7 232.4,304.8 232.8,305.0 233.1,305.0 233.4,305.1 233.7,305.1 234.0,305.1 234.3,305.0 234.6,304.9 235.0,304.7 235.3,304.5 235.6,304.2 235.9,303.9 236.2,303.5 236.6,303.0 236.9,302.6 237.2,302.1 237.5,301.6 237.8,301.1 238.1,300.6 238.4,300.0 238.8,299.5 239.1,298.9 239.4,298.4 239.7,297.9 240.0,297.4 240.3,296.9 240.7,296.5 241.0,296.0 241.3,295.6 241.6,295.2 242.0,294.8 242.3,294.5 242.6,294.2 243.0,293.9 243.3,293.6 243.6,293.4 243.9,293.1 244.3,292.9 244.6,292.8 244.9,292.6 245.2,292.5 245.5,292.4 245.8,292.3 246.2,292.3 246.5,292.3 246.8,292.3 247.1,292.3 247.4,292.4 247.7,292.5 248.0,292.6 248.3,292.7 248.6,292.9 248.9,293.2 249.2,293.5 249.5,293.9 249.9,294.4 250.2,294.8 250.5,295.3 250.8,295.7 251.1,296.1 251.3,296.5 251.6,296.9 251.8,297.2 252.0,297.6 252.3,298.0 252.6,298.4 252.8,298.8 253.1,299.2 253.4,299.6 253.6,300.0 253.9,300.4 254.2,300.8 254.4,301.1 254.7,301.5 255.0,301.8 255.3,302.3 255.6,302.8 255.9,303.4 256.2,304.1 256.6,304.9 256.9,305.7 257.3,306.5 257.6,307.3 257.9,308.1 258.3,308.8 258.6,309.6 258.9,310.4 259.3,311.2 259.6,311.9 259.9,312.6 260.3,313.3 260.6,314.0 260.9,314.7 261.3,315.3 261.6,315.9 261.9,316.5 262.3,317.0 262.6,317.6 262.9,318.1 263.2,318.5 263.6,318.9 264.0,319.2 264.4,319.5 264.8,319.8 265.2,320.0 265.6,320.1 266.0,320.2 266.4,320.2 266.7,320.1 267.1,320.0 267.4,319.8 267.8,319.5 268.1,319.1 268.4,318.6 268.8,318.0 269.1,317.4 269.5,316.7 269.8,315.9 270.1,315.2 270.4,314.4 270.7,313.6 271.0,312.8 271.3,311.9 271.6,311.0 271.9,310.2 272.2,309.4 272.4,308.5 272.7,307.7 272.9,306.8 273.2,306.0 273.4,305.2 273.6,304.4 273.8,303.7 274.1,303.0 274.3,302.3 274.5,301.6 274.7,300.9 274.9,300.2 275.1,299.5 275.3,298.8 275.5,298.1 275.8,297.3 276.0,296.4 276.2,295.4 276.5,294.3 276.8,293.2 277.1,292.0 277.3,290.8 277.6,289.6 277.9,288.4 278.1,287.1 278.4,285.8 278.6,284.5 278.9,283.2 279.2,281.8 279.5,280.4 279.9,278.9 280.3,277.3 280.6,275.8 281.0,274.3 281.3,273.0 281.6,271.8 281.8,270.6 282.1,269.5 282.3,268.5 282.6,267.5 282.8,266.5 283.0,265.6 283.3,264.7 283.5,263.8 283.7,263.0 284.0,262.3 284.2,261.5 284.5,260.8 284.7,260.0 285.0,259.3 285.2,258.7 285.5,258.1 285.8,257.6 286.1,257.2 286.4,256.8 286.7,256.5 287.0,256.2 287.3,256.1 287.6,256.0 287.9,256.1 288.2,256.2 288.5,256.5 288.8,256.8 289.1,257.2 289.4,257.6 289.7,258.1 290.0,258.7 290.3,259.3 290.6,260.0 290.9,260.7 291.2,261.5 291.5,262.3 291.7,263.1 292.0,264.0 292.2,264.9 292.5,265.8 292.7,266.8 292.9,267.8 293.2,268.7 293.4,269.7 293.7,270.7 293.9,271.9 294.2,273.3 294.5,274.9 294.8,276.7 295.1,278.6 295.4,280.6 295.7,282.6 296.0,284.6 296.3,286.6 296.6,288.7 296.9,290.8 297.2,292.9 297.5,294.8 297.8,296.6 298.1,298.2 298.4,299.6 298.6,300.9 298.9,302.1 299.1,303.3 299.4,304.6 299.7,305.9 299.9,307.2 300.1,308.4 300.4,309.7 300.6,310.9 300.9,312.1 301.2,313.3 301.5,314.4 301.7,315.6 302.0,316.7 302.3,317.8 302.6,318.8 302.9,319.8 303.1,320.7 303.4,321.7 303.7,322.5 303.9,323.3 304.2,324.0 304.5,324.6 304.7,325.2 305.0,325.7 305.3,326.0 305.5,326.3 305.8,326.5 306.1,326.6 306.3,326.5 306.6,326.4 306.9,326.1 307.1,325.8 307.4,325.3 307.6,324.7 307.9,323.9 308.1,323.1 308.3,322.1 308.6,321.1 308.8,320.1 309.0,319.1 309.2,318.0 309.4,316.9 309.6,315.7 309.8,314.5 310.1,313.3 310.4,312.1 310.7,310.8 311.1,309.5 311.4,308.2 311.8,306.9 312.2,305.6 312.6,304.2 313.0,302.8 313.5,301.4 313.9,300.0 314.4,298.6 314.8,297.4 315.2,296.2 315.6,295.1 316.0,294.1 316.4,293.1 316.8,292.2 317.1,291.5 317.4,290.9 317.7,290.4 317.9,290.1 318.1,289.8 318.4,289.5 318.6,289.3 318.9,289.1 319.1,288.9 319.4,288.8 319.6,288.7 319.9,288.6 320.1,288.6 320.3,288.6 320.6,288.7 320.8,288.8 321.0,289.0 321.3,289.2 321.5,289.5 321.7,289.8 322.0,290.2 322.2,290.6 322.5,291.0 322.7,291.6 323.0,292.2 323.3,293.0 323.6,293.8 323.9,294.8 324.2,295.8 324.5,296.8 324.8,297.8 325.1,298.8 325.3,299.9 325.6,301.0 325.9,302.0 326.1,303.1 326.4,304.2 326.7,305.3 327.0,306.4 327.3,307.4 327.6,308.5 328.0,309.5 328.3,310.5 328.6,311.4 329.0,312.4 329.3,313.2 329.6,314.0 330.0,314.8 330.3,315.4 330.6,315.9 330.9,316.4 331.3,316.7 331.6,317.0 331.9,317.2 332.2,317.2 332.5,317.1 332.8,316.9 333.1,316.7 333.5,316.2 333.8,315.7 334.1,315.0 334.4,314.1 334.7,313.1 335.1,311.9 335.4,310.6 335.7,309.3 336.0,308.0 336.3,306.7 336.6,305.3 336.9,303.9 337.3,302.4 337.6,301.0 337.9,299.7 338.2,298.4 338.5,297.2 338.8,296.0 339.2,294.8 339.5,293.7 339.8,292.7 340.1,291.8 340.4,291.0 340.8,290.2 341.1,289.5 341.4,288.9 341.7,288.3 342.0,287.8 342.3,287.3 342.6,286.9 343.0,286.6 343.3,286.3 343.6,286.0 343.9,285.8 344.2,285.7 344.6,285.6 344.9,285.5 345.2,285.5 345.5,285.5 345.8,285.5 346.1,285.5 346.4,285.6 346.8,285.7 347.1,285.8 347.4,286.0 347.7,286.2 348.0,286.5 348.3,286.9 348.7,287.3 349.0,287.7 349.3,288.1 349.6,288.6 350.0,289.0 350.3,289.6 350.6,290.1 351.0,290.6 351.3,291.1 351.6,291.6 351.9,292.1 352.3,292.6 352.6,293.0 352.9,293.5 353.2,293.9 353.5,294.3 353.8,294.6 354.1,294.9 354.5,295.2 354.8,295.5 355.1,295.7 355.4,295.9 355.7,296.0 356.1,296.1 356.4,296.2 356.7,296.2 357.0,296.1 357.3,296.0 357.6,295.8 357.9,295.5 358.3,295.2 358.6,294.9 358.9,294.6 359.2,294.2 359.5,293.8 359.8,293.4 360.2,293.0 360.5,292.5 360.8,292.1 361.1,291.7 361.4,291.2 361.8,290.8 362.1,290.3 362.4,289.9 362.7,289.5 363.0,289.1 363.3,288.8 363.6,288.4 364.0,288.1 364.3,287.8 364.6,287.5 364.9,287.2 365.2,286.9 365.6,286.7 365.9,286.4 366.2,286.2 366.5,286.0 366.8,285.9 367.1,285.7 367.4,285.6 367.8,285.6 368.1,285.6 368.4,285.6 368.7,285.7 369.0,285.9 369.3,286.1 369.7,286.3 370.0,286.5 370.3,286.8 370.6,287.1 371.0,287.4 371.3,287.7 371.6,288.1 372.0,288.4 372.3,288.7 372.6,289.0 372.9,289.2 373.3,289.5 373.6,289.7 373.9,290.0 374.2,290.2 374.5,290.4 374.8,290.6 375.1,290.8 375.5,291.0 375.8,291.3 376.1,291.5 376.4,291.8 376.7,292.0 377.1,292.3 377.4,292.6 377.7,292.9 378.0,293.3 378.3,293.7 378.6,294.1 378.9,294.6 379.3,295.0 379.6,295.5 379.9,295.9 380.2,296.3 380.5,296.7 380.8,297.1 381.2,297.6 381.5,298.0 381.8,298.4 382.1,298.8 382.4,299.3 382.8,299.7 383.1,300.2 383.4,300.6 383.7,301.0 384.0,301.4 384.3,301.8 384.6,302.2 385.0,302.6 385.3,302.9 385.6,303.3 385.9,303.6 386.2,303.9 386.6,304.3 386.9,304.5 387.2,304.8 387.5,305.1 387.8,305.4 388.1,305.6 388.4,305.9 388.7,306.1 389.0,306.4 389.3,306.6 389.6,306.8 389.9,307.0 390.2,307.1 390.5,307.3 390.8,307.4 391.2,307.6 391.6,307.8 392.0,307.9 392.4,308.1 392.9,308.3 393.3,308.4 393.7,308.5 394.1,308.5 394.4,308.6 394.7,308.6 395.0,308.5 395.3,308.4 395.6,308.3 395.9,308.1 396.2,307.9 396.6,307.6 396.9,307.4 397.2,307.0 397.5,306.7 397.8,306.3 398.1,305.9 398.4,305.5 398.8,305.1 399.1,304.6 399.4,304.2 399.7,303.8 400.0,303.3 400.3,302.9 400.7,302.4 401.0,302.0 401.3,301.6 401.6,301.2 402.0,300.9 402.3,300.6 402.6,300.3 403.0,300.0 403.3,299.7 403.6,299.4 403.9,299.2 404.3,299.0 404.6,298.8 404.9,298.6 405.2,298.4 405.5,298.3 405.8,298.1 406.1,298.0 406.5,298.0 406.8,297.9 407.1,297.9 407.4,297.9 407.7,298.0 408.1,298.1 408.4,298.2 408.7,298.3 409.0,298.5 409.3,298.7 409.6,299.0 409.9,299.3 410.3,299.6 410.6,299.9 410.9,300.2 411.2,300.5 411.5,300.8 411.8,301.2 412.2,301.5 412.5,301.8 412.8,302.0 413.1,302.2 413.4,302.3 413.8,302.4 414.1,302.5 414.4,302.5 414.7,302.4 415.0,302.3 415.3,302.1 415.6,301.9 416.0,301.7 416.3,301.4 416.6,301.0 416.9,300.6 417.2,300.1 417.6,299.6 417.9,299.0 418.2,298.4 418.5,297.9 418.8,297.4 419.1,296.8 419.4,296.3 419.8,295.7 420.1,295.1 420.4,294.6 420.7,294.1 421.0,293.5 421.3,293.0 421.7,292.5 422.0,291.9 422.3,291.4 422.6,290.9 423.0,290.3 423.3,289.8 423.6,289.2 424.0,288.8 424.3,288.3 424.6,287.9 424.9,287.5 425.3,287.1 425.6,286.8 425.9,286.5 426.2,286.3 426.5,286.1 426.8,285.9 427.1,285.8 427.5,285.7 427.8,285.6 428.1,285.7 428.4,285.8 428.7,286.0 429.1,286.3 429.4,286.6 429.7,287.1 430.0,287.6 430.3,288.3 430.6,289.0 430.9,289.9 431.3,290.8 431.6,291.7 431.9,292.7 432.2,293.7 432.5,294.8 432.8,295.8 433.2,296.9 433.5,298.0 433.8,299.0 434.1,299.9 434.4,300.9 434.8,301.7 435.1,302.6 435.4,303.4 435.7,304.1 436.0,304.8 436.3,305.4 436.6,305.9 437.0,306.4 437.3,306.9 437.6,307.3 437.9,307.7 438.3,308.0 438.6,308.3 438.9,308.5 439.2,308.7 439.5,308.8 439.8,308.9 440.0,308.9 440.2,308.9 440.4,308.8 440.6,308.7 440.8,308.5 441.0,308.3 441.2,307.9 441.5,307.6 441.7,307.2 441.9,306.7 442.1,306.1 442.3,305.4 442.5,304.7 442.7,303.9 442.9,303.0 443.1,302.1 443.3,301.2 443.5,300.3 443.7,299.3 443.9,298.3 444.2,297.3 444.4,296.3 444.6,295.3 444.8,294.3 445.0,293.3 445.2,292.4 445.5,291.4 445.7,290.4 445.9,289.5 446.1,288.6 446.3,287.6 446.6,286.7 446.8,285.8 447.0,284.9 447.2,284.0 447.4,283.1 447.6,282.3 447.8,281.4 448.0,280.6 448.2,279.8 448.4,279.0 448.6,278.3 448.8,277.6 449.0,276.9 449.3,276.3 449.5,275.7 449.7,275.1 449.9,274.5 450.1,274.0 450.4,273.4 450.6,272.9 450.8,272.4 451.0,272.0 451.2,271.6 451.4,271.2 451.7,270.9 451.9,270.6 452.1,270.4 452.3,270.1 452.5,269.9 452.7,269.7 452.9,269.5 453.1,269.3 453.3,269.2 453.5,269.1 453.7,269.0 453.9,268.9 454.2,268.8 454.4,268.7 454.7,268.7 454.9,268.8 455.2,268.9 455.4,269.0 455.7,269.2 456.0,269.4 456.2,269.8 456.5,270.2 456.8,270.7 457.1,271.3 457.4,272.0 457.6,272.8 457.9,273.7 458.2,274.6 458.5,275.7 458.7,276.8 459.0,278.1 459.2,279.4 459.5,280.7 459.7,282.1 459.9,283.5 460.2,284.9 460.4,286.4 460.7,287.9 460.9,289.3 461.2,290.8 461.5,292.2 461.8,293.7 462.1,295.2 462.4,296.6 462.6,298.0 462.9,299.3 463.1,300.6 463.4,301.8 463.6,302.9 463.8,304.1 464.0,305.2 464.2,306.4 464.4,307.6 464.6,308.7 464.8,309.9 465.0,311.0 465.2,312.2 465.4,313.4 465.6,314.6 465.8,315.8 466.0,317.1 466.2,318.3 466.5,319.6 466.7,320.8 467.0,322.1 467.2,323.4 467.5,324.7 467.8,325.9 468.1,327.2 468.4,328.3 468.7,329.4 468.9,330.4 469.2,331.3 469.5,332.2 469.8,333.1 470.1,333.8 470.5,334.5 470.9,335.1 471.3,335.7 471.7,336.2 472.1,336.5 472.5,336.7 472.9,336.7 473.2,336.6 473.5,336.4 473.9,336.0 474.2,335.6 474.5,335.1 474.8,334.5 475.1,333.9 475.4,333.1 475.7,332.3 476.0,331.3 476.3,330.3 476.6,329.2 476.9,327.9 477.2,326.6 477.6,325.2 477.9,323.7 478.2,322.3 478.5,320.8 478.8,319.3 479.1,317.8 479.5,316.3 479.8,314.8 480.1,313.3 480.4,311.9 480.7,310.5 481.1,309.2 481.4,307.9 481.7,306.6 482.0,305.3 482.3,304.1 482.6,302.9 482.8,301.8 483.1,300.7 483.3,299.5 483.6,298.3 483.9,297.0 484.1,295.6 484.4,294.2 484.7,292.8 484.9,291.3 485.2,289.9 485.5,288.5 485.7,287.0 486.0,285.5 486.3,284.0 486.5,282.6 486.8,281.2 487.1,279.8 487.3,278.5 487.5,277.2 487.8,276.0 488.0,274.8 488.3,273.6 488.6,272.5 488.9,271.4 489.2,270.4 489.4,269.4 489.7,268.5 490.0,267.7 490.3,266.9 490.5,266.2 490.7,265.6 491.0,265.0 491.2,264.5 491.5,264.0 491.8,263.6 492.1,263.2 492.4,262.9 492.8,262.6 493.1,262.4 493.4,262.2 493.7,262.0 494.0,261.9 494.3,261.8 494.7,261.7 495.0,261.7 495.3,261.7 495.6,261.7 496.0,261.8 496.3,261.9 496.6,262.0 497.0,262.3 497.3,262.6 497.6,263.0 497.9,263.5 498.2,264.1 498.6,264.8 498.9,265.6 499.2,266.4 499.5,267.4 499.9,268.5 500.2,269.7 500.6,270.9 500.9,272.1 501.2,273.2 501.5,274.2 501.7,275.1 501.9,276.0 502.2,276.9 502.4,277.8 502.6,278.8 502.8,279.8 503.0,280.9 503.2,282.0 503.4,283.1 503.6,284.2 503.8,285.3 504.0,286.4 504.2,287.5 504.4,288.6 504.6,289.7 504.8,290.7 505.0,291.8 505.2,292.8 505.4,293.9 505.6,294.9 505.8,295.9 506.0,296.8 506.2,297.8 506.4,298.7 506.6,299.7 506.8,300.6 507.0,301.4 507.3,302.4 507.5,303.3 507.8,304.3 508.1,305.3 508.4,306.4 508.7,307.4 509.0,308.4 509.3,309.3 509.6,310.1 509.9,310.9 510.2,311.7 510.5,312.3 510.8,312.9 511.1,313.5 511.4,314.0 511.7,314.4 512.0,314.8 512.3,315.1 512.6,315.3 512.9,315.5 513.2,315.7 513.5,315.8 513.8,315.8 514.1,315.8 514.4,315.8 514.7,315.6 515.0,315.4 515.3,315.1 515.6,314.8 515.9,314.3 516.2,313.8 516.5,313.2 516.8,312.5 517.1,311.6 517.5,310.7 517.8,309.7 518.1,308.7 518.4,307.7 518.7,306.7 519.0,305.7 519.3,304.7 519.6,303.7 519.9,302.7 520.2,301.7 520.5,300.7 520.8,299.8 521.1,298.9 521.4,298.0 521.7,297.1 522.0,296.2 522.3,295.3 522.6,294.5 522.9,293.7 523.2,292.9 523.5,292.1 523.8,291.4 524.1,290.7 524.4,290.0 524.7,289.4 525.0,288.8 525.3,288.3 525.6,287.8 525.9,287.4 526.2,287.0 526.5,286.7 526.8,286.4 527.1,286.1 527.4,285.9 527.7,285.7 528.0,285.5 528.3,285.3 528.7,285.2 529.0,285.1 529.3,285.1 529.6,285.2 529.9,285.3 530.2,285.5 530.5,285.7 530.8,286.1 531.1,286.5 531.4,287.1 531.7,287.8 532.0,288.5 532.3,289.4 532.6,290.3 532.9,291.2 533.2,292.2 533.5,293.3 533.8,294.4 534.1,295.6 534.4,296.7 534.7,297.8 535.0,298.8 535.3,299.8 535.7,300.8 536.0,301.7 536.3,302.6 536.5,303.4 536.7,304.1 536.9,304.8 537.0,305.4 537.1,306.0 537.2,306.5 537.3,306.8" fill="none" stroke="#D95319" stroke-width="2.3" stroke-linejoin="round"/></g>
<rect x="48.5" y="21.0" width="488.80" height="145.30" fill="none" stroke="#4a4a4a" stroke-width="1.15"/>
<line x1="97.38" y1="166.3" x2="97.38" y2="161.40" stroke="#4a4a4a" stroke-width="1.15"/>
<line x1="97.38" y1="21.0" x2="97.38" y2="25.90" stroke="#4a4a4a" stroke-width="1.15"/>
<line x1="146.26" y1="166.3" x2="146.26" y2="161.40" stroke="#4a4a4a" stroke-width="1.15"/>
<line x1="146.26" y1="21.0" x2="146.26" y2="25.90" stroke="#4a4a4a" stroke-width="1.15"/>
<line x1="195.14" y1="166.3" x2="195.14" y2="161.40" stroke="#4a4a4a" stroke-width="1.15"/>
<line x1="195.14" y1="21.0" x2="195.14" y2="25.90" stroke="#4a4a4a" stroke-width="1.15"/>
<line x1="244.02" y1="166.3" x2="244.02" y2="161.40" stroke="#4a4a4a" stroke-width="1.15"/>
<line x1="244.02" y1="21.0" x2="244.02" y2="25.90" stroke="#4a4a4a" stroke-width="1.15"/>
<line x1="292.90" y1="166.3" x2="292.90" y2="161.40" stroke="#4a4a4a" stroke-width="1.15"/>
<line x1="292.90" y1="21.0" x2="292.90" y2="25.90" stroke="#4a4a4a" stroke-width="1.15"/>
<line x1="341.78" y1="166.3" x2="341.78" y2="161.40" stroke="#4a4a4a" stroke-width="1.15"/>
<line x1="341.78" y1="21.0" x2="341.78" y2="25.90" stroke="#4a4a4a" stroke-width="1.15"/>
<line x1="390.66" y1="166.3" x2="390.66" y2="161.40" stroke="#4a4a4a" stroke-width="1.15"/>
<line x1="390.66" y1="21.0" x2="390.66" y2="25.90" stroke="#4a4a4a" stroke-width="1.15"/>
<line x1="439.54" y1="166.3" x2="439.54" y2="161.40" stroke="#4a4a4a" stroke-width="1.15"/>
<line x1="439.54" y1="21.0" x2="439.54" y2="25.90" stroke="#4a4a4a" stroke-width="1.15"/>
<line x1="488.42" y1="166.3" x2="488.42" y2="161.40" stroke="#4a4a4a" stroke-width="1.15"/>
<line x1="488.42" y1="21.0" x2="488.42" y2="25.90" stroke="#4a4a4a" stroke-width="1.15"/>
<line x1="48.5" y1="28.65" x2="53.40" y2="28.65" stroke="#4a4a4a" stroke-width="1.15"/>
<line x1="537.3" y1="28.65" x2="532.40" y2="28.65" stroke="#4a4a4a" stroke-width="1.15"/>
<line x1="48.5" y1="66.88" x2="53.40" y2="66.88" stroke="#4a4a4a" stroke-width="1.15"/>
<line x1="537.3" y1="66.88" x2="532.40" y2="66.88" stroke="#4a4a4a" stroke-width="1.15"/>
<line x1="48.5" y1="105.12" x2="53.40" y2="105.12" stroke="#4a4a4a" stroke-width="1.15"/>
<line x1="537.3" y1="105.12" x2="532.40" y2="105.12" stroke="#4a4a4a" stroke-width="1.15"/>
<line x1="48.5" y1="143.36" x2="53.40" y2="143.36" stroke="#4a4a4a" stroke-width="1.15"/>
<line x1="537.3" y1="143.36" x2="532.40" y2="143.36" stroke="#4a4a4a" stroke-width="1.15"/>
<rect x="48.5" y="223.5" width="488.80" height="145.50" fill="none" stroke="#4a4a4a" stroke-width="1.15"/>
<line x1="97.38" y1="369.0" x2="97.38" y2="364.10" stroke="#4a4a4a" stroke-width="1.15"/>
<line x1="97.38" y1="223.5" x2="97.38" y2="228.40" stroke="#4a4a4a" stroke-width="1.15"/>
<line x1="146.26" y1="369.0" x2="146.26" y2="364.10" stroke="#4a4a4a" stroke-width="1.15"/>
<line x1="146.26" y1="223.5" x2="146.26" y2="228.40" stroke="#4a4a4a" stroke-width="1.15"/>
<line x1="195.14" y1="369.0" x2="195.14" y2="364.10" stroke="#4a4a4a" stroke-width="1.15"/>
<line x1="195.14" y1="223.5" x2="195.14" y2="228.40" stroke="#4a4a4a" stroke-width="1.15"/>
<line x1="244.02" y1="369.0" x2="244.02" y2="364.10" stroke="#4a4a4a" stroke-width="1.15"/>
<line x1="244.02" y1="223.5" x2="244.02" y2="228.40" stroke="#4a4a4a" stroke-width="1.15"/>
<line x1="292.90" y1="369.0" x2="292.90" y2="364.10" stroke="#4a4a4a" stroke-width="1.15"/>
<line x1="292.90" y1="223.5" x2="292.90" y2="228.40" stroke="#4a4a4a" stroke-width="1.15"/>
<line x1="341.78" y1="369.0" x2="341.78" y2="364.10" stroke="#4a4a4a" stroke-width="1.15"/>
<line x1="341.78" y1="223.5" x2="341.78" y2="228.40" stroke="#4a4a4a" stroke-width="1.15"/>
<line x1="390.66" y1="369.0" x2="390.66" y2="364.10" stroke="#4a4a4a" stroke-width="1.15"/>
<line x1="390.66" y1="223.5" x2="390.66" y2="228.40" stroke="#4a4a4a" stroke-width="1.15"/>
<line x1="439.54" y1="369.0" x2="439.54" y2="364.10" stroke="#4a4a4a" stroke-width="1.15"/>
<line x1="439.54" y1="223.5" x2="439.54" y2="228.40" stroke="#4a4a4a" stroke-width="1.15"/>
<line x1="488.42" y1="369.0" x2="488.42" y2="364.10" stroke="#4a4a4a" stroke-width="1.15"/>
<line x1="488.42" y1="223.5" x2="488.42" y2="228.40" stroke="#4a4a4a" stroke-width="1.15"/>
<line x1="48.5" y1="247.75" x2="53.40" y2="247.75" stroke="#4a4a4a" stroke-width="1.15"/>
<line x1="537.3" y1="247.75" x2="532.40" y2="247.75" stroke="#4a4a4a" stroke-width="1.15"/>
<line x1="48.5" y1="296.25" x2="53.40" y2="296.25" stroke="#4a4a4a" stroke-width="1.15"/>
<line x1="537.3" y1="296.25" x2="532.40" y2="296.25" stroke="#4a4a4a" stroke-width="1.15"/>
<line x1="48.5" y1="344.75" x2="53.40" y2="344.75" stroke="#4a4a4a" stroke-width="1.15"/>
<line x1="537.3" y1="344.75" x2="532.40" y2="344.75" stroke="#4a4a4a" stroke-width="1.15"/>
<rect x="463.5" y="21.0" width="73.80" height="37.40" fill="#fff" stroke="#4a4a4a" stroke-width="1.15"/>
<line x1="467.00" y1="30.5" x2="502.00" y2="30.5" stroke="#0072BD" stroke-opacity="0.3" stroke-width="3.4"/>
<line x1="467.00" y1="30.5" x2="502.00" y2="30.5" stroke="#0072BD" stroke-width="2"/>
<line x1="467.00" y1="48.1" x2="502.00" y2="48.1" stroke="#D95319" stroke-opacity="0.3" stroke-width="3.4"/>
<line x1="467.00" y1="48.1" x2="502.00" y2="48.1" stroke="#D95319" stroke-width="2"/>
<text x="505.00" y="35.3" fill="#000" font-size="13" stroke="#000" stroke-width="0.2">MPC</text>
<text x="505.00" y="52.6" fill="#000" font-size="13" stroke="#000" stroke-width="0.2">LQG</text>
<rect x="464.0" y="223.5" width="73.30" height="37.00" fill="#fff" stroke="#4a4a4a" stroke-width="1.15"/>
<line x1="467.50" y1="233.2" x2="502.50" y2="233.2" stroke="#0072BD" stroke-opacity="0.3" stroke-width="3.4"/>
<line x1="467.50" y1="233.2" x2="502.50" y2="233.2" stroke="#0072BD" stroke-width="2"/>
<line x1="467.50" y1="250.4" x2="502.50" y2="250.4" stroke="#D95319" stroke-opacity="0.3" stroke-width="3.4"/>
<line x1="467.50" y1="250.4" x2="502.50" y2="250.4" stroke="#D95319" stroke-width="2"/>
<text x="505.50" y="237.8" fill="#000" font-size="13" stroke="#000" stroke-width="0.2">MPC</text>
<text x="505.50" y="255.0" fill="#000" font-size="13" stroke="#000" stroke-width="0.2">LQG</text>
<g fill="#262626" font-size="12.5" stroke="#262626" stroke-width="0.12">
<text x="48.50" y="184.9" text-anchor="middle">0</text>
<text x="97.38" y="184.9" text-anchor="middle">10</text>
<text x="146.26" y="184.9" text-anchor="middle">20</text>
<text x="195.14" y="184.9" text-anchor="middle">30</text>
<text x="244.02" y="184.9" text-anchor="middle">40</text>
<text x="292.90" y="184.9" text-anchor="middle">50</text>
<text x="341.78" y="184.9" text-anchor="middle">60</text>
<text x="390.66" y="184.9" text-anchor="middle">70</text>
<text x="439.54" y="184.9" text-anchor="middle">80</text>
<text x="488.42" y="184.9" text-anchor="middle">90</text>
<text x="537.30" y="184.9" text-anchor="middle">100</text>
<text x="48.50" y="387.8" text-anchor="middle">0</text>
<text x="97.38" y="387.8" text-anchor="middle">10</text>
<text x="146.26" y="387.8" text-anchor="middle">20</text>
<text x="195.14" y="387.8" text-anchor="middle">30</text>
<text x="244.02" y="387.8" text-anchor="middle">40</text>
<text x="292.90" y="387.8" text-anchor="middle">50</text>
<text x="341.78" y="387.8" text-anchor="middle">60</text>
<text x="390.66" y="387.8" text-anchor="middle">70</text>
<text x="439.54" y="387.8" text-anchor="middle">80</text>
<text x="488.42" y="387.8" text-anchor="middle">90</text>
<text x="537.30" y="387.8" text-anchor="middle">100</text>
<text x="42.6" y="33.95" text-anchor="end">10</text>
<text x="42.6" y="72.18" text-anchor="end">5</text>
<text x="42.6" y="110.42" text-anchor="end">0</text>
<text x="42.6" y="148.66" text-anchor="end">-5</text>
<text x="42.6" y="253.05" text-anchor="end">2</text>
<text x="42.6" y="301.55" text-anchor="end">0</text>
<text x="42.6" y="350.05" text-anchor="end">-2</text>
<text x="49.6" y="18.3" font-size="13">×</text>
<text x="59.2" y="16.7" font-size="12">10</text>
<text x="73.6" y="10.9" font-size="8.9">-4</text>
<text x="49.6" y="221.1" font-size="13">×</text>
<text x="59.2" y="219.5" font-size="12">10</text>
<text x="73.6" y="213.7" font-size="8.9">-3</text>
</g>
<g fill="#262626" font-size="14.3">
<text x="293.3" y="406.6" text-anchor="middle" font-size="14.1">Time (s)</text>
<text transform="translate(15.7,92.8) rotate(-90)" text-anchor="middle" font-size="14.5">Frequency error (ΔF<tspan font-size="10" dy="6.5">1</tspan><tspan dy="-6.5">)(Hz)</tspan></text>
<text transform="translate(17.8,296.1) rotate(-90)" text-anchor="middle" font-size="14.7">Turbine power error (ΔP<tspan font-size="11" dy="7">wtg</tspan><tspan dy="-7">)(pu)</tspan></text>
</g>
</svg>
</body></html>
